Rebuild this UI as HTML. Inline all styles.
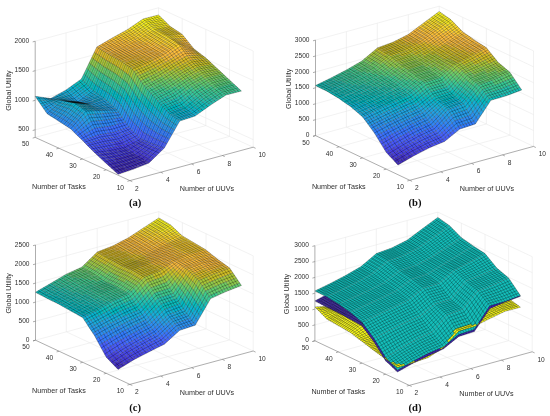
<!DOCTYPE html><html><head><meta charset="utf-8"><title>Figure</title><style>
html,body{margin:0;padding:0;background:#fff}
svg{display:block}
.m{stroke:#000;stroke-width:0.28;stroke-linejoin:round}
.g{stroke:#e8e8e8;stroke-width:.55;fill:none}
.a{stroke:#777;stroke-width:.6;fill:none}
.t{font:6.6px "Liberation Sans",sans-serif;fill:#2e2e2e}
.l{font:7.2px "Liberation Sans",sans-serif;fill:#2e2e2e}
.e{text-anchor:end}
.c{font:bold 10.6px "Liberation Serif",serif;fill:#111}
.k0{fill:#402ab4}.k1{fill:#422ec0}.k2{fill:#4332cb}.k3{fill:#463cde}.k4{fill:#4741e5}.k5{fill:#4747eb}.k6{fill:#4852f4}.k7{fill:#4758f8}.k8{fill:#465efb}.k9{fill:#4563fd}.k10{fill:#3e6fff}.k11{fill:#3875fe}.k12{fill:#327cfc}.k13{fill:#2e87f7}.k14{fill:#2d8cf3}.k15{fill:#2b91ef}.k16{fill:#259be8}.k17{fill:#23a0e5}.k18{fill:#20a5e3}.k19{fill:#18addb}.k20{fill:#12b1d6}.k21{fill:#08b5d0}.k22{fill:#02bac3}.k23{fill:#0bbdbd}.k24{fill:#19bfb6}.k25{fill:#24c1ae}.k26{fill:#31c69f}.k27{fill:#37c897}.k28{fill:#3fca8e}.k29{fill:#57cc7a}.k30{fill:#64cd6f}.k31{fill:#72cd64}.k32{fill:#8fcb4e}.k33{fill:#9dc943}.k34{fill:#abc739}.k35{fill:#c5c22a}.k36{fill:#d1bf27}.k37{fill:#dcbd29}.k38{fill:#f0ba36}.k39{fill:#f8ba3d}.k40{fill:#febe3c}.k41{fill:#fec338}.k42{fill:#fccf30}.k43{fill:#fad62d}.k44{fill:#f7dc2a}.k45{fill:#f5e924}.k46{fill:#f6ef20}.k47{fill:#f7f51b}
.s0{fill:#f6f716}.s1{fill:#3e26a8}.s2{fill:#14beba}
</style></head><body><svg width="550" height="416" viewBox="0 0 550 416">
<path class="g" d="M160.7 172.2L66 129.1M191.6 163.9L96.9 120.7M222.4 155.5L127.7 112.3M253.2 147.2L158.5 104M106.2 169.8L229.5 136.4M82.6 159L205.8 125.6M58.9 148.2L182.2 114.8M35.2 137.4L158.5 104M66 129.1L66 32.9M96.9 120.7L96.9 24.5M127.7 112.3L127.7 16.1M158.5 104L158.5 7.8M253.2 147.2L253.2 51M229.5 136.4L229.5 40.2M205.8 125.6L205.8 29.4M182.2 114.8L182.2 18.6M35.2 129.8L158.5 96.4M158.5 96.4L253.2 139.6M35.2 100.3L158.5 66.9M158.5 66.9L253.2 110.1M35.2 70.7L158.5 37.3M158.5 37.3L253.2 80.5M35.2 41.2L158.5 7.8M158.5 7.8L253.2 51"/>
<path class="k20" d="M35.2 96.3l5.1 .7 3.4 3.5-5.1 .7z"/>
<path class="k19" d="M40.3 97l7.7 1.2 3.4 1.3-7.7 1z"/>
<path class="k18" d="M48 98.2l2.6 .4 2.6-1.4 3.4 1-2.6 1-2.6 .3z"/>
<path class="k19" d="M53.2 97.2l10.3-5.8 3.3 2.9-10.2 3.9z"/>
<path class="k20" d="M63.5 91.4l2.5-1.4 2.6-1.8 3.4 3.3-2.6 1.9-2.6 .9z"/>
<path class="k21" d="M68.6 88.2l5.1-3.7 3.4 3.4-5.1 3.6z"/>
<path class="k22" d="M73.7 84.5l2.6-1.8 3.4 3.3-2.6 1.9z"/>
<path class="k23" d="M76.3 82.7l5.1-3.7 3.4 3.4-5.1 3.6z"/>
<path class="k25" d="M81.4 79l2.6-5.3 3.4 3.1-2.6 5.6z"/>
<path class="k27" d="M84 73.7l2.6-5.3 3.4 2.9-2.6 5.5z"/>
<path class="k30" d="M86.6 68.4l2.5-5.4 3.4 2.7-2.5 5.6z"/>
<path class="k32" d="M89.1 63l2.6-5.3 3.4 2.5-2.6 5.5z"/>
<path class="k35" d="M91.7 57.7l2.6-5.4 3.4 2.3-2.6 5.6z"/>
<path class="k38" d="M94.3 52.3l2.6-5.3 3.3 2-2.5 5.6z"/>
<path class="k39" d="M96.9 47l2.5-1.5 3.4 2.1-2.6 1.4z"/>
<path class="k40" d="M99.4 45.5l7.7-4.5 3.4 2.4-7.7 4.2z"/>
<path class="k41" d="M107.1 41l5.2-3 3.3 2.6-5.1 2.8z"/>
<path class="k42" d="M112.3 38l7.7-4.3 3.4 2.7-7.8 4.2z"/>
<path class="k43" d="M120 33.7l5.1-2.8 3.4 2.8-5.1 2.7z"/>
<path class="k44" d="M125.1 30.9l2.6-1.4 2.5-1.7 3.4 2.8-2.5 1.7-2.6 1.4z"/>
<path class="k45" d="M130.2 27.8l5.2-3.5 3.4 2.8-5.2 3.5z"/>
<path class="k46" d="M135.4 24.3l5.1-3.5 3.4 2.8-5.1 3.5z"/>
<path class="k47" d="M140.5 20.8l2.6-1.8 15.4-4 3.4 3.3-15.4 3.6-2.6 1.7z"/>
<path class="k19" d="M38.6 101.2l15.4-2 15.4-5.8 2.6-1.9 3.4 3.4-2.6 1.8-15.4 3.1-15.4 6.4z"/>
<path class="k20" d="M72 91.5l5.1-3.6 3.4 3.3-5.1 3.7z"/>
<path class="k21" d="M77.1 87.9l2.6-1.9 3.4 3.4-2.6 1.8z"/>
<path class="k22" d="M79.7 86l5.1-3.6 3.4 3.4-5.1 3.6z"/>
<path class="k24" d="M84.8 82.4l2.6-5.6 3.4 3.2-2.6 5.8z"/>
<path class="k27" d="M87.4 76.8l2.6-5.5 3.3 2.9-2.5 5.8z"/>
<path class="k29" d="M90 71.3l2.5-5.6 3.4 2.7-2.6 5.8z"/>
<path class="k32" d="M92.5 65.7l2.6-5.5 3.4 2.4-2.6 5.8z"/>
<path class="k35" d="M95.1 60.2l2.6-5.6 3.3 2.3-2.5 5.7z"/>
<path class="k37" d="M97.7 54.6l2.5-5.6 3.4 2.1-2.6 5.8z"/>
<path class="k39" d="M100.2 49l5.2-2.8 3.4 2.2-5.2 2.7z"/>
<path class="k40" d="M105.4 46.2l7.7-4.2 3.4 2.5-7.7 3.9z"/>
<path class="k41" d="M113.1 42l2.5-1.4 5.2-2.8 3.4 2.7-5.2 2.6-2.5 1.4z"/>
<path class="k42" d="M120.8 37.8l7.7-4.1 3.4 2.7-7.7 4.1z"/>
<path class="k43" d="M128.5 33.7l2.6-1.4 2.5-1.7 3.4 2.8-2.6 1.7-2.5 1.3z"/>
<path class="k44" d="M133.6 30.6l5.2-3.5 3.3 2.9-5.1 3.4z"/>
<path class="k45" d="M138.8 27.1l2.5-1.7 3.4 2.8-2.6 1.8z"/>
<path class="k46" d="M141.3 25.4l5.2-3.5 15.4-3.6 3.4 3.3-15.4 3.2-5.2 3.4z"/>
<path class="k17" d="M42 106.2l5.1-2.2 3.4 3.5-5.2 3.6z"/>
<path class="k18" d="M47.1 104l5.1-2.1 3.4 2-5.1 3.6z"/>
<path class="k19" d="M52.2 101.9l5.2-2.1 7.7-1.6 3.4 2-7.7 .1-5.2 3.6z"/>
<path class="k18" d="M65.1 98.2l7.7-1.5 2.6-1.8 3.3 3.4-2.5 1.8-7.7 .1z"/>
<path class="k19" d="M75.4 94.9l5.1-3.7 3.4 3.4-5.2 3.7z"/>
<path class="k20" d="M80.5 91.2l2.6-1.8 3.3 3.4-2.5 1.8z"/>
<path class="k21" d="M83.1 89.4l5.1-3.6 3.4 3.3-5.2 3.7z"/>
<path class="k23" d="M88.2 85.8l2.6-5.8 3.4 3.1-2.6 6z"/>
<path class="k26" d="M90.8 80l2.5-5.8 3.4 2.9-2.5 6z"/>
<path class="k29" d="M93.3 74.2l2.6-5.8 3.4 2.7-2.6 6z"/>
<path class="k31" d="M95.9 68.4l2.6-5.8 3.4 2.5-2.6 6z"/>
<path class="k34" d="M98.5 62.6l2.5-5.7 3.4 2.2-2.5 6z"/>
<path class="k37" d="M101 56.9l2.6-5.8 3.4 2-2.6 6z"/>
<path class="k39" d="M103.6 51.1l7.7-4 3.4 2.3-7.7 3.7z"/>
<path class="k40" d="M111.3 47.1l7.7-4 2.6-1.3 3.4 2.6-2.6 1.3-7.7 3.7z"/>
<path class="k41" d="M121.6 41.8l5.1-2.7 3.4 2.7-5.1 2.6z"/>
<path class="k42" d="M126.7 39.1l7.7-4 3.4 2.8-7.7 3.9z"/>
<path class="k43" d="M134.4 35.1l5.2-3.4 3.4 2.8-5.2 3.4z"/>
<path class="k44" d="M139.6 31.7l5.1-3.5 3.4 2.9-5.1 3.4z"/>
<path class="k45" d="M144.7 28.2l5.2-3.4 3.3 2.9-5.1 3.4z"/>
<path class="k46" d="M149.9 24.8l2.5-.5 3.4 3-2.6 .4z"/>
<path class="k45" d="M152.4 24.3l12.9-2.7 3.3 3.3-12.8 2.4z"/>
<path class="k15" d="M45.3 111.1l2.6-1.8 1.7 2.1 1.7 1-2.6 2.3-1.7-1.1z"/>
<path class="k16" d="M47.9 109.3l2.6-1.8 1.7 1.8 1.7 .8-2.6 2.3-1.7-1z"/>
<path class="k17" d="M50.5 107.5l2.6-1.8 1.6 1.4 1.7 .7-2.5 2.3-1.7-.8z"/>
<path class="k18" d="M53.1 105.7l2.5-1.8 1.7 1.1 1.7 .5-2.6 2.3-1.7-.7z"/>
<path class="k19" d="M55.6 103.9l5.2-3.6 7.7-.1 1.7 1 1.6 .3-7.7-.6-5.1 4.6-1.7-.5z"/>
<path class="k18" d="M68.5 100.2l5.1-.1 1.7 1.5 1.7 .3-5.2-.4-1.6-.3z"/>
<path class="k17" d="M73.6 100.1l2.6 0 2.5-1.8 1.7 1.6 1.7 .5-2.5 1.7-2.6-.2-1.7-.3z"/>
<path class="k18" d="M78.7 98.3l5.2-3.7 1.7 1.7 1.7 .8-5.2 3.3-1.7-.5z"/>
<path class="k19" d="M83.9 94.6l2.5-1.8 1.7 1.7 1.7 .9-2.5 1.7-1.7-.8z"/>
<path class="k20" d="M86.4 92.8l5.2-3.7 1.7 1.7 1.7 1.2-5.2 3.4-1.7-.9z"/>
<path class="k22" d="M91.6 89.1l2.6-6 1.6 1.6 1.7 1.1-2.5 6.2-1.7-1.2z"/>
<path class="k25" d="M94.2 83.1l2.5-6 1.7 1.5 1.7 1.1-2.6 6.1-1.7-1.1z"/>
<path class="k28" d="M96.7 77.1l2.6-6 1.7 1.4 1.7 1-2.6 6.2-1.7-1.1z"/>
<path class="k31" d="M99.3 71.1l2.6-6 1.6 1.3 1.7 1-2.5 6.1-1.7-1z"/>
<path class="k34" d="M101.9 65.1l2.5-6 1.7 1.1 1.7 1-2.6 6.2-1.7-1z"/>
<path class="k37" d="M104.4 59.1l2.6-6 1.7 1 1.7 1-2.6 6.1-1.7-1z"/>
<path class="k38" d="M107 53.1l2.6-1.2 1.7 1 1.6 1-2.5 1.2-1.7-1z"/>
<path class="k39" d="M109.6 51.9l10.2-5 1.7 1.3 1.7 1.1-10.3 4.6-1.6-1z"/>
<path class="k40" d="M119.8 46.9l2.6-1.2 5.1-2.6 1.7 1.3 1.7 1.2-5.1 2.5-2.6 1.2-1.7-1.1z"/>
<path class="k41" d="M127.5 43.1l7.8-3.9 1.6 1.4 1.7 1.1-7.7 3.9-1.7-1.2z"/>
<path class="k42" d="M135.3 39.2l2.5-1.3 2.6-1.7 1.7 1.4 1.7 1.1-2.6 1.8-2.6 1.2-1.7-1.1z"/>
<path class="k43" d="M140.4 36.2l5.1-3.4 1.7 1.4 1.7 1.1-5.1 3.4-1.7-1.1z"/>
<path class="k44" d="M145.5 32.8l5.2-3.4 1.7 1.5 1.6 1-5.1 3.4-1.7-1.1z"/>
<path class="k45" d="M150.7 29.4l2.5-1.7 10.3-1.9 1.7 1.6 1.7 1.1-10.3 1.6-2.6 1.8-1.6-1z"/>
<path class="k44" d="M163.5 25.8l5.1-.9 1.7 1.6 1.7 1.1-5.1 .9-1.7-1.1z"/>
<path class="k15" d="M48.7 114.7l2.6-2.3 3.4 1.9-2.6 2.6z"/>
<path class="k16" d="M51.3 112.4l2.6-2.3 3.3 1.7-2.5 2.5z"/>
<path class="k17" d="M53.9 110.1l2.5-2.3 3.4 1.4-2.6 2.6z"/>
<path class="k18" d="M56.4 107.8l2.6-2.3 3.4 1.2-2.6 2.5z"/>
<path class="k19" d="M59 105.5l2.6-2.3 3.4 .9-2.6 2.6z"/>
<path class="k20" d="M61.6 103.2l2.5-2.3 2.6 .2 3.4 .7-2.6-.2-2.5 2.5z"/>
<path class="k19" d="M66.7 101.1l5.1 .4 3.4 .7-5.1-.4z"/>
<path class="k18" d="M71.8 101.5l5.2 .4 3.4 .7-5.2-.4z"/>
<path class="k17" d="M77 101.9l2.6 .2 2.5-1.7 3.4 1-2.6 1.4-2.5-.2z"/>
<path class="k18" d="M82.1 100.4l5.2-3.3 3.3 1.5-5.1 2.8z"/>
<path class="k19" d="M87.3 97.1l5.1-3.4 3.4 2.1-5.2 2.8z"/>
<path class="k20" d="M92.4 93.7l2.6-1.7 3.3 2.4-2.5 1.4z"/>
<path class="k21" d="M95 92l2.5-6.2 3.4 2.3-2.6 6.3z"/>
<path class="k24" d="M97.5 85.8l2.6-6.1 3.4 2.2-2.6 6.2z"/>
<path class="k27" d="M100.1 79.7l2.6-6.2 3.4 2.2-2.6 6.2z"/>
<path class="k30" d="M102.7 73.5l2.5-6.1 3.4 2-2.5 6.3z"/>
<path class="k33" d="M105.2 67.4l2.6-6.2 3.4 2-2.6 6.2z"/>
<path class="k36" d="M107.8 61.2l2.6-6.1 3.4 1.8-2.6 6.3z"/>
<path class="k38" d="M110.4 55.1l5.1-2.4 3.4 2-5.1 2.2z"/>
<path class="k39" d="M115.5 52.7l10.3-4.6 3.4 2.2-10.3 4.4z"/>
<path class="k40" d="M125.8 48.1l10.3-5.1 3.3 2.3-10.2 5z"/>
<path class="k41" d="M136.1 43l5.1-2.5 3.4 2.4-5.2 2.4z"/>
<path class="k42" d="M141.2 40.5l5.1-3.5 3.4 2.2-5.1 3.7z"/>
<path class="k43" d="M146.3 37l5.2-3.4 3.4 2-5.2 3.6z"/>
<path class="k44" d="M151.5 33.6l5.1-3.5 3.4 1.9-5.1 3.6z"/>
<path class="k45" d="M156.6 30.1l2.6-.4 3.4 2-2.6 .3z"/>
<path class="k44" d="M159.2 29.7l12.8-2.1 3.4 2.3-12.8 1.8z"/>
<path class="k15" d="M52.1 116.9l2.6-2.6 3.4 1.9-2.6 2.8z"/>
<path class="k16" d="M54.7 114.3l2.5-2.5 3.4 1.6-2.5 2.8z"/>
<path class="k17" d="M57.2 111.8l2.6-2.6 3.4 1.4-2.6 2.8z"/>
<path class="k18" d="M59.8 109.2l2.6-2.5 3.4 1.1-2.6 2.8z"/>
<path class="k19" d="M62.4 106.7l2.6-2.6 3.3 .9-2.5 2.8z"/>
<path class="k20" d="M65 104.1l2.5-2.5 5.2 .4 3.3 .6-5.1-.4-2.6 2.8z"/>
<path class="k19" d="M72.7 102l5.1 .4 3.4 .7-5.2-.5z"/>
<path class="k18" d="M77.8 102.4l5.1 .4 7.7-4.2 3.4 1.5-7.7 3.4-5.1-.4z"/>
<path class="k19" d="M90.6 98.6l7.7-4.2 3.4 2.4-7.7 3.3z"/>
<path class="k21" d="M98.3 94.4l2.6-6.3 3.4 2.3-2.6 6.4z"/>
<path class="k24" d="M100.9 88.1l2.6-6.2 3.4 2.2-2.6 6.3z"/>
<path class="k27" d="M103.5 81.9l2.6-6.2 3.3 2.1-2.5 6.3z"/>
<path class="k30" d="M106.1 75.7l2.5-6.3 3.4 2.1-2.6 6.3z"/>
<path class="k33" d="M108.6 69.4l2.6-6.2 3.4 2-2.6 6.3z"/>
<path class="k36" d="M111.2 63.2l2.6-6.3 3.3 1.9-2.5 6.4z"/>
<path class="k38" d="M113.8 56.9l7.7-3.3 3.3 2.1-7.7 3.1z"/>
<path class="k39" d="M121.5 53.6l7.7-3.3 5.1-2.5 3.4 2.3-5.1 2.4-7.8 3.2z"/>
<path class="k40" d="M134.3 47.8l7.7-3.7 3.4 2.4-7.7 3.6z"/>
<path class="k41" d="M142 44.1l2.6-1.2 2.6-1.8 3.3 2.3-2.5 1.8-2.6 1.3z"/>
<path class="k42" d="M147.2 41.1l5.1-3.7 3.4 2.2-5.2 3.8z"/>
<path class="k43" d="M152.3 37.4l2.6-1.8 3.3 2.1-2.5 1.9z"/>
<path class="k44" d="M154.9 35.6l5.1-3.6 12.8-1.8 3.4 2.2-12.8 1.5-5.2 3.8z"/>
<path class="k43" d="M172.8 30.2l2.6-.3 3.4 2.2-2.6 .3z"/>
<path class="k14" d="M55.5 119l2.6-2.8 3.3 1.9-2.5 3.1z"/>
<path class="k16" d="M58.1 116.2l2.5-2.8 3.4 1.7-2.6 3z"/>
<path class="k17" d="M60.6 113.4l2.6-2.8 3.4 1.4-2.6 3.1z"/>
<path class="k18" d="M63.2 110.6l2.6-2.8 3.4 1.1-2.6 3.1z"/>
<path class="k19" d="M65.8 107.8l2.5-2.8 3.4 .8-2.5 3.1z"/>
<path class="k21" d="M68.3 105l2.6-2.8 2.6 .2 3.4 .6-2.6-.2-2.6 3z"/>
<path class="k20" d="M73.5 102.4l5.1 .4 3.4 .7-5.1-.5z"/>
<path class="k19" d="M78.6 102.8l5.1 .5 3.4 .7-5.1-.5z"/>
<path class="k18" d="M83.7 103.3l2.6 .2 5.2-2.2 3.3 1.2-5.1 1.7-2.6-.2z"/>
<path class="k19" d="M91.5 101.3l10.2-4.5 3.4 2.4-10.3 3.3z"/>
<path class="k21" d="M101.7 96.8l2.6-6.4 3.4 2.3-2.6 6.5z"/>
<path class="k24" d="M104.3 90.4l2.6-6.3 3.3 2.2-2.5 6.4z"/>
<path class="k27" d="M106.9 84.1l2.5-6.3 3.4 2.1-2.6 6.4z"/>
<path class="k30" d="M109.4 77.8l2.6-6.3 3.4 2-2.6 6.4z"/>
<path class="k33" d="M112 71.5l2.6-6.3 3.4 1.9-2.6 6.4z"/>
<path class="k36" d="M114.6 65.2l2.5-6.4 3.4 1.9-2.5 6.4z"/>
<path class="k38" d="M117.1 58.8l12.9-5.2 3.4 2.2-12.9 4.9z"/>
<path class="k39" d="M130 53.6l2.6-1.1 7.7-3.6 3.3 2.3-7.7 3.6-2.5 1z"/>
<path class="k40" d="M140.3 48.9l7.7-3.7 3.3 2.4-7.7 3.6z"/>
<path class="k41" d="M148 45.2l5.1-3.7 3.4 2.2-5.2 3.9z"/>
<path class="k42" d="M153.1 41.5l2.6-1.9 3.4 2.1-2.6 2z"/>
<path class="k43" d="M155.7 39.6l5.1-3.8 3.4 2-5.1 3.9z"/>
<path class="k44" d="M160.8 35.8l2.6-1.9 10.3-1.2 3.3 2.1-10.2 1-2.6 2z"/>
<path class="k43" d="M173.7 32.7l5.1-.6 3.4 2.3-5.2 .4z"/>
<path class="k14" d="M58.9 121.2l2.5-3.1 3.4 2.3-2.5 3z"/>
<path class="k15" d="M61.4 118.1l2.6-3 3.4 2.2-2.6 3.1z"/>
<path class="k17" d="M64 115.1l2.6-3.1 3.4 2.3-2.6 3z"/>
<path class="k18" d="M66.6 112l2.6-3.1 3.3 2.3-2.5 3.1z"/>
<path class="k19" d="M69.2 108.9l2.5-3.1 3.4 2.4-2.6 3z"/>
<path class="k21" d="M71.7 105.8l2.6-3 2.6 .2 3.3 2.3-2.5-.1-2.6 3z"/>
<path class="k20" d="M76.9 103l7.7 .7 3.3 2-7.7-.4z"/>
<path class="k19" d="M84.6 103.7l5.1 .5 3.4 1.8-5.2-.3z"/>
<path class="k18" d="M89.7 104.2l15.4-5 3.4 3-15.4 3.8z"/>
<path class="k20" d="M105.1 99.2l2.6-6.5 3.4 3-2.6 6.5z"/>
<path class="k23" d="M107.7 92.7l2.5-6.4 3.4 2.9-2.5 6.5z"/>
<path class="k26" d="M110.2 86.3l2.6-6.4 3.4 2.8-2.6 6.5z"/>
<path class="k29" d="M112.8 79.9l2.6-6.4 3.4 2.6-2.6 6.6z"/>
<path class="k33" d="M115.4 73.5l2.6-6.4 3.3 2.5-2.5 6.5z"/>
<path class="k36" d="M118 67.1l2.5-6.4 3.4 2.4-2.6 6.5z"/>
<path class="k37" d="M120.5 60.7l2.6-1 3.4 2.4-2.6 1z"/>
<path class="k38" d="M123.1 59.7l12.8-4.9 2.6-1.2 3.4 2.2-2.6 1.2-12.8 5.1z"/>
<path class="k39" d="M138.5 53.6l7.7-3.6 3.4 2.1-7.7 3.7z"/>
<path class="k40" d="M146.2 50l5.2-2.4 2.5-1.9 3.4 2.1-2.6 1.9-5.1 2.4z"/>
<path class="k41" d="M153.9 45.7l2.6-2 3.4 2.1-2.6 2z"/>
<path class="k42" d="M156.5 43.7l5.1-4 3.4 2.3-5.1 3.8z"/>
<path class="k43" d="M161.6 39.7l2.6-1.9 3.4 2.3-2.6 1.9z"/>
<path class="k44" d="M164.2 37.8l2.6-2 5.1-.5 3.4 3-5.2-.1-2.5 1.9z"/>
<path class="k43" d="M171.9 35.3l7.7-.7 3.4 3.9-7.7-.2z"/>
<path class="k42" d="M179.6 34.6l2.6-.2 3.4 4.2-2.6-.1z"/>
<path class="k14" d="M62.3 123.4l2.5-3 3.4 2.2-2.6 3z"/>
<path class="k15" d="M64.8 120.4l2.6-3.1 3.4 2.3-2.6 3z"/>
<path class="k16" d="M67.4 117.3l2.6-3 3.3 2.3-2.5 3z"/>
<path class="k18" d="M70 114.3l2.5-3.1 3.4 2.4-2.6 3z"/>
<path class="k19" d="M72.5 111.2l2.6-3 3.4 2.4-2.6 3z"/>
<path class="k20" d="M75.1 108.2l2.6-3 3.4 2.4-2.6 3z"/>
<path class="k21" d="M77.7 105.2l2.5 .1 3.4 2.3-2.5 0z"/>
<path class="k20" d="M80.2 105.3l5.2 .3 3.4 2.1-5.2-.1z"/>
<path class="k19" d="M85.4 105.6l5.1 .3 3.4 1.9-5.1-.1z"/>
<path class="k18" d="M90.5 105.9l2.6 .1 15.4-3.8 3.4 3.1-15.4 2.5-2.6 0z"/>
<path class="k19" d="M108.5 102.2l2.6-6.5 3.3 2.9-2.5 6.7z"/>
<path class="k22" d="M111.1 95.7l2.5-6.5 3.4 2.8-2.6 6.6z"/>
<path class="k26" d="M113.6 89.2l2.6-6.5 3.4 2.7-2.6 6.6z"/>
<path class="k29" d="M116.2 82.7l2.6-6.6 3.4 2.6-2.6 6.7z"/>
<path class="k32" d="M118.8 76.1l2.5-6.5 3.4 2.5-2.5 6.6z"/>
<path class="k35" d="M121.3 69.6l2.6-6.5 3.4 2.4-2.6 6.6z"/>
<path class="k37" d="M123.9 63.1l10.3-4.1 3.4 2.3-10.3 4.2z"/>
<path class="k38" d="M134.2 59l5.1-2 5.2-2.5 3.3 2.2-5.1 2.5-5.1 2.1z"/>
<path class="k39" d="M144.5 54.5l7.7-3.6 3.3 2.1-7.7 3.7z"/>
<path class="k40" d="M152.2 50.9l2.5-1.2 2.6-1.9 3.4 2.1-2.6 1.8-2.6 1.3z"/>
<path class="k41" d="M157.3 47.8l5.1-3.9 3.4 2.2-5.1 3.8z"/>
<path class="k42" d="M162.4 43.9l2.6-1.9 3.4 2.3-2.6 1.8z"/>
<path class="k43" d="M165 42l5.1-3.8 5.2 .1 3.4 3-5.2-.8-5.1 3.8z"/>
<path class="k42" d="M175.3 38.3l5.1 .1 3.4 3.6-5.1-.7z"/>
<path class="k41" d="M180.4 38.4l5.2 .2 3.3 4.1-5.1-.7z"/>
<path class="k13" d="M65.6 125.6l2.6-3 3.4 2.2-2.6 3z"/>
<path class="k15" d="M68.2 122.6l2.6-3 3.4 2.2-2.6 3z"/>
<path class="k16" d="M70.8 119.6l2.5-3 3.4 2.3-2.5 2.9z"/>
<path class="k17" d="M73.3 116.6l2.6-3 3.4 2.3-2.6 3z"/>
<path class="k18" d="M75.9 113.6l2.6-3 3.4 2.3-2.6 3z"/>
<path class="k20" d="M78.5 110.6l2.6-3 5.1 0 3.4 2.2-5.2 .1-2.5 3z"/>
<path class="k19" d="M86.2 107.6l7.7 .2 3.4 1.9-7.7 .1z"/>
<path class="k18" d="M93.9 107.8l2.6 0 7.7-1.3 3.4 2.5-7.8 .6-2.5 .1z"/>
<path class="k17" d="M104.2 106.5l7.7-1.2 3.4 3-7.7 .7z"/>
<path class="k18" d="M111.9 105.3l2.5-6.7 3.4 3-2.5 6.7z"/>
<path class="k22" d="M114.4 98.6l2.6-6.6 3.4 2.9-2.6 6.7z"/>
<path class="k25" d="M117 92l2.6-6.6 3.4 2.7-2.6 6.8z"/>
<path class="k28" d="M119.6 85.4l2.6-6.7 3.3 2.7-2.5 6.7z"/>
<path class="k31" d="M122.2 78.7l2.5-6.6 3.4 2.5-2.6 6.8z"/>
<path class="k35" d="M124.7 72.1l2.6-6.6 3.4 2.4-2.6 6.7z"/>
<path class="k36" d="M127.3 65.5l2.6-1.1 3.3 2.4-2.5 1.1z"/>
<path class="k37" d="M129.9 64.4l12.8-5.2 3.4 2.2-12.9 5.4z"/>
<path class="k38" d="M142.7 59.2l7.7-3.7 3.4 2.1-7.7 3.8z"/>
<path class="k39" d="M150.4 55.5l7.7-3.8 3.4 2.1-7.7 3.8z"/>
<path class="k40" d="M158.1 51.7l5.2-3.7 3.3 2.2-5.1 3.6z"/>
<path class="k41" d="M163.3 48l2.5-1.9 3.4 2.3-2.6 1.8z"/>
<path class="k42" d="M165.8 46.1l5.2-3.7 3.3 2.3-5.1 3.7z"/>
<path class="k43" d="M171 42.4l2.5-1.9 2.6 .4 3.4 2.7-2.6-.7-2.6 1.8z"/>
<path class="k42" d="M176.1 40.9l2.6 .4 3.3 3-2.5-.7z"/>
<path class="k41" d="M178.7 41.3l5.1 .7 3.4 3.6-5.2-1.3z"/>
<path class="k40" d="M183.8 42l2.6 .4 3.4 3.8-2.6-.6z"/>
<path class="k39" d="M186.4 42.4l2.5 .3 3.4 4.2-2.5-.7z"/>
<path class="k13" d="M69 127.8l2.6-3 1.7 1.1 1.7 2-2.6 2.7-1.7-1.7z"/>
<path class="k14" d="M71.6 124.8l2.6-3 1.6 1.2 1.7 2.2-2.5 2.7-1.7-2z"/>
<path class="k15" d="M74.2 121.8l2.5-2.9 1.7 1.1 1.7 2.5-2.6 2.7-1.7-2.2z"/>
<path class="k16" d="M76.7 118.9l2.6-3 1.7 1.2 1.7 2.8-2.6 2.6-1.7-2.5z"/>
<path class="k18" d="M79.3 115.9l2.6-3 1.7 1.2 1.6 3.1-2.5 2.7-1.7-2.8z"/>
<path class="k19" d="M81.9 112.9l2.5-3 7.7-.1 1.7 1 1.7 3.3-7.7 .4-2.6 2.7-1.6-3.1z"/>
<path class="k18" d="M92.1 109.8l7.7-.2 1.7 .9 1.7 3.1-7.7 .5-1.7-3.3z"/>
<path class="k17" d="M99.8 109.6l7.8-.6 1.6 1.2 1.7 2.8-7.7 .6-1.7-3.1z"/>
<path class="k16" d="M107.6 109l7.7-.7 1.6 1.6 1.7 2.4-7.7 .7-1.7-2.8z"/>
<path class="k17" d="M115.3 108.3l2.5-6.7 1.7 1.5 1.7 2.4-2.6 6.8-1.7-2.4z"/>
<path class="k21" d="M117.8 101.6l2.6-6.7 1.7 1.4 1.7 2.4-2.6 6.8-1.7-2.4z"/>
<path class="k24" d="M120.4 94.9l2.6-6.8 1.7 1.4 1.6 2.4-2.5 6.8-1.7-2.4z"/>
<path class="k27" d="M123 88.1l2.5-6.7 1.7 1.3 1.7 2.4-2.6 6.8-1.6-2.4z"/>
<path class="k31" d="M125.5 81.4l2.6-6.8 1.7 1.3 1.7 2.4-2.6 6.8-1.7-2.4z"/>
<path class="k34" d="M128.1 74.6l2.6-6.7 1.7 1.2 1.7 2.3-2.6 6.9-1.7-2.4z"/>
<path class="k36" d="M130.7 67.9l10.2-4.3 1.7 1.1 1.7 2.3-10.2 4.4-1.7-2.3z"/>
<path class="k37" d="M140.9 63.6l5.2-2.2 5.1-2.5 1.7 1.1 1.7 2.1-5.1 2.6-5.2 2.3-1.7-2.3z"/>
<path class="k38" d="M151.2 58.9l7.7-3.8 1.7 1 1.7 2-7.7 4-1.7-2.1z"/>
<path class="k39" d="M158.9 55.1l2.6-1.3 2.6-1.8 1.7 1 1.6 2-2.5 1.8-2.6 1.3-1.7-2z"/>
<path class="k40" d="M164.1 52l5.1-3.6 1.7 1.1 1.7 2.1-5.2 3.4-1.6-2z"/>
<path class="k41" d="M169.2 48.4l2.6-1.8 1.7 1.1 1.7 2.2-2.6 1.7-1.7-2.1z"/>
<path class="k42" d="M171.8 46.6l5.1-3.7 2.6 .7 1.7 1.3 1.7 2.2-2.6-.7-5.1 3.5-1.7-2.2z"/>
<path class="k41" d="M179.5 43.6l5.1 1.3 1.7 1.7 1.7 1.8-5.1-1.3-1.7-2.2z"/>
<path class="k40" d="M184.6 44.9l2.6 .7 1.7 1.8 1.7 1.6-2.6-.6-1.7-1.8z"/>
<path class="k39" d="M187.2 45.6l2.6 .6 1.6 2 1.7 1.4-2.5-.6-1.7-1.6z"/>
<path class="k38" d="M189.8 46.2l2.5 .7 1.7 2.1 1.7 1.3-2.6-.7-1.7-1.4z"/>
<path class="k12" d="M72.4 130.6l2.6-2.7 3.4 3.9-2.6 2.1z"/>
<path class="k13" d="M75 127.9l2.5-2.7 3.4 4.5-2.5 2.1z"/>
<path class="k14" d="M77.5 125.2l2.6-2.7 3.4 5.1-2.6 2.1z"/>
<path class="k15" d="M80.1 122.5l2.6-2.6 3.4 5.6-2.6 2.1z"/>
<path class="k16" d="M82.7 119.9l2.5-2.7 3.4 6.2-2.5 2.1z"/>
<path class="k17" d="M85.2 117.2l2.6-2.7 5.2-.3 3.3 6.6-5.1 .5-2.6 2.1z"/>
<path class="k16" d="M93 114.2l7.7-.4 3.3 6.3-7.7 .7z"/>
<path class="k15" d="M100.7 113.8l2.5-.2 10.3-.8 3.4 5.3-10.3 1.8-2.6 .2z"/>
<path class="k14" d="M113.5 112.8l5.1-.5 3.4 5-5.1 .8z"/>
<path class="k16" d="M118.6 112.3l2.6-6.8 3.4 4.9-2.6 6.9z"/>
<path class="k19" d="M121.2 105.5l2.6-6.8 3.4 4.9-2.6 6.8z"/>
<path class="k22" d="M123.8 98.7l2.5-6.8 3.4 4.8-2.5 6.9z"/>
<path class="k26" d="M126.3 91.9l2.6-6.8 3.4 4.8-2.6 6.8z"/>
<path class="k29" d="M128.9 85.1l2.6-6.8 3.4 4.7-2.6 6.9z"/>
<path class="k32" d="M131.5 78.3l2.6-6.9 3.3 4.8-2.5 6.8z"/>
<path class="k34" d="M134.1 71.4l2.5-1.1 3.4 4.7-2.6 1.2z"/>
<path class="k35" d="M136.6 70.3l12.9-5.6 3.3 4.4-12.8 5.9z"/>
<path class="k36" d="M149.5 64.7l5.1-2.6 3.4 4.2-5.2 2.8z"/>
<path class="k37" d="M154.6 62.1l7.7-4 3.4 4-7.7 4.2z"/>
<path class="k38" d="M162.3 58.1l2.6-1.3 2.5-1.8 3.4 4.1-2.5 1.6-2.6 1.4z"/>
<path class="k39" d="M167.4 55l5.2-3.4 3.4 4.2-5.2 3.3z"/>
<path class="k40" d="M172.6 51.6l5.1-3.5 3.4 4.5-5.1 3.2z"/>
<path class="k41" d="M177.7 48.1l2.6-1.7 2.6 .7 3.3 4.2-2.5-.3-2.6 1.6z"/>
<path class="k40" d="M182.9 47.1l2.5 .6 3.4 3.9-2.6-.3z"/>
<path class="k39" d="M185.4 47.7l5.2 1.3 3.3 3.2-5.1-.6z"/>
<path class="k38" d="M190.6 49l2.5 .6 3.4 2.9-2.6-.3z"/>
<path class="k37" d="M193.1 49.6l2.6 .7 3.4 2.6-2.6-.4z"/>
<path class="k11" d="M75.8 133.9l5.1-4.2 3.4 4.5-5.1 3.1z"/>
<path class="k12" d="M80.9 129.7l2.6-2.1 3.4 5.1-2.6 1.5z"/>
<path class="k13" d="M83.5 127.6l5.1-4.2 3.4 6.2-5.1 3.1z"/>
<path class="k14" d="M88.6 123.4l2.6-2.1 7.7-.7 3.4 6.5-7.7 1-2.6 1.5z"/>
<path class="k13" d="M98.9 120.6l7.7-.7 7.7-1.3 3.4 5.6-7.7 2-7.7 .9z"/>
<path class="k12" d="M114.3 118.6l7.7-1.3 3.4 4.9-7.7 2z"/>
<path class="k14" d="M122 117.3l2.6-6.9 3.4 4.9-2.6 6.9z"/>
<path class="k17" d="M124.6 110.4l2.6-6.8 3.3 4.8-2.5 6.9z"/>
<path class="k21" d="M127.2 103.6l2.5-6.9 3.4 4.9-2.6 6.8z"/>
<path class="k24" d="M129.7 96.7l2.6-6.8 3.4 4.8-2.6 6.9z"/>
<path class="k27" d="M132.3 89.9l2.6-6.9 3.3 4.8-2.5 6.9z"/>
<path class="k31" d="M134.9 83l2.5-6.8 3.4 4.7-2.6 6.9z"/>
<path class="k33" d="M137.4 76.2l10.3-4.7 3.4 4.5-10.3 4.9z"/>
<path class="k34" d="M147.7 71.5l5.1-2.4 2.6-1.4 3.4 4.4-2.6 1.5-5.1 2.4z"/>
<path class="k35" d="M155.4 67.7l5.2-2.8 3.3 4.2-5.1 3z"/>
<path class="k36" d="M160.6 64.9l7.7-4.2 3.3 3.9-7.7 4.5z"/>
<path class="k37" d="M168.3 60.7l5.1-3.3 3.4 4.2-5.2 3z"/>
<path class="k38" d="M173.4 57.4l5.1-3.2 3.4 4.4-5.1 3z"/>
<path class="k39" d="M178.5 54.2l5.2-3.2 5.1 .6 3.4 3.9-5.1 .1-5.2 3z"/>
<path class="k38" d="M188.8 51.6l5.1 .6 3.4 3.3-5.1 0z"/>
<path class="k37" d="M193.9 52.2l5.2 .7 3.4 2.5-5.2 .1z"/>
<path class="k10" d="M79.2 137.3l7.7-4.6 3.4 5-7.7 2.9z"/>
<path class="k11" d="M86.9 132.7l7.7-4.6 10.3-1.3 3.3 6.5-10.2 1.6-7.7 2.8z"/>
<path class="k10" d="M104.9 126.8l5.1-.6 15.4-4 3.4 4.9-15.4 5.3-5.2 .9z"/>
<path class="k12" d="M125.4 122.2l2.6-6.9 3.4 4.9-2.6 6.9z"/>
<path class="k16" d="M128 115.3l2.5-6.9 3.4 4.9-2.5 6.9z"/>
<path class="k19" d="M130.5 108.4l2.6-6.8 3.4 4.8-2.6 6.9z"/>
<path class="k22" d="M133.1 101.6l2.6-6.9 3.4 4.8-2.6 6.9z"/>
<path class="k26" d="M135.7 94.7l2.5-6.9 3.4 4.8-2.5 6.9z"/>
<path class="k29" d="M138.2 87.8l2.6-6.9 3.4 4.8-2.6 6.9z"/>
<path class="k31" d="M140.8 80.9l7.7-3.7 3.4 4.6-7.7 3.9z"/>
<path class="k32" d="M148.5 77.2l7.7-3.6 3.4 4.4-7.7 3.8z"/>
<path class="k33" d="M156.2 73.6l5.2-3 3.3 4.2-5.1 3.2z"/>
<path class="k34" d="M161.4 70.6l5.1-3 3.4 4-5.2 3.2z"/>
<path class="k35" d="M166.5 67.6l5.1-3 2.6-1.5 3.4 4-2.6 1.4-5.1 3.1z"/>
<path class="k36" d="M174.2 63.1l5.1-3 3.4 4.2-5.1 2.8z"/>
<path class="k37" d="M179.3 60.1l7.8-4.5 3.3 4.6-7.7 4.1z"/>
<path class="k38" d="M187.1 55.6l2.5 0 3.4 4.2-2.6 .4z"/>
<path class="k37" d="M189.6 55.6l7.7-.1 3.4 3.2-7.7 1.1z"/>
<path class="k36" d="M197.3 55.5l5.2-.1 3.3 2.6-5.1 .7z"/>
<path class="k9" d="M82.6 140.6l15.4-5.7 10.2-1.6 3.4 4.3-10.3 1.7-15.4 4.7z"/>
<path class="k8" d="M108.2 133.3l5.2-.9 5.1-1.7 3.4 3.9-5.1 2.1-5.2 .9z"/>
<path class="k9" d="M118.5 130.7l10.3-3.6 3.4 3.4-10.3 4.1z"/>
<path class="k11" d="M128.8 127.1l2.6-6.9 3.3 3.4-2.5 6.9z"/>
<path class="k14" d="M131.4 120.2l2.5-6.9 3.4 3.5-2.6 6.8z"/>
<path class="k17" d="M133.9 113.3l2.6-6.9 3.4 3.6-2.6 6.8z"/>
<path class="k21" d="M136.5 106.4l2.6-6.9 3.3 3.6-2.5 6.9z"/>
<path class="k24" d="M139.1 99.5l2.5-6.9 3.4 3.7-2.6 6.8z"/>
<path class="k28" d="M141.6 92.6l2.6-6.9 3.4 3.7-2.6 6.9z"/>
<path class="k29" d="M144.2 85.7l2.6-1.3 3.4 3.7-2.6 1.3z"/>
<path class="k30" d="M146.8 84.4l7.7-3.9 3.4 3.8-7.7 3.8z"/>
<path class="k31" d="M154.5 80.5l5.1-2.5 2.6-1.6 3.4 3.7-2.6 1.6-5.1 2.6z"/>
<path class="k32" d="M162.2 76.4l5.1-3.2 3.4 3.7-5.1 3.2z"/>
<path class="k33" d="M167.3 73.2l5.2-3.1 3.3 3.6-5.1 3.2z"/>
<path class="k34" d="M172.5 70.1l2.5-1.6 2.6-1.4 3.4 3.6-2.6 1.3-2.6 1.7z"/>
<path class="k35" d="M177.6 67.1l7.7-4.2 3.4 3.6-7.7 4.2z"/>
<path class="k36" d="M185.3 62.9l5.1-2.7 12.9-1.8 3.4 3.2-12.9 2.1-5.1 2.8z"/>
<path class="k35" d="M203.3 58.4l2.5-.4 3.4 3.1-2.5 .5z"/>
<path class="k7" d="M85.9 144l15.4-4.7 15.5-2.6 10.2-4.1 3.4 3.6-10.3 4.7-15.4 2.9-15.4 3.6z"/>
<path class="k8" d="M127 132.6l5.2-2.1 3.4 3.4-5.2 2.3z"/>
<path class="k10" d="M132.2 130.5l2.5-6.9 3.4 3.5-2.5 6.8z"/>
<path class="k13" d="M134.7 123.6l2.6-6.8 3.4 3.5-2.6 6.8z"/>
<path class="k16" d="M137.3 116.8l2.6-6.8 3.4 3.5-2.6 6.8z"/>
<path class="k20" d="M139.9 110l2.5-6.9 3.4 3.6-2.5 6.8z"/>
<path class="k23" d="M142.4 103.1l2.6-6.8 3.4 3.7-2.6 6.7z"/>
<path class="k26" d="M145 96.3l2.6-6.9 3.4 3.8-2.6 6.8z"/>
<path class="k28" d="M147.6 89.4l5.1-2.5 3.4 3.7-5.1 2.6z"/>
<path class="k29" d="M152.7 86.9l7.7-3.9 3.4 3.7-7.7 3.9z"/>
<path class="k30" d="M160.4 83l2.6-1.3 2.6-1.6 3.3 3.7-2.5 1.6-2.6 1.3z"/>
<path class="k31" d="M165.6 80.1l5.1-3.2 3.4 3.6-5.2 3.3z"/>
<path class="k32" d="M170.7 76.9l5.1-3.2 3.4 3.6-5.1 3.2z"/>
<path class="k33" d="M175.8 73.7l2.6-1.7 2.6-1.3 3.4 3.5-2.6 1.4-2.6 1.7z"/>
<path class="k34" d="M181 70.7l7.7-4.2 3.4 3.6-7.7 4.1z"/>
<path class="k35" d="M188.7 66.5l5.1-2.8 15.4-2.6 3.4 3.2-15.4 3-5.1 2.8z"/>
<path class="k6" d="M89.3 147.4l15.4-3.6 7.7-1.4 3.4 4.4-7.7 1.5-15.4 2.5z"/>
<path class="k5" d="M112.4 142.4l7.7-1.5 2.6-1.1 3.4 4.1-2.6 1.3-7.7 1.6z"/>
<path class="k6" d="M122.7 139.8l7.7-3.6 3.4 3.7-7.7 4z"/>
<path class="k7" d="M130.4 136.2l5.2-2.3 3.3 3.4-5.1 2.6z"/>
<path class="k9" d="M135.6 133.9l2.5-6.8 3.4 3.5-2.6 6.7z"/>
<path class="k12" d="M138.1 127.1l2.6-6.8 3.4 3.5-2.6 6.8z"/>
<path class="k15" d="M140.7 120.3l2.6-6.8 3.3 3.6-2.5 6.7z"/>
<path class="k19" d="M143.3 113.5l2.5-6.8 3.4 3.7-2.6 6.7z"/>
<path class="k22" d="M145.8 106.7l2.6-6.7 3.4 3.6-2.6 6.8z"/>
<path class="k25" d="M148.4 100l2.6-6.8 3.3 3.7-2.5 6.7z"/>
<path class="k27" d="M151 93.2l5.1-2.6 3.4 3.7-5.2 2.6z"/>
<path class="k28" d="M156.1 90.6l7.7-3.9 3.4 3.8-7.7 3.8z"/>
<path class="k29" d="M163.8 86.7l2.6-1.3 2.5-1.6 3.4 3.7-2.5 1.7-2.6 1.3z"/>
<path class="k30" d="M168.9 83.8l5.2-3.3 3.4 3.7-5.2 3.3z"/>
<path class="k31" d="M174.1 80.5l5.1-3.2 3.4 3.6-5.1 3.3z"/>
<path class="k32" d="M179.2 77.3l2.6-1.7 5.1-2.8 3.4 3.6-5.1 2.8-2.6 1.7z"/>
<path class="k33" d="M186.9 72.8l5.2-2.7 3.3 3.5-5.1 2.8z"/>
<path class="k34" d="M192.1 70.1l5.1-2.8 15.4-3 3.4 3.1-15.4 3.5-5.2 2.7z"/>
<path class="k5" d="M92.7 150.8l12.8-2 1.7 2.1 1.7 1.4-12.8 1.8-1.7-1.6z"/>
<path class="k4" d="M105.5 148.8l2.6-.5 15.4-3.1 5.2-2.6 1.7 1.9 1.6 1.1-5.1 2.9-15.4 3.5-2.6 .3-1.7-1.4z"/>
<path class="k5" d="M128.7 142.6l5.1-2.7 1.7 1.9 1.7 .8-5.2 3-1.6-1.1z"/>
<path class="k6" d="M133.8 139.9l5.1-2.6 1.7 1.7 1.7 .7-5.1 2.9-1.7-.8z"/>
<path class="k8" d="M138.9 137.3l2.6-6.7 1.7 1.7 1.7 .9-2.6 6.5-1.7-.7z"/>
<path class="k11" d="M141.5 130.6l2.6-6.8 1.7 1.8 1.7 1.1-2.6 6.5-1.7-.9z"/>
<path class="k14" d="M144.1 123.8l2.5-6.7 1.7 1.8 1.7 1.3-2.5 6.5-1.7-1.1z"/>
<path class="k18" d="M146.6 117.1l2.6-6.7 1.7 1.8 1.7 1.5-2.6 6.5-1.7-1.3z"/>
<path class="k21" d="M149.2 110.4l2.6-6.8 1.7 1.9 1.7 1.7-2.6 6.5-1.7-1.5z"/>
<path class="k24" d="M151.8 103.6l2.5-6.7 1.7 1.9 1.7 1.9-2.5 6.5-1.7-1.7z"/>
<path class="k26" d="M154.3 96.9l7.8-3.9 1.6 1.9 1.7 2.1-7.7 3.7-1.7-1.9z"/>
<path class="k27" d="M162.1 93l7.7-3.8 1.6 1.9 1.7 2.2-7.7 3.7-1.7-2.1z"/>
<path class="k28" d="M169.8 89.2l5.1-3.3 1.7 1.8 1.7 2.1-5.2 3.5-1.7-2.2z"/>
<path class="k29" d="M174.9 85.9l5.1-3.4 1.7 1.8 1.7 2-5.1 3.5-1.7-2.1z"/>
<path class="k30" d="M180 82.5l5.2-3.3 1.7 1.8 1.7 1.8-5.2 3.5-1.7-2z"/>
<path class="k31" d="M185.2 79.2l5.1-2.8 1.7 1.8 1.7 1.8-5.1 2.8-1.7-1.8z"/>
<path class="k32" d="M190.3 76.4l7.7-4.1 1.7 1.7 1.7 1.8-7.7 4.2-1.7-1.8z"/>
<path class="k33" d="M198 72.3l2.6-1.4 15.4-3.5 1.7 1.6 1.7 1.6-15.4 3.8-2.6 1.4-1.7-1.8z"/>
<path class="k5" d="M96.1 154.1l2.5-.4 3.4 3.1-2.5 .4z"/>
<path class="k4" d="M98.6 153.7l12.9-1.7 5.1-1.2 3.4 2.6-5.1 1.3-12.9 2.1z"/>
<path class="k3" d="M116.6 150.8l10.3-2.3 3.4 2.4-10.3 2.5z"/>
<path class="k4" d="M126.9 148.5l7.7-4.4 3.4 1.9-7.7 4.9z"/>
<path class="k5" d="M134.6 144.1l5.1-3 3.4 1.6-5.1 3.3z"/>
<path class="k6" d="M139.7 141.1l2.6-1.4 3.4 1.4-2.6 1.6z"/>
<path class="k8" d="M142.3 139.7l2.6-6.5 3.4 1.8-2.6 6.1z"/>
<path class="k11" d="M144.9 133.2l2.6-6.5 3.3 2.2-2.5 6.1z"/>
<path class="k14" d="M147.5 126.7l2.5-6.5 3.4 2.6-2.6 6.1z"/>
<path class="k17" d="M150 120.2l2.6-6.5 3.4 3.1-2.6 6z"/>
<path class="k20" d="M152.6 113.7l2.6-6.5 3.3 3.5-2.5 6.1z"/>
<path class="k23" d="M155.2 107.2l2.5-6.5 3.4 3.9-2.6 6.1z"/>
<path class="k24" d="M157.7 100.7l2.6-1.2 3.4 4-2.6 1.1z"/>
<path class="k25" d="M160.3 99.5l7.7-3.7 3.4 4.3-7.7 3.4z"/>
<path class="k26" d="M168 95.8l5.1-2.5 2.6-1.7 3.4 4.3-2.6 1.9-5.1 2.3z"/>
<path class="k27" d="M175.7 91.6l5.1-3.5 3.4 4.1-5.1 3.7z"/>
<path class="k28" d="M180.8 88.1l2.6-1.8 3.4 4-2.6 1.9z"/>
<path class="k29" d="M183.4 86.3l5.2-3.5 3.3 3.8-5.1 3.7z"/>
<path class="k30" d="M188.6 82.8l5.1-2.8 3.4 3.6-5.2 3z"/>
<path class="k31" d="M193.7 80l7.7-4.2 3.4 3.4-7.7 4.4z"/>
<path class="k32" d="M201.4 75.8l2.6-1.4 15.4-3.8 3.4 3.1-15.5 4.1-2.5 1.4z"/>
<path class="k4" d="M99.5 157.2l5.1-.8 3.4 2.9-5.2 1z"/>
<path class="k3" d="M104.6 156.4l10.3-1.7 15.4-3.8 2.6-1.7 3.3 2.3-2.5 1.8-15.4 4.1-10.3 1.9z"/>
<path class="k4" d="M132.9 149.2l5.1-3.2 3.4 1.9-5.2 3.6z"/>
<path class="k5" d="M138 146l5.1-3.3 3.4 1.5-5.1 3.7z"/>
<path class="k6" d="M143.1 142.7l2.6-1.6 3.4 1.3-2.6 1.8z"/>
<path class="k8" d="M145.7 141.1l2.6-6.1 3.3 1.8-2.5 5.6z"/>
<path class="k10" d="M148.3 135l2.5-6.1 3.4 2.2-2.6 5.7z"/>
<path class="k13" d="M150.8 128.9l2.6-6.1 3.4 2.7-2.6 5.6z"/>
<path class="k16" d="M153.4 122.8l2.6-6 3.4 3-2.6 5.7z"/>
<path class="k19" d="M156 116.8l2.5-6.1 3.4 3.5-2.5 5.6z"/>
<path class="k22" d="M158.5 110.7l2.6-6.1 3.4 3.9-2.6 5.7z"/>
<path class="k23" d="M161.1 104.6l5.1-2.2 3.4 4.1-5.1 2z"/>
<path class="k24" d="M166.2 102.4l10.3-4.6 3.4 4.5-10.3 4.2z"/>
<path class="k25" d="M176.5 97.8l5.2-3.7 3.3 4.2-5.1 4z"/>
<path class="k26" d="M181.7 94.1l2.5-1.9 3.4 4.1-2.6 2z"/>
<path class="k27" d="M184.2 92.2l5.2-3.8 3.3 3.9-5.1 4z"/>
<path class="k28" d="M189.4 88.4l2.5-1.8 3.4 3.7-2.6 2z"/>
<path class="k29" d="M191.9 86.6l7.7-4.4 3.4 3.5-7.7 4.6z"/>
<path class="k30" d="M199.6 82.2l5.2-3 3.4 3.5-5.2 3z"/>
<path class="k31" d="M204.8 79.2l2.5-1.4 15.5-4.1 3.3 3.2-15.4 4.3-2.5 1.5z"/>
<path class="k3" d="M102.8 160.3l10.3-1.9 3.4 2.8-10.3 2.2z"/>
<path class="k2" d="M113.1 158.4l5.2-1 15.4-4.1 3.3 2.4-15.4 4.4-5.1 1.1z"/>
<path class="k3" d="M133.7 153.3l5.1-3.6 3.4 2-5.2 4z"/>
<path class="k4" d="M138.8 149.7l2.6-1.8 3.4 1.8-2.6 2z"/>
<path class="k5" d="M141.4 147.9l5.1-3.7 3.4 1.6-5.1 3.9z"/>
<path class="k6" d="M146.5 144.2l2.6-1.8 3.4 1.4-2.6 2z"/>
<path class="k8" d="M149.1 142.4l2.5-5.6 3.4 1.8-2.5 5.2z"/>
<path class="k10" d="M151.6 136.8l2.6-5.7 3.4 2.2-2.6 5.3z"/>
<path class="k13" d="M154.2 131.1l2.6-5.6 3.4 2.6-2.6 5.2z"/>
<path class="k15" d="M156.8 125.5l2.6-5.7 3.3 3.1-2.5 5.2z"/>
<path class="k18" d="M159.4 119.8l2.5-5.6 3.4 3.5-2.6 5.2z"/>
<path class="k20" d="M161.9 114.2l2.6-5.7 3.4 3.9-2.6 5.3z"/>
<path class="k22" d="M164.5 108.5l12.8-5.2 3.4 4.4-12.8 4.7z"/>
<path class="k23" d="M177.3 103.3l2.6-1 2.6-2 3.4 4.4-2.6 2.1-2.6 .9z"/>
<path class="k24" d="M182.5 100.3l2.5-2 3.4 4.2-2.5 2.2z"/>
<path class="k25" d="M185 98.3l5.2-4 3.4 4-5.2 4.2z"/>
<path class="k26" d="M190.2 94.3l2.5-2 3.4 3.9-2.5 2.1z"/>
<path class="k27" d="M192.7 92.3l2.6-2 2.6-1.5 3.4 3.7-2.6 1.6-2.6 2.1z"/>
<path class="k28" d="M197.9 88.8l5.1-3.1 3.4 3.6-5.1 3.2z"/>
<path class="k29" d="M203 85.7l5.2-3 3.3 3.4-5.1 3.2z"/>
<path class="k30" d="M208.2 82.7l2.5-1.5 15.4-4.3 3.4 3.1-15.4 4.6-2.6 1.5z"/>
<path class="k2" d="M106.2 163.4l15.4-3.3 15.4-4.4 2.6-2 3.4 1.9-2.6 2.2-15.4 4.9-15.4 3.8z"/>
<path class="k3" d="M139.6 153.7l2.6-2 3.4 1.8-2.6 2.1z"/>
<path class="k4" d="M142.2 151.7l2.6-2 3.3 1.7-2.5 2.1z"/>
<path class="k5" d="M144.8 149.7l5.1-3.9 3.4 1.3-5.2 4.3z"/>
<path class="k6" d="M149.9 145.8l2.6-2 3.3 1.2-2.5 2.1z"/>
<path class="k8" d="M152.5 143.8l2.5-5.2 3.4 1.4-2.6 5z"/>
<path class="k10" d="M155 138.6l2.6-5.2 3.4 1.6-2.6 5z"/>
<path class="k12" d="M157.6 133.3l2.6-5.3 3.4 1.8-2.6 5.1z"/>
<path class="k15" d="M160.2 128.1l2.5-5.2 3.4 2-2.5 5z"/>
<path class="k17" d="M162.7 122.9l2.6-5.2 3.4 2.2-2.6 5z"/>
<path class="k20" d="M165.3 117.7l2.6-5.3 3.4 2.5-2.6 5z"/>
<path class="k21" d="M167.9 112.4l12.8-4.7 3.4 2.6-12.8 4.6z"/>
<path class="k22" d="M180.7 107.7l2.6-.9 2.6-2.1 3.3 2.7-2.5 2-2.6 .9z"/>
<path class="k23" d="M185.9 104.7l5.1-4.3 3.4 2.9-5.2 4.1z"/>
<path class="k24" d="M191 100.4l2.6-2.1 3.3 3-2.5 2z"/>
<path class="k25" d="M193.6 98.3l2.5-2.1 3.4 3-2.6 2.1z"/>
<path class="k26" d="M196.1 96.2l2.6-2.1 2.6-1.6 3.4 3.1-2.6 1.6-2.6 2z"/>
<path class="k27" d="M201.3 92.5l5.1-3.2 3.4 3.1-5.1 3.2z"/>
<path class="k28" d="M206.4 89.3l5.1-3.2 3.4 3-5.1 3.3z"/>
<path class="k29" d="M211.5 86.1l2.6-1.5 15.4-4.6 3.4 3.2-15.4 4.3-2.6 1.6z"/>
<path class="k1" d="M109.6 166.5l15.4-3.8 10.3-3.3 3.4 2.3-10.3 3.5-15.4 4.4z"/>
<path class="k2" d="M135.3 159.4l5.1-1.6 2.6-2.2 3.4 2-2.6 2.3-5.1 1.8z"/>
<path class="k3" d="M143 155.6l2.6-2.1 3.4 1.8-2.6 2.3z"/>
<path class="k4" d="M145.6 153.5l2.5-2.1 3.4 1.6-2.5 2.3z"/>
<path class="k5" d="M148.1 151.4l5.2-4.3 3.4 1.4-5.2 4.5z"/>
<path class="k6" d="M153.3 147.1l2.5-2.1 3.4 1.2-2.5 2.3z"/>
<path class="k8" d="M155.8 145l2.6-5 3.4 1.4-2.6 4.8z"/>
<path class="k10" d="M158.4 140l2.6-5 3.4 1.6-2.6 4.8z"/>
<path class="k12" d="M161 135l2.6-5.1 3.3 1.9-2.5 4.8z"/>
<path class="k15" d="M163.6 129.9l2.5-5 3.4 2.1-2.6 4.8z"/>
<path class="k17" d="M166.1 124.9l2.6-5 3.4 2.2-2.6 4.9z"/>
<path class="k19" d="M168.7 119.9l2.6-5 3.3 2.4-2.5 4.8z"/>
<path class="k20" d="M171.3 114.9l2.5-.9 3.4 2.4-2.6 .9z"/>
<path class="k21" d="M173.8 114l12.9-4.6 2.5-2 3.4 2.7-2.5 1.9-12.9 4.4z"/>
<path class="k22" d="M189.2 107.4l2.6-2.1 3.4 2.8-2.6 2z"/>
<path class="k23" d="M191.8 105.3l2.6-2 3.4 2.9-2.6 1.9z"/>
<path class="k24" d="M194.4 103.3l5.1-4.1 3.4 3.1-5.1 3.9z"/>
<path class="k25" d="M199.5 99.2l2.6-2 3.4 3.1-2.6 2z"/>
<path class="k26" d="M202.1 97.2l5.1-3.2 3.4 3-5.1 3.3z"/>
<path class="k27" d="M207.2 94l5.2-3.3 3.3 3.1-5.1 3.2z"/>
<path class="k28" d="M212.4 90.7l5.1-3.2 15.4-4.3 3.4 3.1-15.4 4.2-5.2 3.3z"/>
<path class="k0" d="M113 169.6l10.3-2.9 3.3 2.7-10.2 3.3z"/>
<path class="k1" d="M123.3 166.7l5.1-1.5 15.4-5.3 3.4 2.1-15.4 5.8-5.2 1.6z"/>
<path class="k2" d="M143.8 159.9l2.6-2.3 3.4 1.9-2.6 2.5z"/>
<path class="k3" d="M146.4 157.6l2.6-2.3 3.3 1.8-2.5 2.4z"/>
<path class="k4" d="M149 155.3l2.5-2.3 3.4 1.7-2.6 2.4z"/>
<path class="k5" d="M151.5 153l5.2-4.5 3.3 1.3-5.1 4.9z"/>
<path class="k6" d="M156.7 148.5l2.5-2.3 3.4 1.2-2.6 2.4z"/>
<path class="k8" d="M159.2 146.2l2.6-4.8 3.4 1.4-2.6 4.6z"/>
<path class="k10" d="M161.8 141.4l2.6-4.8 3.3 1.6-2.5 4.6z"/>
<path class="k12" d="M164.4 136.6l2.5-4.8 3.4 1.8-2.6 4.6z"/>
<path class="k14" d="M166.9 131.8l2.6-4.8 3.4 2-2.6 4.6z"/>
<path class="k17" d="M169.5 127l2.6-4.9 3.4 2.3-2.6 4.6z"/>
<path class="k19" d="M172.1 122.1l2.5-4.8 3.4 2.5-2.5 4.6z"/>
<path class="k20" d="M174.6 117.3l15.5-5.3 3.3 2.7-15.4 5.1z"/>
<path class="k21" d="M190.1 112l5.1-3.9 3.4 2.8-5.2 3.8z"/>
<path class="k22" d="M195.2 108.1l2.6-1.9 3.3 2.9-2.5 1.8z"/>
<path class="k23" d="M197.8 106.2l5.1-3.9 3.4 3-5.2 3.8z"/>
<path class="k24" d="M202.9 102.3l2.6-2 3.3 3.1-2.5 1.9z"/>
<path class="k25" d="M205.5 100.3l5.1-3.3 3.4 3.1-5.2 3.3z"/>
<path class="k26" d="M210.6 97l5.1-3.2 3.4 3-5.1 3.3z"/>
<path class="k27" d="M215.7 93.8l5.2-3.3 3.4 3-5.2 3.3z"/>
<path class="k28" d="M220.9 90.5l12.8-3.5 3.4 3.1-12.8 3.4z"/>
<path class="k27" d="M233.7 87l2.6-.7 3.4 3.1-2.6 .7z"/>
<path class="k0" d="M116.4 172.7l15.4-4.9 5.1-1.9 1.7 1.2-5.1 2-15.4 5.2z"/>
<path class="k1" d="M136.9 165.9l10.3-3.9 1.7 1-10.3 4.1z"/>
<path class="k2" d="M147.2 162l2.6-2.5 1.7 1-2.6 2.5z"/>
<path class="k3" d="M149.8 159.5l2.5-2.4 1.7 .9-2.5 2.5z"/>
<path class="k4" d="M152.3 157.1l2.6-2.4 1.7 .8-2.6 2.5z"/>
<path class="k5" d="M154.9 154.7l5.1-4.9 1.7 .7-5.1 5z"/>
<path class="k6" d="M160 149.8l2.6-2.4 1.7 .6-2.6 2.5z"/>
<path class="k8" d="M162.6 147.4l2.6-4.6 1.7 .7-2.6 4.5z"/>
<path class="k10" d="M165.2 142.8l2.5-4.6 1.7 .8-2.5 4.5z"/>
<path class="k12" d="M167.7 138.2l2.6-4.6 1.7 .9-2.6 4.5z"/>
<path class="k14" d="M170.3 133.6l2.6-4.6 1.7 1-2.6 4.5z"/>
<path class="k16" d="M172.9 129l2.6-4.6 1.6 1.1-2.5 4.5z"/>
<path class="k18" d="M175.5 124.4l2.5-4.6 1.7 1.2-2.6 4.5z"/>
<path class="k20" d="M178 119.8l15.4-5.1 2.6-1.9 1.7 1.3-2.6 1.9-15.4 5z"/>
<path class="k21" d="M196 112.8l2.6-1.9 1.7 1.4-2.6 1.8z"/>
<path class="k22" d="M198.6 110.9l5.1-3.7 1.7 1.5-5.1 3.6z"/>
<path class="k23" d="M203.7 107.2l5.1-3.8 1.7 1.6-5.1 3.7z"/>
<path class="k24" d="M208.8 103.4l2.6-1.6 1.7 1.5-2.6 1.7z"/>
<path class="k25" d="M211.4 101.8l5.2-3.3 1.6 1.5-5.1 3.3z"/>
<path class="k26" d="M216.6 98.5l5.1-3.4 1.7 1.6-5.2 3.3z"/>
<path class="k27" d="M221.7 95.1l2.6-1.6 15.4-4.1 1.7 1.6-15.5 4-2.5 1.7z"/>
<path class="m" fill="none" d="M35.2 96.3l15.4 2.3 15.4-8.6 15.4-11 15.5-32 15.4-9 15.4-8.5 15.4-10.5 15.4-4M36.9 98.7l15.4 .2 15.4-7.2 15.4-11 15.4-32.7 15.5-8.7 15.4-8.4 15.4-10.4 15.4-3.9M38.6 101.2l15.4-2 15.4-5.8 15.4-11 15.4-33.4 15.4-8.4 15.5-8.3 15.4-10.4 15.4-3.6M40.3 103.7l15.4-4.2 15.4-4.5 15.4-10.9 15.4-34 15.4-8.2 15.4-8.2 15.5-10.3 15.4-3.5M42 106.2l15.4-6.4 15.4-3.1 15.4-10.9 15.4-34.7 15.4-8 15.4-8 15.5-10.3 15.4-3.2M43.7 108.7l15.4-8.7 15.4-1.6 15.4-11 15.4-35.3 15.4-7.7 15.4-7.9 15.4-10.2 15.5-3.1M45.3 111.1l15.5-10.8 15.4-.2 15.4-11 15.4-36 15.4-7.4 15.4-7.8 15.4-10.2 15.4-2.8M47 113.6l15.5-13 15.4 1.2 15.4-11 15.4-36.7 15.4-7.1 15.4-7.7 15.4-10.1 15.4-2.7M48.7 114.7l15.4-13.8 15.5 1.2 15.4-10.1 15.4-36.9 15.4-7 15.4-7.6 15.4-10.4 15.4-2.5M50.4 115.8l15.4-14.6 15.4 1.3 15.5-9.3 15.4-37.2 15.4-6.8 15.4-7.5 15.4-10.6 15.4-2.4M52.1 116.9l15.4-15.3 15.4 1.2 15.4-8.4 15.5-37.5 15.4-6.6 15.4-7.4 15.4-10.9 15.4-2.1M53.8 117.9l15.4-16 15.4 1.3 15.4-7.6 15.5-37.7 15.4-6.5 15.4-7.3 15.4-11.1 15.4-2M55.5 119l15.4-16.8 15.4 1.3 15.4-6.7 15.4-38 15.5-6.3 15.4-7.3 15.4-11.3 15.4-1.8M57.2 120.1l15.4-17.6 15.4 1.4 15.4-5.9 15.4-38.2 15.4-6.1 15.5-7.3 15.4-11.6 15.4-1.5M58.9 121.2l15.4-18.4 15.4 1.4 15.4-5 15.4-38.5 15.4-5.9 15.4-7.2 15.5-11.8 15.4-1.4M60.6 122.3l15.4-18.3 15.4 1.1 15.4-4.4 15.4-38.8 15.4-6 15.4-7.2 15.5-11.7 15.4-.5M62.3 123.4l15.4-18.2 15.4 .8 15.4-3.8 15.4-39.1 15.4-6.1 15.4-7.3 15.4-11.5 15.5 .4M63.9 124.5l15.5-18.1 15.4 .5 15.4-3.1 15.4-39.5 15.4-6.2 15.4-7.4 15.4-11.3 15.4 1.2M65.6 125.6l15.5-18 15.4 .2 15.4-2.5 15.4-39.8 15.4-6.3 15.4-7.5 15.4-11.2 15.4 2.2M67.3 126.7l15.4-18 15.5 0 15.4-1.9 15.4-40.1 15.4-6.4 15.4-7.5 15.4-11.1 15.4 3.1M69 127.8l15.4-17.9 15.4-.3 15.5-1.3 15.4-40.4 15.4-6.5 15.4-7.6 15.4-10.9 15.4 4M70.7 128.9l15.4-17.8 15.4-.6 15.4-.6 15.5-40.8 15.4-6.6 15.4-7.7 15.4-10.7 15.4 4.9M72.4 130.6l15.4-16.1 15.4-.9 15.4-1.3 15.5-40.9 15.4-6.7 15.4-7.9 15.4-10.4 15.4 3.9M74.1 132.2l15.4-14.3 15.4-1.1 15.4-2 15.4-41 15.5-6.9 15.4-8.2 15.4-10 15.4 2.9M75.8 133.9l15.4-12.6 15.4-1.4 15.4-2.6 15.4-41.1 15.4-7.1 15.5-8.4 15.4-9.7 15.4 1.9M77.5 135.6l15.4-10.9 15.4-1.7 15.4-3.3 15.4-41.1 15.4-7.2 15.5-8.8 15.4-9.3 15.4 .8M79.2 137.3l15.4-9.2 15.4-1.9 15.4-4 15.4-41.3 15.4-7.3 15.4-9 15.5-9 15.4-.2M80.9 138.9l15.4-7.4 15.4-2.2 15.4-4.7 15.4-41.3 15.4-7.5 15.4-9.3 15.4-8.6 15.5-1.2M82.6 140.6l15.4-5.7 15.4-2.5 15.4-5.3 15.4-41.4 15.4-7.7 15.4-9.5 15.4-8.3 15.4-2.2M84.2 142.3l15.5-5.2 15.4-2.5 15.4-5.8 15.4-41.2 15.4-7.8 15.4-9.5 15.4-8.3 15.4-2.4M85.9 144l15.4-4.7 15.5-2.6 15.4-6.2 15.4-41.1 15.4-7.7 15.4-9.7 15.4-8.3 15.4-2.6M87.6 145.7l15.4-4.1 15.4-2.8 15.5-6.6 15.4-40.9 15.4-7.7 15.4-9.8 15.4-8.3 15.4-2.8M89.3 147.4l15.4-3.6 15.4-2.9 15.5-7 15.4-40.7 15.4-7.8 15.4-9.8 15.4-8.3 15.4-3M91 149.1l15.4-3 15.4-3 15.4-7.5 15.5-40.6 15.4-7.7 15.4-9.9 15.4-8.3 15.4-3.2M92.7 150.8l15.4-2.5 15.4-3.1 15.4-7.9 15.4-40.4 15.5-7.7 15.4-10 15.4-8.3 15.4-3.5M94.4 152.5l15.4-1.9 15.4-3.3 15.4-8.3 15.4-40.2 15.4-7.7 15.5-10.1 15.4-8.3 15.4-3.7M96.1 154.1l15.4-2.1 15.4-3.5 15.4-8.8 15.4-39 15.4-7.4 15.5-10.5 15.4-8.4 15.4-3.8M97.8 155.6l15.4-2.3 15.4-3.6 15.4-9.3 15.4-37.7 15.4-7.2 15.4-10.8 15.5-8.6 15.4-3.9M99.5 157.2l15.4-2.5 15.4-3.8 15.4-9.8 15.4-36.5 15.4-6.8 15.4-11.2 15.4-8.8 15.5-4.1M101.2 158.7l15.4-2.7 15.4-3.9 15.4-10.4 15.4-35.1 15.4-6.6 15.4-11.6 15.4-8.9 15.5-4.2M102.8 160.3l15.5-2.9 15.4-4.1 15.4-10.9 15.4-33.9 15.4-6.2 15.4-12 15.4-9.1 15.4-4.3M104.5 161.9l15.4-3.1 15.5-4.3 15.4-11.4 15.4-32.6 15.4-6 15.4-12.3 15.4-9.3 15.4-4.4M106.2 163.4l15.4-3.3 15.4-4.4 15.5-11.9 15.4-31.4 15.4-5.6 15.4-12.7 15.4-9.5 15.4-4.6M107.9 165l15.4-3.6 15.4-4.7 15.5-12.3 15.4-30.7 15.4-5.6 15.4-12.5 15.4-9.6 15.4-4.4M109.6 166.5l15.4-3.8 15.4-4.9 15.4-12.8 15.5-30.1 15.4-5.5 15.4-12.2 15.4-9.7 15.4-4.3M111.3 168.1l15.4-4.1 15.4-5.2 15.4-13.2 15.4-29.5 15.5-5.4 15.4-12 15.4-9.7 15.4-4.3M113 169.6l15.4-4.4 15.4-5.3 15.4-13.7 15.4-28.9 15.5-5.3 15.4-11.7 15.4-9.8 15.4-4.2M114.7 171.2l15.4-4.7 15.4-5.6 15.4-14.1 15.4-28.3 15.4-5.1 15.5-11.5 15.4-9.9 15.4-4.1M116.4 172.7l15.4-4.9 15.4-5.8 15.4-14.6 15.4-27.6 15.4-5.1 15.4-11.3 15.5-9.9 15.4-4.1M118.1 174.3l15.4-5.2 15.4-6.1 15.4-15 15.4-27 15.4-5 15.4-11 15.4-10 15.5-4M35.2 96.3l11.8 17.3 11.9 7.6 11.8 7.7 11.9 11.7 11.8 11.9 11.8 10.9 11.9 10.9M37.8 96.7l11.8 14.7 11.8 6.7 11.9 7.8 11.8 13.8 11.9 12.5 11.8 10.7 11.8 10.5M40.3 97l11.9 12.3 11.8 5.8 11.8 7.9 11.9 15.7 11.8 13.2 11.9 10.4 11.8 10.2M42.9 97.4l11.8 9.7 11.9 4.9 11.8 8 11.9 17.7 11.8 13.9 11.8 10.2 11.9 9.9M45.5 97.8l11.8 7.2 11.9 3.9 11.8 8.2 11.8 19.7 11.9 14.4 11.8 10 11.8 9.6M48 98.2l11.9 4.6 11.8 3 11.9 8.3 11.8 21.7 11.8 15.1 11.9 9.8 11.8 9.2M50.6 98.6l11.9 2 11.8 2.2 11.8 8.3 11.9 23.8 11.8 15.7 11.8 9.5 11.9 9M53.2 97.2l11.8 3.6 11.9 2.2 11.8 8 11.8 23.5 11.9 15.5 11.8 9.4 11.8 8.7M55.7 95.7l11.9 5.3 11.8 2.3 11.9 7.6 11.8 23.2 11.8 15.4 11.9 9.1 11.8 8.5M58.3 94.3l11.9 6.9 11.8 2.3 11.8 7.3 11.9 22.9 11.8 15.2 11.8 9 11.9 8.1M60.9 92.9l11.8 8.5 11.9 2.3 11.8 7 11.8 22.6 11.9 15.1 11.8 8.7 11.8 7.9M63.5 91.4l11.8 10.2 11.8 2.4 11.9 6.6 11.8 22.3 11.8 15 11.9 8.5 11.8 7.6M66 90l11.9 11.8 11.8 2.4 11.8 6.3 11.9 21.9 11.8 14.9 11.8 8.4 11.9 7.3M68.6 88.2l11.8 11.7 11.9 3.5 11.8 7 11.8 21.2 11.9 14.3 11.8 7.8 11.9 6.8M71.2 86.3l11.8 11.8 11.8 4.4 11.9 7.8 11.8 20.4 11.9 13.8 11.8 7.2 11.8 6.3M73.7 84.5l11.9 11.8 11.8 5.4 11.8 8.5 11.9 19.6 11.8 13.3 11.9 6.6 11.8 5.8M76.3 82.7l11.8 11.8 11.9 6.3 11.8 9.3 11.9 18.8 11.8 12.9 11.8 6 11.9 5.2M78.9 80.8l11.8 11.8 11.8 7.4 11.9 10 11.8 18 11.9 12.4 11.8 5.4 11.8 4.7M81.4 79l11.9 11.8 11.8 8.4 11.8 10.7 11.9 17.2 11.8 11.9 11.9 4.8 11.8 4.2M84 73.7l11.8 11 11.9 8 11.8 10.4 11.9 17.1 11.8 12.1 11.8 6.3 11.9 4.9M86.6 68.4l11.8 10.2 11.8 7.7 11.9 10 11.8 17 11.9 12.3 11.8 7.8 11.8 5.6M89.1 63l11.9 9.5 11.8 7.4 11.9 9.6 11.8 16.9 11.8 12.5 11.9 9.2 11.8 6.4M91.7 57.7l11.8 8.7 11.9 7.1 11.8 9.2 11.9 16.8 11.8 12.7 11.8 10.7 11.9 7.1M94.3 52.3l11.8 7.9 11.9 6.9 11.8 8.8 11.8 16.7 11.9 12.9 11.8 12.2 11.8 7.8M96.9 47l11.8 7.1 11.8 6.6 11.9 8.4 11.8 16.6 11.8 13.1 11.9 13.6 11.8 8.6M99.4 45.5l11.9 7.4 11.8 6.8 11.8 8.3 11.9 16.4 11.8 13.1 11.8 14 11.9 8.6M102 44l11.8 7.8 11.9 6.9 11.8 8.2 11.8 16.2 11.9 13.1 11.8 14.4 11.8 8.7M104.6 42.5l11.8 8.1 11.8 7.1 11.9 8.1 11.8 16 11.8 13.1 11.9 14.7 11.8 8.9M107.1 41l11.9 8.4 11.8 7.3 11.8 8 11.9 15.8 11.8 13.1 11.8 15.1 11.9 8.9M109.7 39.5l11.8 8.7 11.9 7.6 11.8 7.8 11.8 15.7 11.9 13 11.8 15.4 11.9 9.1M112.3 38l11.8 9 11.8 7.8 11.9 7.7 11.8 15.5 11.8 13.1 11.9 15.7 11.8 9.2M114.8 36.6l11.9 9.1 11.8 7.9 11.8 7.6 11.9 15.2 11.8 13 11.9 15.3 11.8 9.4M117.4 35.2l11.8 9.2 11.9 8 11.8 7.6 11.8 14.8 11.9 12.9 11.8 14.8 11.9 9.8M120 33.7l11.8 9.4 11.8 8.1 11.9 7.5 11.8 14.5 11.9 12.8 11.8 14.4 11.8 10.1M122.5 32.3l11.9 9.6 11.8 8.1 11.8 7.4 11.9 14.2 11.8 12.7 11.9 14 11.8 10.4M125.1 30.9l11.8 9.7 11.9 8.2 11.8 7.3 11.9 14 11.8 12.5 11.8 13.6 11.9 10.6M127.7 29.5l11.8 9.8 11.8 8.3 11.9 7.2 11.8 13.7 11.9 12.5 11.8 13.1 11.8 10.9M130.2 27.8l11.9 9.8 11.8 8.1 11.9 7.3 11.8 14.1 11.8 12.5 11.9 12.9 11.8 10.8M132.8 26l11.8 9.9 11.9 7.8 11.8 7.5 11.9 14.5 11.8 12.5 11.8 12.7 11.9 10.8M135.4 24.3l11.8 9.9 11.9 7.5 11.8 7.8 11.8 14.8 11.9 12.5 11.8 12.5 11.8 10.7M137.9 22.5l11.8 10.1 11.8 7.1 11.9 8 11.8 15.2 11.8 12.5 11.9 12.3 11.8 10.6M140.5 20.8l11.9 10.1 11.8 6.9 11.8 8.1 11.9 15.7 11.8 12.4 11.8 12.1 11.9 10.6M143.1 19l11.8 10.2 11.9 6.6 11.8 8.3 11.8 16.1 11.9 12.5 11.8 11.9 11.8 10.4M145.7 18.3l11.8 10.4 11.8 6.8 11.9 9.4 11.8 14.9 11.8 12.2 11.9 11.8 11.8 10.5M148.2 17.7l11.9 10.6 11.8 7 11.8 10.5 11.9 13.6 11.8 12 11.8 11.6 11.9 10.6M150.8 17l11.8 10.8 11.9 7.3 11.8 11.5 11.8 12.5 11.9 11.7 11.8 11.5 11.9 10.7M153.4 16.3l11.8 11.1 11.8 7.4 11.9 12.6 11.8 11.3 11.9 11.5 11.8 11.3 11.8 10.8M155.9 15.7l11.9 11.2 11.8 7.7 11.8 13.6 11.9 10.2 11.8 11.2 11.9 11.2 11.8 10.8M158.5 15l11.8 11.5 11.9 7.9 11.8 14.6 11.8 9 11.9 11 11.8 11 11.9 11"/>
<path class="a" d="M129.9 180.6L253.2 147.2"/>
<path class="a" d="M129.9 180.6L35.2 137.4"/>
<path class="a" d="M35.2 137.4L35.2 41.2"/>
<path class="a" d="M129.9 180.6L132.3 181.7"/>
<text class="t" x="135.1" y="190.6">2</text>
<path class="a" d="M160.7 172.2L163.1 173.3"/>
<text class="t" x="165.9" y="182.2">4</text>
<path class="a" d="M191.6 163.9L193.9 165"/>
<text class="t" x="196.8" y="173.9">6</text>
<path class="a" d="M222.4 155.5L224.7 156.6"/>
<text class="t" x="227.6" y="165.5">8</text>
<path class="a" d="M253.2 147.2L255.6 148.3"/>
<text class="t" x="258.4" y="157.2">10</text>
<path class="a" d="M129.9 180.6L127.4 181.3"/>
<text class="t e" x="124" y="189.5">10</text>
<path class="a" d="M106.2 169.8L103.7 170.5"/>
<text class="t e" x="100.3" y="178.7">20</text>
<path class="a" d="M82.6 159L80 159.7"/>
<text class="t e" x="76.7" y="167.9">30</text>
<path class="a" d="M58.9 148.2L56.4 148.9"/>
<text class="t e" x="53" y="157.1">40</text>
<path class="a" d="M35.2 137.4L32.7 138.1"/>
<text class="t e" x="29.3" y="146.3">50</text>
<path class="a" d="M35.2 129.8L32.7 130.5"/>
<text class="t e" x="29.2" y="131.4">500</text>
<path class="a" d="M35.2 100.3L32.7 101"/>
<text class="t e" x="29.2" y="101.9">1000</text>
<path class="a" d="M35.2 70.7L32.7 71.4"/>
<text class="t e" x="29.2" y="72.3">1500</text>
<path class="a" d="M35.2 41.2L32.7 41.9"/>
<text class="t e" x="29.2" y="42.8">2000</text>
<text class="l" text-anchor="middle" x="58.9" y="188.9">Number of Tasks</text>
<text class="l" text-anchor="middle" x="207" y="191.4">Number of UUVs</text>
<text class="l" text-anchor="middle" transform="translate(10.5 90.6) rotate(-90)">Global Utility</text>
<text class="c" text-anchor="middle" x="135.2" y="205.5">(a)</text>
<path class="g" d="M440.7 171.8L346.4 127.1M471.6 163.4L377.3 118.7M502.6 154.9L408.3 110.2M533.5 146.4L439.2 101.7M386.2 169.1L509.9 135.2M362.6 157.9L486.4 124M339.1 146.8L462.8 112.9M315.5 135.6L439.2 101.7M346.4 127.1L346.4 31.6M377.3 118.7L377.3 23.2M408.3 110.2L408.3 14.7M439.2 101.7L439.2 6.2M533.5 146.4L533.5 50.9M509.9 135.2L509.9 39.7M486.4 124L486.4 28.5M462.8 112.9L462.8 17.4M315.5 119.7L439.2 85.8M439.2 85.8L533.5 130.5M315.5 103.8L439.2 69.9M439.2 69.9L533.5 114.6M315.5 87.8L439.2 53.9M439.2 53.9L533.5 98.7M315.5 71.9L439.2 38M439.2 38L533.5 82.7M315.5 56L439.2 22.1M439.2 22.1L533.5 66.8M315.5 40.1L439.2 6.2M439.2 6.2L533.5 50.9"/>
<path class="k24" d="M315.5 85.6l7.7-3.8 3.4 1.7-7.7 3.8z"/>
<path class="k25" d="M323.2 81.8l7.8-3.8 3.3 1.7-7.7 3.8z"/>
<path class="k26" d="M331 78l7.7-4 3.4 1.8-7.8 3.9z"/>
<path class="k27" d="M338.7 74l5.1-2.7 3.4 1.8-5.1 2.7z"/>
<path class="k28" d="M343.8 71.3l2.6-1.3 5.2-3 3.3 1.9-5.1 2.9-2.6 1.3z"/>
<path class="k29" d="M351.6 67l5.1-3 3.4 1.9-5.2 3z"/>
<path class="k30" d="M356.7 64l5.2-3 3.4 1.9-5.2 3z"/>
<path class="k31" d="M361.9 61l2.6-2.2 3.3 2-2.5 2.1z"/>
<path class="k32" d="M364.5 58.8l2.5-2.1 3.4 1.9-2.6 2.2z"/>
<path class="k33" d="M367 56.7l2.6-2.2 3.4 2-2.6 2.1z"/>
<path class="k34" d="M369.6 54.5l5.2-4.3 3.3 2-5.1 4.3z"/>
<path class="k35" d="M374.8 50.2l2.5-2.2 3.4 2-2.6 2.2z"/>
<path class="k36" d="M377.3 48l15.5-5.7 3.4 2.1-15.5 5.6z"/>
<path class="k37" d="M392.8 42.3l7.7-3.9 3.4 2.1-7.7 3.9z"/>
<path class="k38" d="M400.5 38.4l5.2-2.6 3.4 2.1-5.2 2.6z"/>
<path class="k39" d="M405.7 35.8l2.6-1.3 2.6-1.9 3.3 2.1-2.6 1.9-2.5 1.3z"/>
<path class="k40" d="M410.9 32.6l5.1-3.8 3.4 2.1-5.2 3.8z"/>
<path class="k41" d="M416 28.8l2.6-2 3.4 2.2-2.6 1.9z"/>
<path class="k42" d="M418.6 26.8l2.6-1.9 3.3 2.2-2.5 1.9z"/>
<path class="k43" d="M421.2 24.9l2.5-1.9 2.6-1.9 3.4 2.2-2.6 1.9-2.6 1.9z"/>
<path class="k44" d="M426.3 21.1l2.6-1.9 3.4 2.2-2.6 1.9z"/>
<path class="k45" d="M428.9 19.2l5.1-3.9 3.4 2.4-5.1 3.7z"/>
<path class="k46" d="M434 15.3l2.6-1.9 3.4 2.4-2.6 1.9z"/>
<path class="k47" d="M436.6 13.4l2.6-1.9 3.4 2.4-2.6 1.9z"/>
<path class="k24" d="M318.9 87.3l7.7-3.8 3.4 1.7-7.8 3.7z"/>
<path class="k25" d="M326.6 83.5l7.7-3.8 3.4 1.8-7.7 3.7z"/>
<path class="k26" d="M334.3 79.7l7.8-3.9 3.3 1.8-7.7 3.9z"/>
<path class="k27" d="M342.1 75.8l7.7-4 3.4 1.9-7.8 3.9z"/>
<path class="k28" d="M349.8 71.8l5.1-2.9 3.4 1.8-5.1 3z"/>
<path class="k29" d="M354.9 68.9l5.2-3 3.4 1.9-5.2 2.9z"/>
<path class="k30" d="M360.1 65.9l5.2-3 3.3 2-5.1 2.9z"/>
<path class="k31" d="M365.3 62.9l2.5-2.1 3.4 1.9-2.6 2.2z"/>
<path class="k32" d="M367.8 60.8l5.2-4.3 3.4 2-5.2 4.2z"/>
<path class="k33" d="M373 56.5l2.6-2.2 3.3 2-2.5 2.2z"/>
<path class="k34" d="M375.6 54.3l2.5-2.1 3.4 2-2.6 2.1z"/>
<path class="k35" d="M378.1 52.2l2.6-2.2 3.4 2.1-2.6 2.1z"/>
<path class="k36" d="M380.7 50l15.5-5.6 2.6-1.3 3.3 2.1-2.6 1.4-15.4 5.5z"/>
<path class="k37" d="M398.8 43.1l5.1-2.6 3.4 2.1-5.2 2.6z"/>
<path class="k38" d="M403.9 40.5l7.7-3.9 3.4 2.1-7.7 3.9z"/>
<path class="k39" d="M411.6 36.6l5.2-3.8 3.4 2.1-5.2 3.8z"/>
<path class="k40" d="M416.8 32.8l2.6-1.9 3.3 2.2-2.5 1.8z"/>
<path class="k41" d="M419.4 30.9l2.6-1.9 3.3 2.2-2.6 1.9z"/>
<path class="k42" d="M422 29l5.1-3.8 3.4 2.3-5.2 3.7z"/>
<path class="k43" d="M427.1 25.2l2.6-1.9 3.4 2.3-2.6 1.9z"/>
<path class="k44" d="M429.7 23.3l5.1-3.7 3.4 2.3-5.1 3.7z"/>
<path class="k45" d="M434.8 19.6l2.6-1.9 3.4 2.3-2.6 1.9z"/>
<path class="k46" d="M437.4 17.7l5.2-3.8 3.3 2.3-5.1 3.8z"/>
<path class="k24" d="M322.2 88.9l7.8-3.7 3.3 1.7-7.7 3.7z"/>
<path class="k25" d="M330 85.2l7.7-3.7 2.6-1.3 3.3 1.7-2.5 1.3-7.8 3.7z"/>
<path class="k26" d="M340.3 80.2l5.1-2.6 3.4 1.7-5.2 2.6z"/>
<path class="k27" d="M345.4 77.6l7.8-3.9 3.3 1.8-7.7 3.8z"/>
<path class="k28" d="M353.2 73.7l5.1-3 3.4 1.9-5.2 2.9z"/>
<path class="k29" d="M358.3 70.7l7.7-4.4 3.4 2-7.7 4.3z"/>
<path class="k30" d="M366 66.3l2.6-1.4 3.4 1.9-2.6 1.5z"/>
<path class="k31" d="M368.6 64.9l5.2-4.3 3.3 2-5.1 4.2z"/>
<path class="k32" d="M373.8 60.6l2.6-2.1 3.3 2-2.6 2.1z"/>
<path class="k33" d="M376.4 58.5l2.5-2.2 3.4 2-2.6 2.2z"/>
<path class="k34" d="M378.9 56.3l2.6-2.1 3.4 2-2.6 2.1z"/>
<path class="k35" d="M381.5 54.2l2.6-2.1 7.7-2.8 3.4 2.1-7.7 2.7-2.6 2.1z"/>
<path class="k36" d="M391.8 49.3l7.7-2.7 5.2-2.7 3.4 2.1-5.2 2.7-7.7 2.7z"/>
<path class="k37" d="M404.7 43.9l5.2-2.6 3.3 2.1-5.1 2.6z"/>
<path class="k38" d="M409.9 41.3l5.1-2.6 2.6-1.9 3.4 2.1-2.6 1.8-5.2 2.7z"/>
<path class="k39" d="M417.6 36.8l2.6-1.9 3.3 2.2-2.5 1.8z"/>
<path class="k40" d="M420.2 34.9l2.5-1.8 3.4 2.1-2.6 1.9z"/>
<path class="k41" d="M422.7 33.1l5.2-3.8 3.4 2.2-5.2 3.7z"/>
<path class="k42" d="M427.9 29.3l2.6-1.8 3.3 2.2-2.5 1.8z"/>
<path class="k43" d="M430.5 27.5l5.1-3.8 3.4 2.3-5.2 3.7z"/>
<path class="k44" d="M435.6 23.7l2.6-1.8 3.4 2.3-2.6 1.8z"/>
<path class="k45" d="M438.2 21.9l5.2-3.8 3.3 2.4-5.1 3.7z"/>
<path class="k46" d="M443.4 18.1l2.5-1.9 3.4 2.4-2.6 1.9z"/>
<path class="k24" d="M325.6 90.6l10.3-4.9 1.7 .8 1.7 1.1-10.3 4.8-1.7-1z"/>
<path class="k25" d="M335.9 85.7l5.2-2.5 2.5-1.3 1.7 .9 1.7 1.1-2.6 1.3-5.1 2.4-1.7-1.1z"/>
<path class="k26" d="M343.6 81.9l7.8-3.8 1.7 .9 1.6 1.1-7.7 3.8-1.7-1.1z"/>
<path class="k27" d="M351.4 78.1l5.1-2.6 2.6-1.5 1.7 1 1.7 1.2-2.6 1.4-5.2 2.5-1.6-1.1z"/>
<path class="k28" d="M359.1 74l5.2-2.9 1.6 1 1.7 1.2-5.1 2.9-1.7-1.2z"/>
<path class="k29" d="M364.3 71.1l5.1-2.8 1.7 .9 1.7 1.3-5.2 2.8-1.7-1.2z"/>
<path class="k30" d="M369.4 68.3l2.6-1.5 2.6-2.1 1.7 1 1.6 1.3-2.5 2.1-2.6 1.4-1.7-1.3z"/>
<path class="k31" d="M374.6 64.7l2.5-2.1 1.7 1 1.7 1.3-2.6 2.1-1.6-1.3z"/>
<path class="k32" d="M377.1 62.6l2.6-2.1 1.7 .9 1.7 1.4-2.6 2.1-1.7-1.3z"/>
<path class="k33" d="M379.7 60.5l2.6-2.2 1.7 1 1.7 1.4-2.6 2.1-1.7-1.4z"/>
<path class="k34" d="M382.3 58.3l5.2-4.2 1.6 1 1.7 1.4-5.1 4.2-1.7-1.4z"/>
<path class="k35" d="M387.5 54.1l15.4-5.4 1.7 1 1.7 1.5-15.5 5.3-1.7-1.4z"/>
<path class="k36" d="M402.9 48.7l7.7-4 1.7 1.1 1.7 1.4-7.7 4-1.7-1.5z"/>
<path class="k37" d="M410.6 44.7l5.2-2.6 1.7 1 1.7 1.5-5.2 2.6-1.7-1.4z"/>
<path class="k38" d="M415.8 42.1l2.6-1.4 2.6-1.8 1.6 1.1 1.7 1.4-2.6 1.8-2.5 1.4-1.7-1.5z"/>
<path class="k39" d="M421 38.9l5.1-3.7 1.7 1.1 1.7 1.5-5.2 3.6-1.7-1.4z"/>
<path class="k40" d="M426.1 35.2l2.6-1.8 1.7 1.1 1.7 1.5-2.6 1.8-1.7-1.5z"/>
<path class="k41" d="M428.7 33.4l5.1-3.7 1.7 1.1 1.7 1.6-5.1 3.6-1.7-1.5z"/>
<path class="k42" d="M433.8 29.7l2.6-1.9 1.7 1.2 1.7 1.6-2.6 1.8-1.7-1.6z"/>
<path class="k43" d="M436.4 27.8l5.2-3.6 1.7 1.1 1.6 1.7-5.1 3.6-1.7-1.6z"/>
<path class="k44" d="M441.6 24.2l2.5-1.9 1.7 1.2 1.7 1.7-2.6 1.8-1.6-1.7z"/>
<path class="k45" d="M444.1 22.3l5.2-3.7 1.7 1.2 1.7 1.7-5.2 3.7-1.7-1.7z"/>
<path class="k23" d="M329 92.4l2.5-1.2 3.4 2.1-2.6 1.1z"/>
<path class="k24" d="M331.5 91.2l10.4-4.8 3.3 2.1-10.3 4.8z"/>
<path class="k25" d="M341.9 86.4l2.5-1.2 5.2-2.6 3.4 2.3-5.2 2.5-2.6 1.1z"/>
<path class="k26" d="M349.6 82.6l7.7-3.8 3.4 2.4-7.7 3.7z"/>
<path class="k27" d="M357.3 78.8l2.6-1.2 5.2-2.9 3.3 2.5-5.1 2.7-2.6 1.3z"/>
<path class="k28" d="M365.1 74.7l5.1-2.8 3.4 2.5-5.2 2.8z"/>
<path class="k29" d="M370.2 71.9l5.2-2.8 3.3 2.6-5.1 2.7z"/>
<path class="k30" d="M375.4 69.1l2.5-2.1 3.4 2.6-2.6 2.1z"/>
<path class="k31" d="M377.9 67l5.2-4.2 3.4 2.7-5.2 4.1z"/>
<path class="k32" d="M383.1 62.8l2.6-2.1 3.3 2.7-2.5 2.1z"/>
<path class="k33" d="M385.7 60.7l2.5-2.1 3.4 2.7-2.6 2.1z"/>
<path class="k34" d="M388.2 58.6l2.6-2.1 7.8-2.6 3.3 2.8-7.7 2.6-2.6 2z"/>
<path class="k35" d="M398.6 53.9l7.7-2.7 5.1-2.6 3.4 2.9-5.1 2.7-7.8 2.5z"/>
<path class="k36" d="M411.4 48.6l7.8-4 3.3 2.9-7.7 4z"/>
<path class="k37" d="M419.2 44.6l2.5-1.4 2.6-1.8 3.4 3-2.6 1.8-2.6 1.3z"/>
<path class="k38" d="M424.3 41.4l2.6-1.8 3.4 3-2.6 1.8z"/>
<path class="k39" d="M426.9 39.6l5.2-3.6 3.3 3.1-5.1 3.5z"/>
<path class="k40" d="M432.1 36l2.5-1.8 3.4 3.2-2.6 1.7z"/>
<path class="k41" d="M434.6 34.2l2.6-1.8 2.6-1.8 3.4 3.2-2.6 1.8-2.6 1.8z"/>
<path class="k42" d="M439.8 30.6l2.6-1.8 3.3 3.3-2.5 1.7z"/>
<path class="k43" d="M442.4 28.8l5.1-3.6 3.4 3.3-5.2 3.6z"/>
<path class="k44" d="M447.5 25.2l5.2-3.7 3.3 3.5-5.1 3.5z"/>
<path class="k23" d="M332.3 94.4l5.2-2.3 3.4 2.1-5.2 2.3z"/>
<path class="k24" d="M337.5 92.1l10.3-4.7 3.4 2.1-10.3 4.7z"/>
<path class="k25" d="M347.8 87.4l7.7-3.7 3.4 2.2-7.7 3.6z"/>
<path class="k26" d="M355.5 83.7l7.8-3.8 3.3 2.4-7.7 3.6z"/>
<path class="k27" d="M363.3 79.9l7.7-4.1 3.4 2.5-7.8 4z"/>
<path class="k28" d="M371 75.8l5.1-2.8 3.4 2.6-5.1 2.7z"/>
<path class="k29" d="M376.1 73l2.6-1.3 2.6-2.1 3.4 2.6-2.6 2-2.6 1.4z"/>
<path class="k30" d="M381.3 69.6l2.6-2.1 3.3 2.7-2.5 2z"/>
<path class="k31" d="M383.9 67.5l2.6-2 3.3 2.6-2.6 2.1z"/>
<path class="k32" d="M386.5 65.5l5.1-4.2 3.4 2.8-5.2 4z"/>
<path class="k33" d="M391.6 61.3l2.6-2 3.4 2.7-2.6 2.1z"/>
<path class="k34" d="M394.2 59.3l15.5-5.1 2.5-1.3 3.4 2.9-2.6 1.4-15.4 4.8z"/>
<path class="k35" d="M412.2 52.9l7.8-4.1 3.3 3-7.7 4z"/>
<path class="k36" d="M420 48.8l5.1-2.6 3.4 2.9-5.2 2.7z"/>
<path class="k37" d="M425.1 46.2l5.2-3.6 3.3 3.1-5.1 3.4z"/>
<path class="k38" d="M430.3 42.6l5.1-3.5 3.4 3.1-5.2 3.5z"/>
<path class="k39" d="M435.4 39.1l2.6-1.7 3.4 3.1-2.6 1.7z"/>
<path class="k40" d="M438 37.4l2.6-1.8 2.6-1.8 3.3 3.3-2.6 1.7-2.5 1.7z"/>
<path class="k41" d="M443.2 33.8l5.1-3.5 3.4 3.3-5.2 3.5z"/>
<path class="k42" d="M448.3 30.3l2.6-1.8 3.4 3.4-2.6 1.7z"/>
<path class="k43" d="M450.9 28.5l5.1-3.5 3.4 3.4-5.1 3.5z"/>
<path class="k23" d="M335.7 96.5l7.7-3.5 3.4 2.1-7.7 3.4z"/>
<path class="k24" d="M343.4 93l7.8-3.5 2.5-1.2 3.4 2.3-2.6 1.1-7.7 3.4z"/>
<path class="k25" d="M353.7 88.3l10.4-4.8 3.3 2.4-10.3 4.7z"/>
<path class="k26" d="M364.1 83.5l2.5-1.2 5.2-2.7 3.4 2.5-5.2 2.6-2.6 1.2z"/>
<path class="k27" d="M371.8 79.6l5.1-2.7 3.4 2.5-5.1 2.7z"/>
<path class="k28" d="M376.9 76.9l5.2-2.7 3.4 2.6-5.2 2.6z"/>
<path class="k29" d="M382.1 74.2l5.1-4 3.4 2.6-5.1 4z"/>
<path class="k30" d="M387.2 70.2l2.6-2.1 3.4 2.7-2.6 2z"/>
<path class="k31" d="M389.8 68.1l2.6-2 3.4 2.7-2.6 2z"/>
<path class="k32" d="M392.4 66.1l5.2-4.1 3.3 2.8-5.1 4z"/>
<path class="k33" d="M397.6 62l15.4-4.8 2.6-1.4 3.4 3-2.6 1.3-15.5 4.7z"/>
<path class="k34" d="M415.6 55.8l5.2-2.7 3.3 3-5.1 2.7z"/>
<path class="k35" d="M420.8 53.1l7.7-4 3.3 2.9-7.7 4.1z"/>
<path class="k36" d="M428.5 49.1l5.1-3.4 3.4 3-5.2 3.3z"/>
<path class="k37" d="M433.6 45.7l2.6-1.8 3.4 3.1-2.6 1.7z"/>
<path class="k38" d="M436.2 43.9l5.2-3.4 3.3 3.2-5.1 3.3z"/>
<path class="k39" d="M441.4 40.5l2.5-1.7 2.6-1.7 3.4 3.2-2.6 1.7-2.6 1.7z"/>
<path class="k40" d="M446.5 37.1l5.2-3.5 3.3 3.3-5.1 3.4z"/>
<path class="k41" d="M451.7 33.6l2.6-1.7 3.3 3.4-2.6 1.6z"/>
<path class="k42" d="M454.3 31.9l5.1-3.5 3.4 3.5-5.2 3.4z"/>
<path class="k22" d="M339.1 98.5l2.6-1.1 3.3 2.3-2.6 1.2z"/>
<path class="k23" d="M341.7 97.4l10.3-4.5 3.3 2.3-10.3 4.5z"/>
<path class="k24" d="M352 92.9l2.5-1.2 7.8-3.5 3.3 2.3-7.7 3.6-2.6 1.1z"/>
<path class="k25" d="M362.3 88.2l7.7-3.5 3.4 2.3-7.8 3.5z"/>
<path class="k26" d="M370 84.7l7.7-3.9 3.4 2.3-7.7 3.9z"/>
<path class="k27" d="M377.7 80.8l7.8-4 3.3 2.4-7.7 3.9z"/>
<path class="k28" d="M385.5 76.8l2.5-2 3.4 2.4-2.6 2z"/>
<path class="k29" d="M388 74.8l2.6-2 3.4 2.4-2.6 2z"/>
<path class="k30" d="M390.6 72.8l5.2-4 3.3 2.4-5.1 4z"/>
<path class="k31" d="M395.8 68.8l2.5-2 3.4 2.4-2.6 2z"/>
<path class="k32" d="M398.3 66.8l2.6-2 15.5-4.7 3.4 2.5-15.5 4.6-2.6 2z"/>
<path class="k33" d="M416.4 60.1l5.1-2.7 3.4 2.3-5.1 2.9z"/>
<path class="k34" d="M421.5 57.4l7.8-4.1 3.3 2.1-7.7 4.3z"/>
<path class="k35" d="M429.3 53.3l2.5-1.3 2.6-1.7 3.4 2.1-2.6 1.6-2.6 1.4z"/>
<path class="k36" d="M434.4 50.3l5.2-3.3 3.3 2.1-5.1 3.3z"/>
<path class="k37" d="M439.6 47l5.1-3.3 3.4 2.1-5.2 3.3z"/>
<path class="k38" d="M444.7 43.7l2.6-1.7 3.4 2.2-2.6 1.6z"/>
<path class="k39" d="M447.3 42l5.2-3.4 3.3 2.3-5.1 3.3z"/>
<path class="k40" d="M452.5 38.6l5.1-3.3 3.4 2.3-5.2 3.3z"/>
<path class="k41" d="M457.6 35.3l5.2-3.4 3.3 2.4-5.1 3.3z"/>
<path class="k22" d="M342.4 100.9l7.8-3.4 3.3 2.3-7.7 3.4z"/>
<path class="k23" d="M350.2 97.5l7.7-3.4 2.6-1.2 3.4 2.3-2.6 1.2-7.8 3.4z"/>
<path class="k24" d="M360.5 92.9l7.7-3.5 3.4 2.3-7.7 3.5z"/>
<path class="k25" d="M368.2 89.4l5.2-2.4 2.5-1.3 3.4 2.4-2.6 1.3-5.1 2.3z"/>
<path class="k26" d="M375.9 85.7l7.8-3.9 3.3 2.4-7.7 3.9z"/>
<path class="k27" d="M383.7 81.8l5.1-2.6 2.6-2 3.4 2.5-2.6 2-5.2 2.5z"/>
<path class="k28" d="M391.4 77.2l2.6-2 3.4 2.5-2.6 2z"/>
<path class="k29" d="M394 75.2l2.6-2 3.3 2.5-2.5 2z"/>
<path class="k30" d="M396.6 73.2l2.5-2 3.4 2.5-2.6 2z"/>
<path class="k31" d="M399.1 71.2l5.2-4 3.4 2.5-5.2 4z"/>
<path class="k32" d="M404.3 67.2l15.5-4.6 2.5-1.5 3.4 2.4-2.6 1.5-15.4 4.7z"/>
<path class="k33" d="M422.3 61.1l5.2-2.8 3.4 2.2-5.2 3z"/>
<path class="k34" d="M427.5 58.3l7.7-4.3 3.4 2-7.7 4.5z"/>
<path class="k35" d="M435.2 54l2.6-1.6 3.4 2-2.6 1.6z"/>
<path class="k36" d="M437.8 52.4l5.1-3.3 3.4 2.1-5.1 3.2z"/>
<path class="k37" d="M442.9 49.1l5.2-3.3 3.4 2.2-5.2 3.2z"/>
<path class="k38" d="M448.1 45.8l2.6-1.6 2.6-1.7 3.3 2.3-2.6 1.6-2.5 1.6z"/>
<path class="k39" d="M453.3 42.5l5.1-3.3 3.4 2.3-5.2 3.3z"/>
<path class="k40" d="M458.4 39.2l5.2-3.3 3.3 2.4-5.1 3.2z"/>
<path class="k41" d="M463.6 35.9l2.5-1.6 3.4 2.3-2.6 1.7z"/>
<path class="k21" d="M345.8 103.2l2.6-1.1 3.4 2.4-2.6 1.1z"/>
<path class="k22" d="M348.4 102.1l7.7-3.4 3.4 2.3-7.7 3.5z"/>
<path class="k23" d="M356.1 98.7l5.2-2.3 5.1-2.3 3.4 2.3-5.2 2.3-5.1 2.3z"/>
<path class="k24" d="M366.4 94.1l10.3-4.7 3.4 2.3-10.3 4.7z"/>
<path class="k25" d="M376.7 89.4l7.8-3.9 3.3 2.4-7.7 3.8z"/>
<path class="k26" d="M384.5 85.5l7.7-3.8 3.4 2.4-7.8 3.8z"/>
<path class="k27" d="M392.2 81.7l2.6-2 3.3 2.4-2.5 2z"/>
<path class="k28" d="M394.8 79.7l2.6-2 3.3 2.4-2.6 2z"/>
<path class="k29" d="M397.4 77.7l5.1-4 3.4 2.4-5.2 4z"/>
<path class="k30" d="M402.5 73.7l2.6-2 3.4 2.4-2.6 2z"/>
<path class="k31" d="M405.1 71.7l2.6-2 15.4-4.7 3.4 2.5-15.5 4.6-2.5 2z"/>
<path class="k32" d="M423.1 65l5.2-3 3.3 2.3-5.1 3.2z"/>
<path class="k33" d="M428.3 62l5.1-3 3.4 2.2-5.2 3.1z"/>
<path class="k34" d="M433.4 59l5.2-3 3.4 2-5.2 3.2z"/>
<path class="k35" d="M438.6 56l5.1-3.2 3.4 2.1-5.1 3.1z"/>
<path class="k36" d="M443.7 52.8l5.2-3.2 3.4 2.1-5.2 3.2z"/>
<path class="k37" d="M448.9 49.6l5.1-3.2 3.4 2.2-5.1 3.1z"/>
<path class="k38" d="M454 46.4l5.2-3.2 3.4 2.2-5.2 3.2z"/>
<path class="k39" d="M459.2 43.2l5.2-3.3 3.3 2.3-5.1 3.2z"/>
<path class="k40" d="M464.4 39.9l2.5-1.6 3.4 2.3-2.6 1.6z"/>
<path class="k41" d="M466.9 38.3l2.6-1.7 3.4 2.4-2.6 1.6z"/>
<path class="k21" d="M349.2 105.6l7.7-3.4 1.7 1.2 1.7 1.4-7.8 3.4-1.6-1.4z"/>
<path class="k22" d="M356.9 102.2l7.7-3.5 1.7 1.2 1.7 1.4-7.7 3.5-1.7-1.4z"/>
<path class="k23" d="M364.6 98.7l10.3-4.7 1.7 1.2 1.7 1.3-10.3 4.8-1.7-1.4z"/>
<path class="k24" d="M374.9 94l5.2-2.3 2.6-1.3 1.7 1.2 1.6 1.3-2.5 1.3-5.2 2.3-1.7-1.3z"/>
<path class="k25" d="M382.7 90.4l7.7-3.8 1.7 1.2 1.7 1.3-7.8 3.8-1.6-1.3z"/>
<path class="k26" d="M390.4 86.6l5.2-2.5 2.5-2 1.7 1.2 1.7 1.3-2.6 2-5.1 2.5-1.7-1.3z"/>
<path class="k27" d="M398.1 82.1l2.6-2 1.7 1.2 1.7 1.3-2.6 2-1.7-1.3z"/>
<path class="k28" d="M400.7 80.1l2.6-2 1.7 1.2 1.7 1.3-2.6 2-1.7-1.3z"/>
<path class="k29" d="M403.3 78.1l2.6-2 1.7 1.2 1.6 1.3-2.5 2-1.7-1.3z"/>
<path class="k30" d="M405.9 76.1l5.1-4 1.7 1.2 1.7 1.3-5.2 4-1.6-1.3z"/>
<path class="k31" d="M411 72.1l15.5-4.6 2.6-1.6 1.7 1.2 1.6 1.2-2.5 1.7-15.5 4.6-1.7-1.3z"/>
<path class="k32" d="M429.1 65.9l5.1-3.2 1.7 1.2 1.7 1-5.2 3.4-1.6-1.2z"/>
<path class="k33" d="M434.2 62.7l5.2-3.1 1.7 1 1.6 .9-5.1 3.4-1.7-1z"/>
<path class="k34" d="M439.4 59.6l2.6-1.6 1.6 1 1.7 .8-2.6 1.7-1.6-.9z"/>
<path class="k35" d="M442 58l5.1-3.1 1.7 1 1.7 .9-5.2 3-1.7-.8z"/>
<path class="k36" d="M447.1 54.9l5.2-3.2 1.6 1.1 1.7 .9-5.1 3.1-1.7-.9z"/>
<path class="k37" d="M452.3 51.7l5.1-3.1 1.7 1.1 1.7 1-5.2 3-1.7-.9z"/>
<path class="k38" d="M457.4 48.6l5.2-3.2 1.7 1.1 1.6 1-5.1 3.2-1.7-1z"/>
<path class="k39" d="M462.6 45.4l5.1-3.2 1.7 1.2 1.7 1-5.2 3.1-1.6-1z"/>
<path class="k40" d="M467.7 42.2l5.2-3.2 1.7 1.2 1.6 1.1-5.1 3.1-1.7-1z"/>
<path class="k20" d="M352.5 108.2l2.6-1.1 3.4 2.8-2.6 1.2z"/>
<path class="k21" d="M355.1 107.1l10.3-4.7 3.4 2.8-10.3 4.7z"/>
<path class="k22" d="M365.4 102.4l2.6-1.1 5.2-2.4 3.3 2.7-5.1 2.4-2.6 1.2z"/>
<path class="k23" d="M373.2 98.9l10.3-4.7 3.3 2.6-10.3 4.8z"/>
<path class="k24" d="M383.5 94.2l7.7-3.8 3.4 2.7-7.8 3.7z"/>
<path class="k25" d="M391.2 90.4l7.7-3.8 3.4 2.7-7.7 3.8z"/>
<path class="k26" d="M398.9 86.6l2.6-2 3.4 2.7-2.6 2z"/>
<path class="k27" d="M401.5 84.6l5.2-4 3.3 2.7-5.1 4z"/>
<path class="k28" d="M406.7 80.6l2.5-2 3.4 2.7-2.6 2z"/>
<path class="k29" d="M409.2 78.6l2.6-2 3.4 2.7-2.6 2z"/>
<path class="k30" d="M411.8 76.6l2.6-2 15.5-4.6 3.3 2.6-15.4 4.7-2.6 2z"/>
<path class="k31" d="M429.9 70l5.1-3.4 3.4 2.3-5.2 3.7z"/>
<path class="k32" d="M435 66.6l2.6-1.7 3.4 2.1-2.6 1.9z"/>
<path class="k33" d="M437.6 64.9l5.1-3.4 3.4 1.8-5.1 3.7z"/>
<path class="k34" d="M442.7 61.5l2.6-1.7 2.6-1.5 3.4 1.6-2.6 1.5-2.6 1.9z"/>
<path class="k35" d="M447.9 58.3l5.2-3.1 3.3 1.8-5.1 2.9z"/>
<path class="k36" d="M453.1 55.2l5.1-3 3.4 1.9-5.2 2.9z"/>
<path class="k37" d="M458.2 52.2l2.6-1.5 2.6-1.6 3.3 2-2.5 1.5-2.6 1.5z"/>
<path class="k38" d="M463.4 49.1l5.1-3.1 3.4 2-5.2 3.1z"/>
<path class="k39" d="M468.5 46l5.2-3.1 3.3 2.1-5.1 3z"/>
<path class="k40" d="M473.7 42.9l2.5-1.6 3.4 2.2-2.6 1.5z"/>
<path class="k19" d="M355.9 111.1l2.6-1.2 3.4 2.9-2.6 1.2z"/>
<path class="k20" d="M358.5 109.9l7.7-3.5 3.4 2.7-7.7 3.7z"/>
<path class="k21" d="M366.2 106.4l5.2-2.4 2.6-1.2 3.3 2.7-2.6 1.2-5.1 2.4z"/>
<path class="k22" d="M374 102.8l10.3-4.8 3.3 2.7-10.3 4.8z"/>
<path class="k23" d="M384.3 98l2.5-1.2 5.2-2.5 3.4 2.7-5.2 2.5-2.6 1.2z"/>
<path class="k24" d="M392 94.3l7.7-3.7 3.4 2.7-7.7 3.7z"/>
<path class="k25" d="M399.7 90.6l2.6-1.3 2.6-2 3.3 2.7-2.5 2-2.6 1.3z"/>
<path class="k26" d="M404.9 87.3l2.6-2 3.3 2.7-2.6 2z"/>
<path class="k27" d="M407.5 85.3l2.5-2 3.4 2.7-2.6 2z"/>
<path class="k28" d="M410 83.3l5.2-4 3.4 2.6-5.2 4.1z"/>
<path class="k29" d="M415.2 79.3l2.6-2 3.3 2.6-2.5 2z"/>
<path class="k30" d="M417.8 77.3l15.4-4.7 2.6-1.9 3.4 2.5-2.6 2-15.5 4.7z"/>
<path class="k31" d="M435.8 70.7l2.6-1.8 3.3 2.2-2.5 2.1z"/>
<path class="k32" d="M438.4 68.9l5.1-3.8 3.4 2-5.2 4z"/>
<path class="k33" d="M443.5 65.1l2.6-1.8 3.4 1.8-2.6 2z"/>
<path class="k34" d="M446.1 63.3l2.6-1.9 2.6-1.5 3.3 1.7-2.5 1.4-2.6 2.1z"/>
<path class="k35" d="M451.3 59.9l5.1-2.9 3.4 1.8-5.2 2.8z"/>
<path class="k36" d="M456.4 57l5.2-2.9 3.3 1.9-5.1 2.8z"/>
<path class="k37" d="M461.6 54.1l2.6-1.5 2.5-1.5 3.4 2-2.6 1.4-2.6 1.5z"/>
<path class="k38" d="M466.7 51.1l5.2-3.1 3.4 2.1-5.2 3z"/>
<path class="k39" d="M471.9 48l7.7-4.5 3.4 2.1-7.7 4.5z"/>
<path class="k19" d="M359.3 114l7.7-3.6 3.4 2.8-7.8 3.7z"/>
<path class="k20" d="M367 110.4l7.7-3.7 3.4 2.7-7.7 3.8z"/>
<path class="k21" d="M374.7 106.7l7.8-3.6 3.3 2.7-7.7 3.6z"/>
<path class="k22" d="M382.5 103.1l7.7-3.6 2.6-1.3 3.4 2.7-2.6 1.2-7.8 3.7z"/>
<path class="k23" d="M392.8 98.2l7.7-3.7 3.4 2.7-7.7 3.7z"/>
<path class="k24" d="M400.5 94.5l5.2-2.5 3.3 2.7-5.1 2.5z"/>
<path class="k25" d="M405.7 92l5.1-4 3.4 2.7-5.2 4z"/>
<path class="k26" d="M410.8 88l2.6-2 3.4 2.7-2.6 2z"/>
<path class="k27" d="M413.4 86l2.6-2 3.3 2.6-2.5 2.1z"/>
<path class="k28" d="M416 84l5.1-4.1 3.4 2.7-5.2 4z"/>
<path class="k29" d="M421.1 79.9l15.5-4.7 3.4 2.6-15.5 4.8z"/>
<path class="k30" d="M436.6 75.2l5.1-4.1 3.4 2.3-5.1 4.4z"/>
<path class="k31" d="M441.7 71.1l2.6-2 3.4 2.1-2.6 2.2z"/>
<path class="k32" d="M444.3 69.1l2.6-2 3.4 1.9-2.6 2.2z"/>
<path class="k33" d="M446.9 67.1l2.6-2 3.3 1.7-2.5 2.2z"/>
<path class="k34" d="M449.5 65.1l2.6-2.1 2.5-1.4 3.4 1.7-2.6 1.3-2.6 2.2z"/>
<path class="k35" d="M454.6 61.6l5.2-2.8 3.4 1.8-5.2 2.7z"/>
<path class="k36" d="M459.8 58.8l7.7-4.3 3.4 2-7.7 4.1z"/>
<path class="k37" d="M467.5 54.5l5.2-2.9 3.3 2-5.1 2.9z"/>
<path class="k38" d="M472.7 51.6l5.1-3 3.4 2.1-5.2 2.9z"/>
<path class="k39" d="M477.8 48.6l5.2-3 3.4 2.2-5.2 2.9z"/>
<path class="k17" d="M362.6 116.9l2.6-1.2 3.4 4.5-2.6 1.3z"/>
<path class="k18" d="M365.2 115.7l7.8-3.8 3.3 4.5-7.7 3.8z"/>
<path class="k19" d="M373 111.9l5.1-2.5 2.6-1.2 3.4 4.4-2.6 1.3-5.2 2.5z"/>
<path class="k20" d="M380.7 108.2l7.7-3.7 3.4 4.4-7.7 3.7z"/>
<path class="k21" d="M388.4 104.5l5.2-2.4 2.6-1.2 3.3 4.4-2.6 1.2-5.1 2.4z"/>
<path class="k22" d="M396.2 100.9l10.3-4.9 3.3 4.5-10.3 4.8z"/>
<path class="k23" d="M406.5 96l2.5-1.3 2.6-2 3.4 4.6-2.6 2-2.6 1.2z"/>
<path class="k24" d="M411.6 92.7l2.6-2 3.4 4.5-2.6 2.1z"/>
<path class="k25" d="M414.2 90.7l2.6-2 3.3 4.5-2.5 2z"/>
<path class="k26" d="M416.8 88.7l5.1-4.1 3.4 4.6-5.2 4z"/>
<path class="k27" d="M421.9 84.6l2.6-2 3.4 4.6-2.6 2z"/>
<path class="k28" d="M424.5 82.6l15.5-4.8 2.5-2.2 3.4 4.4-2.6 2.4-15.4 4.8z"/>
<path class="k29" d="M442.5 75.6l2.6-2.2 3.4 4.1-2.6 2.5z"/>
<path class="k30" d="M445.1 73.4l2.6-2.2 3.4 3.9-2.6 2.4z"/>
<path class="k31" d="M447.7 71.2l2.6-2.2 3.3 3.6-2.5 2.5z"/>
<path class="k32" d="M450.3 69l2.5-2.2 3.4 3.4-2.6 2.4z"/>
<path class="k33" d="M452.8 66.8l2.6-2.2 3.4 3.1-2.6 2.5z"/>
<path class="k34" d="M455.4 64.6l5.2-2.7 3.3 3.3-5.1 2.5z"/>
<path class="k35" d="M460.6 61.9l7.7-4.1 3.4 3.6-7.8 3.8z"/>
<path class="k36" d="M468.3 57.8l2.6-1.3 2.6-1.5 3.3 3.8-2.5 1.4-2.6 1.2z"/>
<path class="k37" d="M473.5 55l7.7-4.3 3.4 4-7.8 4.1z"/>
<path class="k38" d="M481.2 50.7l5.2-2.9 3.3 4.2-5.1 2.7z"/>
<path class="k16" d="M366 121.5l7.7-3.8 3.4 4.5-7.7 3.9z"/>
<path class="k17" d="M373.7 117.7l7.8-3.8 3.3 4.4-7.7 3.9z"/>
<path class="k18" d="M381.5 113.9l7.7-3.7 3.4 4.4-7.8 3.7z"/>
<path class="k19" d="M389.2 110.2l7.7-3.7 3.4 4.4-7.7 3.7z"/>
<path class="k20" d="M396.9 106.5l10.4-4.8 3.3 4.5-10.3 4.7z"/>
<path class="k21" d="M407.3 101.7l5.1-2.4 3.4 4.6-5.2 2.3z"/>
<path class="k22" d="M412.4 99.3l5.2-4.1 3.3 4.6-5.1 4.1z"/>
<path class="k23" d="M417.6 95.2l2.5-2 3.4 4.6-2.6 2z"/>
<path class="k24" d="M420.1 93.2l2.6-2 3.4 4.6-2.6 2z"/>
<path class="k25" d="M422.7 91.2l5.2-4 3.3 4.5-5.1 4.1z"/>
<path class="k26" d="M427.9 87.2l15.4-4.8 3.4 4.6-15.5 4.7z"/>
<path class="k27" d="M443.3 82.4l2.6-2.4 3.4 4.3-2.6 2.7z"/>
<path class="k28" d="M445.9 80l2.6-2.5 3.4 4.1-2.6 2.7z"/>
<path class="k29" d="M448.5 77.5l2.6-2.4 3.3 3.8-2.5 2.7z"/>
<path class="k30" d="M451.1 75.1l2.5-2.5 3.4 3.6-2.6 2.7z"/>
<path class="k31" d="M453.6 72.6l2.6-2.4 3.4 3.3-2.6 2.7z"/>
<path class="k32" d="M456.2 70.2l2.6-2.5 3.4 3.1-2.6 2.7z"/>
<path class="k33" d="M458.8 67.7l5.1-2.5 3.4 3.3-5.1 2.3z"/>
<path class="k34" d="M463.9 65.2l7.8-3.8 3.3 3.6-7.7 3.5z"/>
<path class="k35" d="M471.7 61.4l2.6-1.2 5.1-2.8 3.4 3.9-5.2 2.6-2.6 1.1z"/>
<path class="k36" d="M479.4 57.4l7.7-4.1 3.4 4.1-7.7 3.9z"/>
<path class="k37" d="M487.1 53.3l2.6-1.3 3.4 4.1-2.6 1.3z"/>
<path class="k14" d="M369.4 126.1l5.1-2.6 3.4 4.5-5.1 2.7z"/>
<path class="k15" d="M374.5 123.5l7.8-3.9 3.3 4.5-7.7 3.9z"/>
<path class="k16" d="M382.3 119.6l2.5-1.3 5.2-2.5 3.4 4.4-5.2 2.5-2.6 1.4z"/>
<path class="k17" d="M390 115.8l7.7-3.7 3.4 4.4-7.7 3.7z"/>
<path class="k18" d="M397.7 112.1l2.6-1.2 7.7-3.5 3.4 4.4-7.7 3.5-2.6 1.2z"/>
<path class="k19" d="M408 107.4l7.8-3.5 3.3 4.5-7.7 3.4z"/>
<path class="k20" d="M415.8 103.9l2.6-2.1 3.3 4.6-2.6 2z"/>
<path class="k21" d="M418.4 101.8l5.1-4 3.4 4.6-5.2 4z"/>
<path class="k22" d="M423.5 97.8l2.6-2 3.3 4.5-2.5 2.1z"/>
<path class="k23" d="M426.1 95.8l2.6-2.1 3.3 4.6-2.6 2z"/>
<path class="k24" d="M428.7 93.7l2.5-2 15.5-4.7 3.4 4.6-15.5 4.7-2.6 2z"/>
<path class="k25" d="M446.7 87l2.6-2.7 3.3 4.4-2.5 2.9z"/>
<path class="k26" d="M449.3 84.3l2.6-2.7 3.3 4.1-2.6 3z"/>
<path class="k28" d="M451.9 81.6l2.5-2.7 3.4 3.9-2.6 2.9z"/>
<path class="k29" d="M454.4 78.9l2.6-2.7 3.4 3.6-2.6 3z"/>
<path class="k30" d="M457 76.2l2.6-2.7 3.4 3.4-2.6 2.9z"/>
<path class="k31" d="M459.6 73.5l2.6-2.7 3.3 3.1-2.5 3z"/>
<path class="k32" d="M462.2 70.8l5.1-2.3 3.4 3.3-5.2 2.1z"/>
<path class="k33" d="M467.3 68.5l10.3-4.6 3.4 3.6-10.3 4.3z"/>
<path class="k34" d="M477.6 63.9l7.8-3.9 3.3 3.9-7.7 3.6z"/>
<path class="k35" d="M485.4 60l7.7-3.9 3.4 4.2-7.8 3.6z"/>
<path class="k12" d="M372.8 130.7l5.1-2.7 1.7 2.3 1.7 2.7-5.2 2.8-1.7-2.8z"/>
<path class="k13" d="M377.9 128l5.2-2.6 1.6 2.2 1.7 2.6-5.1 2.8-1.7-2.7z"/>
<path class="k14" d="M383.1 125.4l5.1-2.7 2.6-1.2 1.7 2.2 1.7 2.5-2.6 1.3-5.2 2.7-1.7-2.6z"/>
<path class="k15" d="M390.8 121.5l7.7-3.8 1.7 2.2 1.7 2.5-7.7 3.8-1.7-2.5z"/>
<path class="k16" d="M398.5 117.7l5.2-2.4 5.1-2.3 1.7 2.2 1.7 2.4-5.2 2.2-5.1 2.6-1.7-2.5z"/>
<path class="k17" d="M408.8 113l10.3-4.6 1.7 2.3 1.7 2.3-10.3 4.6-1.7-2.4z"/>
<path class="k18" d="M419.1 108.4l2.6-2 1.7 2.3 1.7 2.2-2.6 2.1-1.7-2.3z"/>
<path class="k19" d="M421.7 106.4l2.6-2 1.7 2.3 1.7 2-2.6 2.2-1.7-2.2z"/>
<path class="k20" d="M424.3 104.4l5.1-4.1 1.7 2.3 1.7 1.8-5.1 4.3-1.7-2z"/>
<path class="k21" d="M429.4 100.3l2.6-2 1.7 2.3 1.7 1.7-2.6 2.1-1.7-1.8z"/>
<path class="k22" d="M432 98.3l2.6-2 1.7 2.3 1.7 1.5-2.6 2.2-1.7-1.7z"/>
<path class="k23" d="M434.6 96.3l15.5-4.7 2.5-2.9 1.7 2.1 1.7 1.4-2.6 3.1-15.4 4.8-1.7-1.5z"/>
<path class="k25" d="M452.6 88.7l2.6-3 1.7 2.1 1.7 1.4-2.6 3-1.7-1.4z"/>
<path class="k26" d="M455.2 85.7l2.6-2.9 1.7 1.9 1.7 1.4-2.6 3.1-1.7-1.4z"/>
<path class="k28" d="M457.8 82.8l2.6-3 1.7 1.8 1.6 1.4-2.5 3.1-1.7-1.4z"/>
<path class="k29" d="M460.4 79.8l2.6-2.9 1.6 1.6 1.7 1.4-2.6 3.1-1.6-1.4z"/>
<path class="k30" d="M463 76.9l2.5-3 1.7 1.6 1.7 1.4-2.6 3-1.7-1.4z"/>
<path class="k31" d="M465.5 73.9l5.2-2.1 1.7 1.6 1.7 1.4-5.2 2.1-1.7-1.4z"/>
<path class="k32" d="M470.7 71.8l10.3-4.3 2.6-1.2 1.7 1.9 1.6 1.4-2.5 1.2-10.3 4-1.7-1.4z"/>
<path class="k33" d="M483.6 66.3l7.7-3.6 1.7 2 1.7 1.4-7.8 3.5-1.6-1.4z"/>
<path class="k34" d="M491.3 62.7l5.2-2.4 1.6 2.1 1.7 1.4-5.1 2.3-1.7-1.4z"/>
<path class="k10" d="M376.1 135.8l5.2-2.8 3.3 5.4-5.1 2.9z"/>
<path class="k11" d="M381.3 133l7.7-4.1 3.4 5.1-7.8 4.4z"/>
<path class="k12" d="M389 128.9l2.6-1.4 2.6-1.3 3.3 5.1-2.5 1.3-2.6 1.4z"/>
<path class="k13" d="M394.2 126.2l7.7-3.8 3.4 4.9-7.8 4z"/>
<path class="k14" d="M401.9 122.4l5.1-2.6 2.6-1.1 3.4 4.7-2.6 1.2-5.1 2.7z"/>
<path class="k15" d="M409.6 118.7l10.3-4.5 3.4 4.6-10.3 4.6z"/>
<path class="k16" d="M419.9 114.2l2.6-1.2 2.6-2.1 3.4 4.3-2.6 2.4-2.6 1.2z"/>
<path class="k17" d="M425.1 110.9l2.6-2.2 3.3 4.1-2.5 2.4z"/>
<path class="k18" d="M427.7 108.7l2.5-2.1 3.4 3.8-2.6 2.4z"/>
<path class="k19" d="M430.2 106.6l2.6-2.2 3.4 3.6-2.6 2.4z"/>
<path class="k20" d="M432.8 104.4l2.6-2.1 3.4 3.3-2.6 2.4z"/>
<path class="k21" d="M435.4 102.3l2.6-2.2 2.5-.8 3.4 3.1-2.6 .8-2.5 2.4z"/>
<path class="k22" d="M440.5 99.3l12.9-4 3.4 2.8-12.9 4.3z"/>
<path class="k23" d="M453.4 95.3l2.6-3.1 3.4 2.8-2.6 3.1z"/>
<path class="k24" d="M456 92.2l2.6-3 3.4 2.8-2.6 3z"/>
<path class="k25" d="M458.6 89.2l2.6-3.1 3.3 2.8-2.5 3.1z"/>
<path class="k27" d="M461.2 86.1l2.5-3.1 3.4 2.8-2.6 3.1z"/>
<path class="k28" d="M463.7 83l2.6-3.1 3.4 2.8-2.6 3.1z"/>
<path class="k30" d="M466.3 79.9l2.6-3 2.6-1 3.3 2.7-2.5 1-2.6 3.1z"/>
<path class="k31" d="M471.5 75.9l12.9-5.1 3.3 2.8-12.9 5z"/>
<path class="k32" d="M484.4 70.8l10.3-4.7 3.3 2.9-10.3 4.6z"/>
<path class="k33" d="M494.7 66.1l5.1-2.3 3.4 2.8-5.2 2.4z"/>
<path class="k7" d="M379.5 141.3l2.6-1.5 3.3 5.5-2.5 1.5z"/>
<path class="k8" d="M382.1 139.8l5.1-2.9 3.4 5.3-5.2 3.1z"/>
<path class="k9" d="M387.2 136.9l5.2-2.9 3.3 5.2-5.1 3z"/>
<path class="k10" d="M392.4 134l2.6-1.4 2.5-1.3 3.4 5-2.6 1.4-2.6 1.5z"/>
<path class="k11" d="M397.5 131.3l7.8-4 3.3 4.9-7.7 4.1z"/>
<path class="k12" d="M405.3 127.3l5.1-2.7 2.6-1.2 3.4 4.8-2.6 1.2-5.2 2.8z"/>
<path class="k13" d="M413 123.4l7.7-3.5 3.4 4.7-7.7 3.6z"/>
<path class="k14" d="M420.7 119.9l5.2-2.3 3.3 4.6-5.1 2.4z"/>
<path class="k15" d="M425.9 117.6l2.6-2.4 3.3 4.4-2.6 2.6z"/>
<path class="k16" d="M428.5 115.2l2.5-2.4 3.4 4.1-2.6 2.7z"/>
<path class="k17" d="M431 112.8l2.6-2.4 3.4 3.9-2.6 2.6z"/>
<path class="k18" d="M433.6 110.4l2.6-2.4 3.4 3.6-2.6 2.7z"/>
<path class="k19" d="M436.2 108l2.6-2.4 3.3 3.4-2.5 2.6z"/>
<path class="k20" d="M438.8 105.6l2.5-2.4 3.4 3.2-2.6 2.6z"/>
<path class="k21" d="M441.3 103.2l15.5-5.1 3.4 2.8-15.5 5.5z"/>
<path class="k22" d="M456.8 98.1l2.6-3.1 3.3 2.8-2.5 3.1z"/>
<path class="k23" d="M459.4 95l2.6-3 3.3 2.7-2.6 3.1z"/>
<path class="k25" d="M462 92l2.5-3.1 3.4 2.8-2.6 3z"/>
<path class="k26" d="M464.5 88.9l2.6-3.1 3.4 2.8-2.6 3.1z"/>
<path class="k28" d="M467.1 85.8l2.6-3.1 3.4 2.8-2.6 3.1z"/>
<path class="k29" d="M469.7 82.7l2.6-3.1 3.3 2.8-2.5 3.1z"/>
<path class="k30" d="M472.3 79.6l12.8-5 3.4 2.9-12.9 4.9z"/>
<path class="k31" d="M485.1 74.6l2.6-1 7.8-3.5 3.3 2.9-7.7 3.5-2.6 1z"/>
<path class="k32" d="M495.5 70.1l7.7-3.5 3.4 2.9-7.8 3.5z"/>
<path class="k5" d="M382.9 146.8l2.5-1.5 3.4 5.4-2.6 1.6z"/>
<path class="k6" d="M385.4 145.3l5.2-3.1 3.4 5.4-5.2 3.1z"/>
<path class="k7" d="M390.6 142.2l5.1-3 3.4 5.2-5.1 3.2z"/>
<path class="k8" d="M395.7 139.2l2.6-1.5 2.6-1.4 3.4 5.1-2.6 1.4-2.6 1.6z"/>
<path class="k9" d="M400.9 136.3l7.7-4.1 3.4 4.8-7.7 4.4z"/>
<path class="k10" d="M408.6 132.2l5.2-2.8 3.4 4.8-5.2 2.8z"/>
<path class="k11" d="M413.8 129.4l7.7-3.6 3.4 4.7-7.7 3.7z"/>
<path class="k12" d="M421.5 125.8l7.7-3.6 3.4 4.6-7.7 3.7z"/>
<path class="k13" d="M429.2 122.2l2.6-2.6 3.4 4.3-2.6 2.9z"/>
<path class="k14" d="M431.8 119.6l2.6-2.7 3.4 4.1-2.6 2.9z"/>
<path class="k15" d="M434.4 116.9l2.6-2.6 3.3 3.8-2.5 2.9z"/>
<path class="k17" d="M437 114.3l2.6-2.7 3.3 3.6-2.6 2.9z"/>
<path class="k18" d="M439.6 111.6l2.5-2.6 3.4 3.3-2.6 2.9z"/>
<path class="k19" d="M442.1 109l2.6-2.6 3.4 3.1-2.6 2.8z"/>
<path class="k20" d="M444.7 106.4l15.5-5.5 3.3 2.9-15.4 5.7z"/>
<path class="k21" d="M460.2 100.9l2.5-3.1 3.4 2.8-2.6 3.2z"/>
<path class="k23" d="M462.7 97.8l2.6-3.1 3.4 2.8-2.6 3.1z"/>
<path class="k24" d="M465.3 94.7l2.6-3 3.4 2.7-2.6 3.1z"/>
<path class="k25" d="M467.9 91.7l2.6-3.1 3.3 2.7-2.5 3.1z"/>
<path class="k27" d="M470.5 88.6l2.6-3.1 3.3 2.7-2.6 3.1z"/>
<path class="k28" d="M473.1 85.5l2.5-3.1 3.4 2.7-2.6 3.1z"/>
<path class="k29" d="M475.6 82.4l7.8-3 3.3 2.8-7.7 2.9z"/>
<path class="k30" d="M483.4 79.4l7.7-2.9 5.1-2.4 3.4 2.9-5.1 2.3-7.8 2.9z"/>
<path class="k31" d="M496.2 74.1l10.4-4.6 3.3 2.8-10.3 4.7z"/>
<path class="k3" d="M386.2 152.3l2.6-1.6 3.4 3.7-2.6 1.5z"/>
<path class="k4" d="M388.8 150.7l5.2-3.1 3.3 3.7-5.1 3.1z"/>
<path class="k5" d="M394 147.6l5.1-3.2 3.4 3.7-5.2 3.2z"/>
<path class="k6" d="M399.1 144.4l2.6-1.6 2.6-1.4 3.3 3.8-2.5 1.4-2.6 1.5z"/>
<path class="k7" d="M404.3 141.4l5.1-2.9 3.4 3.8-5.2 2.9z"/>
<path class="k8" d="M409.4 138.5l5.2-2.9 3.3 3.9-5.1 2.8z"/>
<path class="k9" d="M414.6 135.6l2.6-1.4 5.1-2.5 3.4 4-5.2 2.4-2.6 1.4z"/>
<path class="k10" d="M422.3 131.7l10.3-4.9 3.4 4.2-10.3 4.7z"/>
<path class="k11" d="M432.6 126.8l2.6-2.9 3.4 4.4-2.6 2.7z"/>
<path class="k12" d="M435.2 123.9l2.6-2.9 3.3 4.7-2.5 2.6z"/>
<path class="k14" d="M437.8 121l2.5-2.9 3.4 4.9-2.6 2.7z"/>
<path class="k15" d="M440.3 118.1l2.6-2.9 3.4 5.2-2.6 2.6z"/>
<path class="k16" d="M442.9 115.2l2.6-2.9 3.4 5.4-2.6 2.7z"/>
<path class="k17" d="M445.5 112.3l2.6-2.8 3.3 5.5-2.5 2.7z"/>
<path class="k18" d="M448.1 109.5l10.3-3.8 3.4 5.7-10.4 3.6z"/>
<path class="k19" d="M458.4 105.7l5.1-1.9 3.4 5.7-5.1 1.9z"/>
<path class="k20" d="M463.5 103.8l2.6-3.2 3.4 5.6-2.6 3.3z"/>
<path class="k21" d="M466.1 100.6l2.6-3.1 3.4 5.3-2.6 3.4z"/>
<path class="k23" d="M468.7 97.5l2.6-3.1 3.3 5.1-2.5 3.3z"/>
<path class="k24" d="M471.3 94.4l2.5-3.1 3.4 4.9-2.6 3.3z"/>
<path class="k26" d="M473.8 91.3l2.6-3.1 3.4 4.6-2.6 3.4z"/>
<path class="k27" d="M476.4 88.2l2.6-3.1 3.4 4.4-2.6 3.3z"/>
<path class="k28" d="M479 85.1l12.9-4.8 3.4 4.6-12.9 4.6z"/>
<path class="k29" d="M491.9 80.3l2.6-1 7.7-3.5 3.4 4.9-7.8 3.3-2.5 .9z"/>
<path class="k30" d="M502.2 75.8l7.7-3.5 3.4 5.1-7.7 3.3z"/>
<path class="k2" d="M389.6 155.9l2.6-1.5 3.3 3.6-2.5 1.6z"/>
<path class="k3" d="M392.2 154.4l5.1-3.1 3.4 3.7-5.2 3z"/>
<path class="k4" d="M397.3 151.3l5.2-3.2 3.3 3.8-5.1 3.1z"/>
<path class="k5" d="M402.5 148.1l2.6-1.5 2.5-1.4 3.4 3.8-2.6 1.3-2.6 1.6z"/>
<path class="k6" d="M407.6 145.2l7.8-4.3 3.3 3.9-7.7 4.2z"/>
<path class="k7" d="M415.4 140.9l5.1-2.8 3.4 4-5.2 2.7z"/>
<path class="k8" d="M420.5 138.1l10.3-4.7 3.4 4.1-10.3 4.6z"/>
<path class="k9" d="M430.8 133.4l5.2-2.4 3.3 4.2-5.1 2.3z"/>
<path class="k10" d="M436 131l2.6-2.7 3.3 4.5-2.6 2.4z"/>
<path class="k11" d="M438.6 128.3l2.5-2.6 3.4 4.6-2.6 2.5z"/>
<path class="k12" d="M441.1 125.7l2.6-2.7 3.4 4.9-2.6 2.4z"/>
<path class="k13" d="M443.7 123l2.6-2.6 3.4 5.1-2.6 2.4z"/>
<path class="k14" d="M446.3 120.4l2.6-2.7 3.3 5.4-2.5 2.4z"/>
<path class="k15" d="M448.9 117.7l2.5-2.7 3.4 5.6-2.6 2.5z"/>
<path class="k16" d="M451.4 115l15.5-5.5 3.4 5.8-15.5 5.3z"/>
<path class="k17" d="M466.9 109.5l2.6-3.3 3.4 5.5-2.6 3.6z"/>
<path class="k19" d="M469.5 106.2l2.6-3.4 3.3 5.3-2.5 3.6z"/>
<path class="k20" d="M472.1 102.8l2.5-3.3 3.4 5.1-2.6 3.5z"/>
<path class="k22" d="M474.6 99.5l2.6-3.3 3.4 4.8-2.6 3.6z"/>
<path class="k24" d="M477.2 96.2l2.6-3.4 3.4 4.6-2.6 3.6z"/>
<path class="k25" d="M479.8 92.8l2.6-3.3 3.3 4.3-2.5 3.6z"/>
<path class="k26" d="M482.4 89.5l7.7-2.8 3.4 4.6-7.8 2.5z"/>
<path class="k27" d="M490.1 86.7l7.7-2.7 7.8-3.3 3.3 4.9-7.7 3.1-7.7 2.6z"/>
<path class="k28" d="M505.6 80.7l7.7-3.3 3.4 5-7.8 3.2z"/>
<path class="k1" d="M393 159.6l5.1-3.1 3.4 3.7-5.2 3z"/>
<path class="k2" d="M398.1 156.5l5.2-3.1 3.3 3.7-5.1 3.1z"/>
<path class="k3" d="M403.3 153.4l5.1-3.1 3.4 3.8-5.2 3z"/>
<path class="k4" d="M408.4 150.3l5.2-2.7 3.3 3.8-5.1 2.7z"/>
<path class="k5" d="M413.6 147.6l7.7-4.1 3.4 3.9-7.8 4z"/>
<path class="k6" d="M421.3 143.5l2.6-1.4 5.1-2.3 3.4 4-5.1 2.2-2.6 1.4z"/>
<path class="k7" d="M429 139.8l10.3-4.6 3.4 4.2-10.3 4.4z"/>
<path class="k8" d="M439.3 135.2l2.6-2.4 3.4 4.4-2.6 2.2z"/>
<path class="k9" d="M441.9 132.8l2.6-2.5 3.4 4.7-2.6 2.2z"/>
<path class="k10" d="M444.5 130.3l2.6-2.4 3.3 4.9-2.5 2.2z"/>
<path class="k11" d="M447.1 127.9l2.6-2.4 3.3 5.1-2.6 2.2z"/>
<path class="k12" d="M449.7 125.5l2.5-2.4 3.4 5.3-2.6 2.2z"/>
<path class="k13" d="M452.2 123.1l2.6-2.5 7.7-2.6 3.4 5.7-7.7 2.5-2.6 2.2z"/>
<path class="k14" d="M462.5 118l7.8-2.7 3.3 5.8-7.7 2.6z"/>
<path class="k15" d="M470.3 115.3l2.6-3.6 3.3 5.6-2.6 3.8z"/>
<path class="k16" d="M472.9 111.7l2.5-3.6 3.4 5.3-2.6 3.9z"/>
<path class="k18" d="M475.4 108.1l2.6-3.5 3.4 5-2.6 3.8z"/>
<path class="k20" d="M478 104.6l2.6-3.6 3.3 4.8-2.5 3.8z"/>
<path class="k22" d="M480.6 101l2.6-3.6 3.3 4.6-2.6 3.8z"/>
<path class="k24" d="M483.2 97.4l2.5-3.6 3.4 4.3-2.6 3.9z"/>
<path class="k25" d="M485.7 93.8l15.5-5.1 7.7-3.1 3.4 4.9-7.7 2.9-15.5 4.7z"/>
<path class="k26" d="M508.9 85.6l7.8-3.2 3.3 5.1-7.7 3z"/>
<path class="k0" d="M396.3 163.2l2.6-1.5 1.7 1.8-2.6 1.5z"/>
<path class="k1" d="M398.9 161.7l7.7-4.6 1.7 1.9-7.7 4.5z"/>
<path class="k2" d="M406.6 157.1l5.2-3 1.7 1.9-5.2 3z"/>
<path class="k3" d="M411.8 154.1l5.1-2.7 1.7 1.9-5.1 2.7z"/>
<path class="k4" d="M416.9 151.4l7.8-4 1.7 1.9-7.8 4z"/>
<path class="k5" d="M424.7 147.4l2.6-1.4 5.1-2.2 1.7 2-5.2 2.2-2.5 1.3z"/>
<path class="k6" d="M432.4 143.8l10.3-4.4 1.7 2.1-10.3 4.3z"/>
<path class="k7" d="M442.7 139.4l2.6-2.2 1.7 2.2-2.6 2.1z"/>
<path class="k8" d="M445.3 137.2l5.1-4.4 1.7 2.4-5.1 4.2z"/>
<path class="k9" d="M450.4 132.8l2.6-2.2 1.7 2.6-2.6 2.1z"/>
<path class="k10" d="M453 130.6l2.6-2.2 1.7 2.7-2.6 2.1z"/>
<path class="k11" d="M455.6 128.4l2.6-2.2 2.6-.8 1.6 2.8-2.5 .8-2.6 2.1z"/>
<path class="k12" d="M460.8 125.4l12.8-4.3 1.7 2.9-12.9 4.2z"/>
<path class="k13" d="M473.6 121.1l2.6-3.8 1.7 2.8-2.6 3.9z"/>
<path class="k15" d="M476.2 117.3l2.6-3.9 1.7 2.7-2.6 4z"/>
<path class="k17" d="M478.8 113.4l2.6-3.8 1.7 2.6-2.6 3.9z"/>
<path class="k19" d="M481.4 109.6l2.5-3.8 1.7 2.4-2.5 4z"/>
<path class="k20" d="M483.9 105.8l2.6-3.8 1.7 2.2-2.6 4z"/>
<path class="k22" d="M486.5 102l2.6-3.9 1.7 2.2-2.6 4z"/>
<path class="k23" d="M489.1 98.1l12.9-3.9 1.7 2.3-12.9 3.8z"/>
<path class="k24" d="M502 94.2l2.6-.8 15.4-5.9 1.7 2.5-15.5 5.8-2.5 .7z"/>
<path class="m" fill="none" d="M315.5 85.6l15.5-7.6 15.4-8 15.5-9 15.4-13 15.5-5.7 15.5-7.8 15.4-11.5 15.5-11.5M317.2 86.4l15.4-7.5 15.5-8 15.5-8.9 15.4-13 15.5-5.6 15.5-7.9 15.4-11.4 15.5-11.4M318.9 87.3l15.4-7.6 15.5-7.9 15.5-8.9 15.4-12.9 15.5-5.6 15.4-7.8 15.5-11.4 15.5-11.3M320.6 88.1l15.4-7.5 15.5-7.9 15.4-8.8 15.5-12.9 15.5-5.5 15.4-7.9 15.5-11.3 15.5-11.2M322.2 88.9l15.5-7.4 15.5-7.8 15.4-8.8 15.5-12.8 15.4-5.5 15.5-7.9 15.5-11.2 15.4-11.3M323.9 89.7l15.5-7.4 15.4-7.7 15.5-8.8 15.5-12.7 15.4-5.5 15.5-7.9 15.5-11.1 15.4-11.2M325.6 90.6l15.5-7.4 15.4-7.7 15.5-8.7 15.5-12.7 15.4-5.4 15.5-8 15.4-11 15.5-11.1M327.3 91.4l15.4-7.3 15.5-7.7 15.5-8.6 15.4-12.7 15.5-5.4 15.5-7.9 15.4-11 15.5-11M329 92.4l15.4-7.2 15.5-7.6 15.5-8.5 15.4-12.6 15.5-5.3 15.4-8 15.5-10.8 15.5-10.9M330.7 93.4l15.4-7.1 15.5-7.5 15.4-8.4 15.5-12.5 15.5-5.2 15.4-8 15.5-10.7 15.5-10.7M332.3 94.4l15.5-7 15.5-7.5 15.4-8.2 15.5-12.4 15.5-5.1 15.4-8 15.5-10.6 15.4-10.6M334 95.5l15.5-7 15.4-7.4 15.5-8.1 15.5-12.3 15.4-5 15.5-8.1 15.5-10.4 15.4-10.5M335.7 96.5l15.5-7 15.4-7.2 15.5-8.1 15.5-12.2 15.4-4.8 15.5-8.1 15.4-10.3 15.5-10.4M337.4 97.5l15.5-6.9 15.4-7.1 15.5-8 15.4-12.1 15.5-4.8 15.5-8.1 15.4-10.1 15.5-10.2M339.1 98.5l15.4-6.8 15.5-7 15.5-7.9 15.4-12 15.5-4.7 15.4-8.1 15.5-10 15.5-10.1M340.8 99.7l15.4-6.8 15.5-7.1 15.4-7.8 15.5-12 15.5-4.7 15.4-8.3 15.5-9.9 15.5-10M342.4 100.9l15.5-6.8 15.5-7.1 15.4-7.8 15.5-12 15.5-4.6 15.4-8.6 15.5-9.8 15.4-9.9M344.1 102.1l15.5-6.9 15.5-7 15.4-7.8 15.5-11.9 15.4-4.7 15.5-8.8 15.5-9.7 15.4-9.8M345.8 103.2l15.5-6.8 15.4-7 15.5-7.7 15.5-12 15.4-4.7 15.5-9 15.4-9.6 15.5-9.8M347.5 104.4l15.5-6.8 15.4-7.1 15.5-7.6 15.4-12 15.5-4.7 15.5-9.2 15.4-9.5 15.5-9.7M349.2 105.6l15.4-6.9 15.5-7 15.5-7.6 15.4-12 15.5-4.6 15.5-9.5 15.4-9.4 15.5-9.6M350.9 106.8l15.4-6.9 15.5-7 15.4-7.6 15.5-12 15.5-4.6 15.4-9.7 15.5-9.3 15.5-9.5M352.5 108.2l15.5-6.9 15.5-7.1 15.4-7.6 15.5-12 15.5-4.6 15.4-10.2 15.5-9.1 15.4-9.4M354.2 109.7l15.5-7.1 15.5-7.1 15.4-7.5 15.5-12 15.4-4.7 15.5-10.7 15.5-9 15.4-9.2M355.9 111.1l15.5-7.1 15.4-7.2 15.5-7.5 15.5-12 15.4-4.7 15.5-11.2 15.5-8.8 15.4-9.1M357.6 112.6l15.5-7.2 15.4-7.3 15.5-7.4 15.4-12.1 15.5-4.7 15.5-11.7 15.4-8.6 15.5-9.1M359.3 114l15.4-7.3 15.5-7.2 15.5-7.5 15.4-12.1 15.5-4.7 15.5-12.2 15.4-8.5 15.5-8.9M361 115.5l15.4-7.4 15.5-7.3 15.5-7.4 15.4-12.1 15.5-4.8 15.4-12.7 15.5-8.3 15.5-8.8M362.6 116.9l15.5-7.5 15.5-7.3 15.4-7.4 15.5-12.1 15.5-4.8 15.4-13.2 15.5-8.1 15.5-8.7M364.3 119.2l15.5-7.5 15.5-7.4 15.4-7.3 15.5-12.1 15.4-4.8 15.5-13.9 15.5-7.9 15.4-8.4M366 121.5l15.5-7.6 15.4-7.4 15.5-7.2 15.5-12.1 15.4-4.8 15.5-14.7 15.5-7.5 15.4-8.2M367.7 123.8l15.5-7.7 15.4-7.4 15.5-7.1 15.5-12.2 15.4-4.7 15.5-15.4 15.4-7.3 15.5-7.9M369.4 126.1l15.4-7.8 15.5-7.4 15.5-7 15.4-12.2 15.5-4.7 15.5-16.2 15.4-6.9 15.5-7.8M371.1 128.4l15.4-7.9 15.5-7.4 15.5-7 15.4-12.1 15.5-4.7 15.4-16.9 15.5-6.7 15.5-7.5M372.8 130.7l15.4-8 15.5-7.4 15.4-6.9 15.5-12.1 15.5-4.7 15.4-17.7 15.5-6.4 15.5-7.2M374.4 133l15.5-8.1 15.5-7.4 15.4-6.8 15.5-12.1 15.4-4.7 15.5-18.4 15.5-6.1 15.4-7M376.1 135.8l15.5-8.3 15.4-7.7 15.5-6.8 15.5-12.9 15.4-4.8 15.5-18.4 15.5-6.1 15.4-7M377.8 138.5l15.5-8.5 15.4-7.8 15.5-6.9 15.5-13.6 15.4-5 15.5-18.5 15.4-6 15.5-7M379.5 141.3l15.5-8.7 15.4-8 15.5-7 15.4-14.4 15.5-5.1 15.5-18.5 15.4-6 15.5-7M381.2 144l15.4-8.9 15.5-8.1 15.5-7.1 15.4-15.1 15.5-5.3 15.4-18.5 15.5-5.9 15.5-7M382.9 146.8l15.4-9.1 15.5-8.3 15.4-7.2 15.5-15.8 15.5-5.5 15.4-18.5 15.5-5.9 15.5-7M384.5 149.5l15.5-9.2 15.5-8.5 15.4-7.3 15.5-16.6 15.5-5.6 15.4-18.5 15.5-5.9 15.4-7M386.2 152.3l15.5-9.5 15.5-8.6 15.4-7.4 15.5-17.3 15.4-5.7 15.5-18.7 15.5-5.8 15.4-7M387.9 154.1l15.5-9.4 15.4-8.6 15.5-7.2 15.5-16.7 15.4-5.6 15.5-19.3 15.4-5.6 15.5-6.9M389.6 155.9l15.5-9.3 15.4-8.5 15.5-7.1 15.4-16 15.5-5.5 15.5-20 15.4-5.5 15.5-6.6M391.3 157.7l15.4-9.2 15.5-8.4 15.5-7 15.4-15.3 15.5-5.4 15.5-20.8 15.4-5.2 15.5-6.5M393 159.6l15.4-9.3 15.5-8.2 15.4-6.9 15.5-14.6 15.5-5.3 15.4-21.5 15.5-5.1 15.5-6.3M394.6 161.4l15.5-9.2 15.5-8.2 15.4-6.7 15.5-13.9 15.5-5.2 15.4-22.2 15.5-4.9 15.4-6.2M396.3 163.2l15.5-9.1 15.5-8.1 15.4-6.6 15.5-13.2 15.4-5.1 15.5-23 15.5-4.7 15.4-5.9M398 165l15.5-9 15.4-8 15.5-6.5 15.5-12.5 15.4-5 15.5-23.7 15.4-4.5 15.5-5.8M315.5 85.6l11.8 5.8 11.8 7.1 11.8 8.3 11.8 10.1 11.7 16.1 11.8 19.3 11.8 12.7M318.1 84.3l11.8 5.9 11.8 7.2 11.7 8.3 11.8 10 11.8 16 11.8 19 11.8 12.8M320.7 83.1l11.7 5.9 11.8 7.2 11.8 8.3 11.8 9.9 11.8 15.9 11.8 18.8 11.8 12.9M323.2 81.8l11.8 5.9 11.8 7.4 11.8 8.3 11.8 9.8 11.8 15.8 11.8 18.6 11.7 12.9M325.8 80.5l11.8 6 11.8 7.5 11.8 8.2 11.8 9.7 11.7 15.7 11.8 18.4 11.8 13M328.4 79.3l11.8 6 11.8 7.6 11.7 8.2 11.8 9.6 11.8 15.6 11.8 18.1 11.8 13.1M331 78l11.8 6.1 11.7 7.6 11.8 8.2 11.8 9.5 11.8 15.5 11.8 17.9 11.8 13.2M333.5 76.7l11.8 6.1 11.8 7.8 11.8 8.1 11.8 9.5 11.8 15.5 11.8 17.7 11.8 13.3M336.1 75.3l11.8 6.2 11.8 7.9 11.8 8.2 11.8 9.4 11.8 15.4 11.7 17.5 11.8 13.4M338.7 74l11.8 6.2 11.8 8 11.8 8.2 11.7 9.4 11.8 15.4 11.8 17.3 11.8 13.5M341.3 72.7l11.8 6.3 11.7 8 11.8 8.2 11.8 9.3 11.8 15.4 11.8 17.1 11.8 13.7M343.8 71.3l11.8 6.4 11.8 8.2 11.8 8.1 11.8 9.3 11.8 15.4 11.8 16.9 11.8 13.7M346.4 70l11.8 6.4 11.8 8.3 11.8 8.2 11.8 9.2 11.8 15.4 11.8 16.7 11.7 13.8M349 68.5l11.8 6.5 11.8 8.4 11.8 8.2 11.8 9.3 11.7 15.4 11.8 16.6 11.8 14M351.6 67l11.8 6.5 11.8 8.6 11.7 8.2 11.8 9.3 11.8 15.6 11.8 16.5 11.8 14.1M354.2 65.5l11.7 6.6 11.8 8.7 11.8 8.3 11.8 9.3 11.8 15.7 11.8 16.4 11.8 14.2M356.7 64l11.8 6.7 11.8 8.7 11.8 8.4 11.8 9.4 11.8 15.8 11.8 16.2 11.7 14.5M359.3 62.5l11.8 6.7 11.8 8.9 11.8 8.4 11.8 9.5 11.7 15.8 11.8 16.2 11.8 14.6M361.9 61l11.8 6.8 11.8 9 11.8 8.5 11.7 9.4 11.8 16 11.8 16.1 11.8 14.7M364.5 58.8l11.8 6.9 11.7 9.1 11.8 8.5 11.8 9.4 11.8 16 11.8 15.2 11.8 15.5M367 56.7l11.8 6.9 11.8 9.2 11.8 8.5 11.8 9.4 11.8 16 11.8 14.3 11.8 16.3M369.6 54.5l11.8 6.9 11.8 9.4 11.8 8.5 11.8 9.4 11.8 16 11.7 13.4 11.8 17.2M372.2 52.3l11.8 7 11.8 9.5 11.8 8.5 11.7 9.3 11.8 16 11.8 12.6 11.8 18M374.8 50.2l11.8 7 11.7 9.6 11.8 8.5 11.8 9.3 11.8 16 11.8 11.7 11.8 18.8M377.3 48l11.8 7.1 11.8 9.7 11.8 8.5 11.8 9.3 11.8 16 11.8 10.9 11.8 19.5M379.9 47l11.8 7.2 11.8 9.8 11.8 8.5 11.8 9.3 11.8 16 11.8 10.7 11.7 19.7M382.5 46.1l11.8 7.2 11.8 9.9 11.8 8.6 11.8 9.2 11.7 16 11.8 10.6 11.8 19.7M385.1 45.2l11.8 7.2 11.8 10.1 11.7 8.5 11.8 9.2 11.8 16 11.8 10.4 11.8 19.9M387.7 44.2l11.7 7.3 11.8 10.2 11.8 8.5 11.8 9.2 11.8 16.1 11.8 10.2 11.8 20M390.2 43.3l11.8 7.3 11.8 10.3 11.8 8.6 11.8 9.1 11.8 16.1 11.8 10 11.7 20.1M392.8 42.3l11.8 7.4 11.8 10.4 11.8 8.6 11.8 9.1 11.8 16.1 11.7 9.9 11.8 20.2M395.4 41l11.8 7.4 11.8 10.4 11.8 8.3 11.7 8.5 11.8 15.2 11.8 9.8 11.8 19.5M398 39.7l11.8 7.4 11.7 10.3 11.8 8.1 11.8 7.9 11.8 14.4 11.8 9.7 11.8 18.6M400.5 38.4l11.8 7.4 11.8 10.3 11.8 7.8 11.8 7.3 11.8 13.5 11.8 9.7 11.8 17.8M403.1 37.1l11.8 7.3 11.8 10.3 11.8 7.5 11.8 6.8 11.8 12.6 11.7 9.7 11.8 16.9M405.7 35.8l11.8 7.3 11.8 10.2 11.8 7.3 11.7 6.2 11.8 11.7 11.8 9.7 11.8 16M408.3 34.5l11.8 7.3 11.7 10.2 11.8 7 11.8 5.6 11.8 10.9 11.8 9.6 11.8 15.2M410.9 32.6l11.7 7.4 11.8 10.3 11.8 7.2 11.8 5.8 11.8 11.2 11.8 9.7 11.8 15.4M413.4 30.7l11.8 7.4 11.8 10.6 11.8 7.2 11.8 6 11.8 11.5 11.8 9.8 11.7 15.6M416 28.8l11.8 7.5 11.8 10.7 11.8 7.4 11.8 6.2 11.7 11.8 11.8 9.8 11.8 15.9M418.6 26.8l11.8 7.7 11.8 10.8 11.7 7.5 11.8 6.4 11.8 12.2 11.8 9.9 11.8 16M421.2 24.9l11.7 7.7 11.8 11.1 11.8 7.6 11.8 6.5 11.8 12.6 11.8 9.9 11.8 16.2M423.7 23l11.8 7.8 11.8 11.2 11.8 7.7 11.8 6.8 11.8 12.9 11.8 9.9 11.8 16.5M426.3 21.1l11.8 7.9 11.8 11.3 11.8 7.8 11.8 6.9 11.8 13.2 11.7 9.9 11.8 16.7M428.9 19.2l11.8 7.9 11.8 11.5 11.8 7.9 11.7 7.1 11.8 13.5 11.8 9.9 11.8 16.9M431.5 17.2l11.8 8.1 11.7 11.6 11.8 8.1 11.8 7.1 11.8 13.8 11.8 9.9 11.8 17.1M434 15.3l11.8 8.2 11.8 11.8 11.8 8.1 11.8 7.3 11.8 14 11.8 9.9 11.8 17.3M436.6 13.4l11.8 8.2 11.8 12 11.8 8.2 11.8 7.4 11.8 14.4 11.7 9.9 11.8 17.5M439.2 11.5l11.8 8.3 11.8 12.1 11.8 8.3 11.8 7.6 11.7 14.6 11.8 9.9 11.8 17.7"/>
<path class="a" d="M409.8 180.3L533.5 146.4"/>
<path class="a" d="M409.8 180.3L315.5 135.6"/>
<path class="a" d="M315.5 135.6L315.5 40.1"/>
<path class="a" d="M409.8 180.3L412.1 181.4"/>
<text class="t" x="415" y="190.3">2</text>
<path class="a" d="M440.7 171.8L443.1 172.9"/>
<text class="t" x="445.9" y="181.8">4</text>
<path class="a" d="M471.6 163.4L474 164.5"/>
<text class="t" x="476.8" y="173.4">6</text>
<path class="a" d="M502.6 154.9L504.9 156"/>
<text class="t" x="507.8" y="164.9">8</text>
<path class="a" d="M533.5 146.4L535.8 147.5"/>
<text class="t" x="538.7" y="156.4">10</text>
<path class="a" d="M409.8 180.3L407.3 181"/>
<text class="t e" x="403.9" y="189.2">10</text>
<path class="a" d="M386.2 169.1L383.7 169.8"/>
<text class="t e" x="380.3" y="178">20</text>
<path class="a" d="M362.6 157.9L360.1 158.6"/>
<text class="t e" x="356.8" y="166.8">30</text>
<path class="a" d="M339.1 146.8L336.6 147.5"/>
<text class="t e" x="333.2" y="155.7">40</text>
<path class="a" d="M315.5 135.6L313 136.3"/>
<text class="t e" x="309.6" y="144.5">50</text>
<path class="a" d="M315.5 135.6L313 136.3"/>
<text class="t e" x="309.5" y="137.2">0</text>
<path class="a" d="M315.5 119.7L313 120.4"/>
<text class="t e" x="309.5" y="121.3">500</text>
<path class="a" d="M315.5 103.8L313 104.5"/>
<text class="t e" x="309.5" y="105.4">1000</text>
<path class="a" d="M315.5 87.8L313 88.5"/>
<text class="t e" x="309.5" y="89.4">1500</text>
<path class="a" d="M315.5 71.9L313 72.6"/>
<text class="t e" x="309.5" y="73.5">2000</text>
<path class="a" d="M315.5 56L313 56.7"/>
<text class="t e" x="309.5" y="57.6">2500</text>
<path class="a" d="M315.5 40.1L313 40.8"/>
<text class="t e" x="309.5" y="41.7">3000</text>
<text class="l" text-anchor="middle" x="338.8" y="188.6">Number of Tasks</text>
<text class="l" text-anchor="middle" x="486.9" y="191.1">Number of UUVs</text>
<text class="l" text-anchor="middle" transform="translate(291.4 88.8) rotate(-90)">Global Utility</text>
<text class="c" text-anchor="middle" x="415" y="205.5">(b)</text>
<path class="g" d="M160.7 376L66.3 331.8M191.6 367.7L97.2 323.5M222.4 359.4L128 315.2M253.2 351L158.8 306.8M106.3 373.3L229.6 339.9M82.7 362.3L206 328.9M59.1 351.2L182.4 317.9M35.5 340.2L158.8 306.8M66.3 331.8L66.3 236.6M97.2 323.5L97.2 228.3M128 315.2L128 220M158.8 306.8L158.8 211.6M253.2 351L253.2 255.8M229.6 339.9L229.6 244.8M206 328.9L206 233.7M182.4 317.9L182.4 222.7M35.5 321.2L158.8 287.8M158.8 287.8L253.2 332M35.5 302.1L158.8 268.7M158.8 268.7L253.2 312.9M35.5 283.1L158.8 249.7M158.8 249.7L253.2 293.9M35.5 264L158.8 230.6M158.8 230.6L253.2 274.8M35.5 245L158.8 211.6M158.8 211.6L253.2 255.8"/>
<path class="k23" d="M35.5 292.3l5.1-3 3.4 1.8-5.1 3z"/>
<path class="k24" d="M40.6 289.3l5.2-3 3.3 1.8-5.1 3z"/>
<path class="k25" d="M45.8 286.3l5.1-3 3.4 1.8-5.2 3z"/>
<path class="k26" d="M50.9 283.3l5.1-3.1 3.4 1.9-5.1 3z"/>
<path class="k27" d="M56 280.2l5.2-3 3.4 1.9-5.2 3z"/>
<path class="k28" d="M61.2 277.2l5.1-3 3.4 1.9-5.1 3z"/>
<path class="k29" d="M66.3 274.2l7.7-3.5 3.4 1.9-7.7 3.5z"/>
<path class="k30" d="M74 270.7l7.7-3.5 3.4 1.9-7.7 3.5z"/>
<path class="k31" d="M81.7 267.2l2.6-2.5 3.4 1.9-2.6 2.5z"/>
<path class="k32" d="M84.3 264.7l2.6-2.5 3.3 1.9-2.5 2.5z"/>
<path class="k33" d="M86.9 262.2l2.5-2.5 3.4 1.9-2.6 2.5z"/>
<path class="k34" d="M89.4 259.7l2.6-2.5 3.4 1.9-2.6 2.5z"/>
<path class="k35" d="M92 257.2l2.6-2.5 3.4 1.9-2.6 2.5z"/>
<path class="k36" d="M94.6 254.7l2.6-2.6 3.3 2-2.5 2.5z"/>
<path class="k37" d="M97.2 252.1l10.2-4.1 3.4 2-10.3 4z"/>
<path class="k38" d="M107.4 248.1l5.2-2 2.5-1.3 3.4 1.9-2.6 1.4-5.1 2z"/>
<path class="k39" d="M115.1 244.8l7.7-4 3.4 1.9-7.7 4z"/>
<path class="k40" d="M122.8 240.8l5.2-2.7 3.3 1.8-5.1 2.8z"/>
<path class="k41" d="M128 238.1l5.1-3.4 3.4 1.9-5.2 3.3z"/>
<path class="k42" d="M133.1 234.7l5.1-3.3 3.4 1.9-5.1 3.3z"/>
<path class="k43" d="M138.2 231.4l2.6-1.7 3.4 1.9-2.6 1.7z"/>
<path class="k44" d="M140.8 229.7l2.6-1.7 2.6-1.6 3.3 1.9-2.5 1.7-2.6 1.6z"/>
<path class="k45" d="M146 226.4l5.1-3.4 3.4 2-5.2 3.3z"/>
<path class="k46" d="M151.1 223l5.1-3.3 3.4 2-5.1 3.3z"/>
<path class="k47" d="M156.2 219.7l2.6-1.7 3.4 2-2.6 1.7z"/>
<path class="k23" d="M38.9 294.1l5.1-3 3.4 1.8-5.2 2.9z"/>
<path class="k24" d="M44 291.1l5.1-3 3.4 1.8-5.1 3z"/>
<path class="k25" d="M49.1 288.1l5.2-3 3.4 1.8-5.2 3z"/>
<path class="k26" d="M54.3 285.1l5.1-3 3.4 1.8-5.1 3z"/>
<path class="k27" d="M59.4 282.1l5.2-3 3.3 1.8-5.1 3z"/>
<path class="k28" d="M64.6 279.1l5.1-3 3.4 1.8-5.2 3z"/>
<path class="k29" d="M69.7 276.1l10.3-4.7 3.3 1.9-10.2 4.6z"/>
<path class="k30" d="M80 271.4l5.1-2.3 3.4 1.9-5.2 2.3z"/>
<path class="k31" d="M85.1 269.1l2.6-2.5 3.3 1.9-2.5 2.5z"/>
<path class="k32" d="M87.7 266.6l2.5-2.5 3.4 1.9-2.6 2.5z"/>
<path class="k33" d="M90.2 264.1l2.6-2.5 3.4 1.9-2.6 2.5z"/>
<path class="k34" d="M92.8 261.6l2.6-2.5 3.4 1.9-2.6 2.5z"/>
<path class="k35" d="M95.4 259.1l2.6-2.5 3.3 1.9-2.5 2.5z"/>
<path class="k36" d="M98 256.6l2.5-2.5 3.4 1.9-2.6 2.5z"/>
<path class="k37" d="M100.5 254.1l12.9-5 3.3 2-12.8 4.9z"/>
<path class="k38" d="M113.4 249.1l2.5-1 5.2-2.7 3.3 1.9-5.1 2.8-2.6 1z"/>
<path class="k39" d="M121.1 245.4l5.1-2.7 3.4 1.9-5.2 2.7z"/>
<path class="k40" d="M126.2 242.7l5.1-2.8 2.6-1.6 3.4 1.8-2.6 1.7-5.1 2.8z"/>
<path class="k41" d="M133.9 238.3l2.6-1.7 3.4 1.9-2.6 1.6z"/>
<path class="k42" d="M136.5 236.6l5.1-3.3 3.4 1.9-5.1 3.3z"/>
<path class="k43" d="M141.6 233.3l5.2-3.3 3.3 1.9-5.1 3.3z"/>
<path class="k44" d="M146.8 230l2.5-1.7 3.4 1.9-2.6 1.7z"/>
<path class="k45" d="M149.3 228.3l5.2-3.3 3.3 1.9-5.1 3.3z"/>
<path class="k46" d="M154.5 225l5.1-3.3 3.4 1.9-5.2 3.3z"/>
<path class="k47" d="M159.6 221.7l2.6-1.7 3.3 2-2.5 1.6z"/>
<path class="k23" d="M42.2 295.8l5.2-2.9 3.4 1.7-5.2 3z"/>
<path class="k24" d="M47.4 292.9l5.1-3 3.4 1.8-5.1 2.9z"/>
<path class="k25" d="M52.5 289.9l5.2-3 3.3 1.8-5.1 3z"/>
<path class="k26" d="M57.7 286.9l5.1-3 3.4 1.8-5.2 3z"/>
<path class="k27" d="M62.8 283.9l5.1-3 3.4 1.9-5.1 2.9z"/>
<path class="k28" d="M67.9 280.9l5.2-3 2.5-1.1 3.4 1.8-2.6 1.2-5.1 3z"/>
<path class="k29" d="M75.6 276.8l10.3-4.7 3.4 1.9-10.3 4.6z"/>
<path class="k30" d="M85.9 272.1l2.6-1.1 2.5-2.5 3.4 1.9-2.5 2.4-2.6 1.2z"/>
<path class="k32" d="M91 268.5l2.6-2.5 3.4 1.9-2.6 2.5z"/>
<path class="k33" d="M93.6 266l2.6-2.5 3.4 1.9-2.6 2.5z"/>
<path class="k34" d="M96.2 263.5l2.6-2.5 3.3 1.9-2.5 2.5z"/>
<path class="k35" d="M98.8 261l2.5-2.5 3.4 1.9-2.6 2.5z"/>
<path class="k36" d="M101.3 258.5l2.6-2.5 2.6-1 3.3 2-2.5 1-2.6 2.4z"/>
<path class="k37" d="M106.5 255l12.8-4.9 3.4 2-12.9 4.9z"/>
<path class="k38" d="M119.3 250.1l5.1-2.8 3.4 2-5.1 2.8z"/>
<path class="k39" d="M124.4 247.3l7.7-4.1 3.4 1.9-7.7 4.2z"/>
<path class="k40" d="M132.1 243.2l2.6-1.4 2.6-1.7 3.4 1.9-2.6 1.7-2.6 1.4z"/>
<path class="k41" d="M137.3 240.1l5.1-3.3 3.4 1.9-5.1 3.3z"/>
<path class="k42" d="M142.4 236.8l2.6-1.6 3.4 1.9-2.6 1.6z"/>
<path class="k43" d="M145 235.2l5.1-3.3 3.4 1.9-5.1 3.3z"/>
<path class="k44" d="M150.1 231.9l5.2-3.3 3.3 1.9-5.1 3.3z"/>
<path class="k45" d="M155.3 228.6l5.1-3.3 3.4 2-5.2 3.2z"/>
<path class="k46" d="M160.4 225.3l2.6-1.7 3.3 2-2.5 1.7z"/>
<path class="k47" d="M163 223.6l2.5-1.6 3.4 2-2.6 1.6z"/>
<path class="k23" d="M45.6 297.6l5.2-3 1.6 .9 1.7 .9-5.1 2.9-1.7-.8z"/>
<path class="k24" d="M50.8 294.6l7.7-4.4 1.6 .9 1.7 .9-7.7 4.4-1.7-.9z"/>
<path class="k25" d="M58.5 290.2l2.5-1.5 2.6-1.5 1.7 .9 1.7 1-2.6 1.4-2.6 1.5-1.7-.9z"/>
<path class="k26" d="M63.6 287.2l5.1-3 1.7 .9 1.7 1-5.1 3-1.7-1z"/>
<path class="k27" d="M68.7 284.2l5.2-2.9 1.7 .9 1.6 1-5.1 2.9-1.7-1z"/>
<path class="k28" d="M73.9 281.3l2.5-1.5 5.2-2.3 1.7 .9 1.6 1.1-5.1 2.2-2.6 1.5-1.6-1z"/>
<path class="k29" d="M81.6 277.5l7.7-3.5 1.7 .9 1.7 1.2-7.8 3.4-1.6-1.1z"/>
<path class="k30" d="M89.3 274l2.6-1.2 2.5-2.4 1.7 .9 1.7 1.1-2.6 2.5-2.5 1.2-1.7-1.2z"/>
<path class="k31" d="M94.4 270.4l2.6-2.5 1.7 .9 1.7 1.1-2.6 2.5-1.7-1.1z"/>
<path class="k32" d="M97 267.9l2.6-2.5 1.6 1 1.7 1-2.5 2.5-1.7-1.1z"/>
<path class="k33" d="M99.6 265.4l2.5-2.5 1.7 1 1.7 1-2.6 2.5-1.7-1z"/>
<path class="k35" d="M102.1 262.9l2.6-2.5 1.7 1 1.7 1-2.6 2.5-1.7-1z"/>
<path class="k36" d="M104.7 260.4l2.6-2.4 5.1-2 1.7 1 1.7 .9-5.2 1.9-2.5 2.6-1.7-1z"/>
<path class="k37" d="M112.4 256l10.3-3.9 2.5-1.4 1.7 .9 1.7 1.1-2.6 1.4-10.2 3.8-1.7-.9z"/>
<path class="k38" d="M125.2 250.7l5.2-2.8 1.7 .9 1.7 1-5.2 2.9-1.7-1.1z"/>
<path class="k39" d="M130.4 247.9l5.1-2.8 1.7 .9 1.7 1-5.1 2.8-1.7-1z"/>
<path class="k40" d="M135.5 245.1l2.6-1.4 2.6-1.7 1.6 1 1.7 1-2.5 1.6-2.6 1.4-1.7-1z"/>
<path class="k41" d="M140.7 242l5.1-3.3 1.7 1 1.7 1.1-5.2 3.2-1.7-1z"/>
<path class="k42" d="M145.8 238.7l5.1-3.2 1.7 .9 1.7 1.2-5.1 3.2-1.7-1.1z"/>
<path class="k43" d="M150.9 235.5l2.6-1.7 2.6-1.6 1.7 1 1.6 1.2-2.5 1.6-2.6 1.6-1.7-1.2z"/>
<path class="k44" d="M156.1 232.2l2.5-1.7 1.7 1 1.7 1.3-2.6 1.6-1.6-1.2z"/>
<path class="k45" d="M158.6 230.5l5.2-3.2 1.7 1 1.6 1.4-5.1 3.1-1.7-1.3z"/>
<path class="k46" d="M163.8 227.3l5.1-3.3 1.7 1 1.7 1.6-5.2 3.1-1.6-1.4z"/>
<path class="k23" d="M49 299.3l7.7-4.4 3.4 1.8-7.7 4.3z"/>
<path class="k24" d="M56.7 294.9l5.1-2.9 3.4 1.8-5.1 2.9z"/>
<path class="k25" d="M61.8 292l2.6-1.5 2.6-1.4 3.3 1.8-2.5 1.5-2.6 1.4z"/>
<path class="k26" d="M67 289.1l5.1-3 3.4 2-5.2 2.8z"/>
<path class="k27" d="M72.1 286.1l5.1-2.9 3.4 2-5.1 2.9z"/>
<path class="k28" d="M77.2 283.2l2.6-1.5 7.7-3.4 3.4 2.2-7.7 3.3-2.6 1.4z"/>
<path class="k29" d="M87.5 278.3l7.7-3.4 3.4 2.3-7.7 3.3z"/>
<path class="k30" d="M95.2 274.9l2.6-2.5 3.4 2.2-2.6 2.6z"/>
<path class="k31" d="M97.8 272.4l2.6-2.5 3.3 2.1-2.5 2.6z"/>
<path class="k32" d="M100.4 269.9l2.5-2.5 3.4 2-2.6 2.6z"/>
<path class="k33" d="M102.9 267.4l2.6-2.5 3.4 1.9-2.6 2.6z"/>
<path class="k34" d="M105.5 264.9l2.6-2.5 3.3 1.9-2.5 2.5z"/>
<path class="k35" d="M108.1 262.4l2.5-2.6 3.4 1.9-2.6 2.6z"/>
<path class="k36" d="M110.6 259.8l7.7-2.8 3.4 1.9-7.7 2.8z"/>
<path class="k37" d="M118.3 257l7.7-2.9 2.6-1.4 3.4 2-2.6 1.4-7.7 2.8z"/>
<path class="k38" d="M128.6 252.7l7.7-4.3 3.4 2-7.7 4.3z"/>
<path class="k39" d="M136.3 248.4l5.2-2.8 3.3 2-5.1 2.8z"/>
<path class="k40" d="M141.5 245.6l5.1-3.2 3.4 2.1-5.2 3.1z"/>
<path class="k41" d="M146.6 242.4l5.1-3.2 3.4 2.3-5.1 3z"/>
<path class="k42" d="M151.7 239.2l5.2-3.2 3.3 2.4-5.1 3.1z"/>
<path class="k43" d="M156.9 236l5.1-3.2 3.4 2.7-5.2 2.9z"/>
<path class="k44" d="M162 232.8l5.1-3.1 3.4 2.9-5.1 2.9z"/>
<path class="k45" d="M167.1 229.7l5.2-3.1 3.4 3.1-5.2 2.9z"/>
<path class="k22" d="M52.4 301l2.5-1.5 3.4 1.7-2.6 1.4z"/>
<path class="k23" d="M54.9 299.5l5.2-2.8 3.3 1.7-5.1 2.8z"/>
<path class="k24" d="M60.1 296.7l5.1-2.9 3.4 1.8-5.2 2.8z"/>
<path class="k25" d="M65.2 293.8l2.6-1.4 2.5-1.5 3.4 1.9-2.6 1.4-2.5 1.4z"/>
<path class="k26" d="M70.3 290.9l7.7-4.2 3.4 2-7.7 4.1z"/>
<path class="k27" d="M78 286.7l5.2-2.9 3.4 2.1-5.2 2.8z"/>
<path class="k28" d="M83.2 283.8l10.3-4.4 3.3 2.2-10.2 4.3z"/>
<path class="k29" d="M93.5 279.4l5.1-2.2 2.6-2.6 3.3 2.2-2.5 2.7-5.2 2.1z"/>
<path class="k31" d="M101.2 274.6l2.5-2.6 3.4 2.1-2.6 2.7z"/>
<path class="k32" d="M103.7 272l2.6-2.6 3.4 2.1-2.6 2.6z"/>
<path class="k33" d="M106.3 269.4l2.6-2.6 3.3 2-2.5 2.7z"/>
<path class="k34" d="M108.9 266.8l2.5-2.5 3.4 1.9-2.6 2.6z"/>
<path class="k35" d="M111.4 264.3l2.6-2.6 3.4 1.8-2.6 2.7z"/>
<path class="k36" d="M114 261.7l12.9-4.7 3.3 2.1-12.8 4.4z"/>
<path class="k37" d="M126.9 257l2.5-.9 5.2-2.8 3.3 2-5.1 2.9-2.6 .9z"/>
<path class="k38" d="M134.6 253.3l5.1-2.9 3.4 2-5.2 2.9z"/>
<path class="k39" d="M139.7 250.4l5.1-2.8 3.4 2-5.1 2.8z"/>
<path class="k40" d="M144.8 247.6l5.2-3.1 3.3 2.1-5.1 3z"/>
<path class="k41" d="M150 244.5l7.7-4.6 3.3 2.4-7.7 4.3z"/>
<path class="k42" d="M157.7 239.9l2.5-1.5 2.6-1.5 3.4 2.6-2.6 1.3-2.6 1.5z"/>
<path class="k43" d="M162.8 236.9l5.2-2.8 3.3 2.7-5.1 2.7z"/>
<path class="k44" d="M168 234.1l5.1-2.9 3.4 3-5.2 2.6z"/>
<path class="k45" d="M173.1 231.2l2.6-1.5 3.3 3.2-2.5 1.3z"/>
<path class="k22" d="M55.7 302.6l2.6-1.4 3.4 1.7-2.6 1.4z"/>
<path class="k23" d="M58.3 301.2l5.1-2.8 3.4 1.8-5.1 2.7z"/>
<path class="k24" d="M63.4 298.4l5.2-2.8 3.3 1.8-5.1 2.8z"/>
<path class="k25" d="M68.6 295.6l2.5-1.4 5.2-2.8 3.3 2-5.1 2.7-2.6 1.3z"/>
<path class="k26" d="M76.3 291.4l5.1-2.7 3.4 2-5.2 2.7z"/>
<path class="k27" d="M81.4 288.7l5.2-2.8 5.1-2.2 3.4 2.2-5.2 2.1-5.1 2.7z"/>
<path class="k28" d="M91.7 283.7l10.3-4.2 3.3 2.2-10.2 4.2z"/>
<path class="k29" d="M102 279.5l2.5-2.7 3.4 2.2-2.6 2.7z"/>
<path class="k30" d="M104.5 276.8l2.6-2.7 3.4 2.2-2.6 2.7z"/>
<path class="k31" d="M107.1 274.1l2.6-2.6 3.3 2-2.5 2.8z"/>
<path class="k33" d="M109.7 271.5l2.5-2.7 3.4 2-2.6 2.7z"/>
<path class="k34" d="M112.2 268.8l2.6-2.6 3.4 1.9-2.6 2.7z"/>
<path class="k35" d="M114.8 266.2l2.6-2.7 3.3 1.8-2.5 2.8z"/>
<path class="k36" d="M117.4 263.5l15.4-5.3 3.4 2-15.4 5.1z"/>
<path class="k37" d="M132.8 258.2l7.7-4.3 3.4 2-7.7 4.3z"/>
<path class="k38" d="M140.5 253.9l5.1-2.9 3.4 2-5.1 2.9z"/>
<path class="k39" d="M145.6 251l2.6-1.4 2.6-1.5 3.3 2.1-2.5 1.4-2.6 1.4z"/>
<path class="k40" d="M150.8 248.1l5.1-2.9 3.4 2.2-5.2 2.8z"/>
<path class="k41" d="M155.9 245.2l7.7-4.4 3.4 2.4-7.7 4.2z"/>
<path class="k42" d="M163.6 240.8l5.2-2.7 3.3 2.7-5.1 2.4z"/>
<path class="k43" d="M168.8 238.1l7.7-3.9 3.3 3-7.7 3.6z"/>
<path class="k44" d="M176.5 234.2l2.5-1.3 3.4 3.1-2.6 1.2z"/>
<path class="k22" d="M59.1 304.3l2.6-1.4 3.3 1.9-2.5 1.4z"/>
<path class="k23" d="M61.7 302.9l5.1-2.7 3.4 1.9-5.2 2.7z"/>
<path class="k24" d="M66.8 300.2l7.7-4.1 3.4 1.9-7.7 4.1z"/>
<path class="k25" d="M74.5 296.1l5.1-2.7 3.4 1.8-5.1 2.8z"/>
<path class="k26" d="M79.6 293.4l7.8-4.1 3.3 1.7-7.7 4.2z"/>
<path class="k27" d="M87.4 289.3l2.5-1.3 5.2-2.1 3.3 1.6-5.1 2.1-2.6 1.4z"/>
<path class="k28" d="M95.1 285.9l10.2-4.2 3.4 1.5-10.3 4.3z"/>
<path class="k29" d="M105.3 281.7l2.6-2.7 3.4 1.5-2.6 2.7z"/>
<path class="k30" d="M107.9 279l2.6-2.7 3.3 1.4-2.5 2.8z"/>
<path class="k31" d="M110.5 276.3l2.5-2.8 3.4 1.5-2.6 2.7z"/>
<path class="k33" d="M113 273.5l2.6-2.7 3.4 1.5-2.6 2.7z"/>
<path class="k34" d="M115.6 270.8l2.6-2.7 3.4 1.4-2.6 2.8z"/>
<path class="k35" d="M118.2 268.1l2.5-2.8 3.4 1.5-2.5 2.7z"/>
<path class="k36" d="M120.8 265.3l15.4-5.1 3.3 1.2-15.4 5.4z"/>
<path class="k37" d="M136.2 260.2l7.7-4.3 3.3 1.2-7.7 4.3z"/>
<path class="k38" d="M143.9 255.9l5.1-2.9 3.4 1.3-5.2 2.8z"/>
<path class="k39" d="M149 253l2.6-1.4 2.5-1.4 3.4 1.3-2.6 1.4-2.5 1.4z"/>
<path class="k40" d="M154.1 250.2l7.7-4.2 3.4 1.4-7.7 4.1z"/>
<path class="k41" d="M161.8 246l5.2-2.8 3.4 1.4-5.2 2.8z"/>
<path class="k42" d="M167 243.2l10.3-4.8 3.3 1.8-10.2 4.4z"/>
<path class="k43" d="M177.3 238.4l5.1-2.4 3.4 2-5.2 2.2z"/>
<path class="k22" d="M62.5 306.2l2.5-1.4 3.4 1.9-2.6 1.4z"/>
<path class="k23" d="M65 304.8l7.7-4.1 3.4 1.9-7.7 4.1z"/>
<path class="k24" d="M72.7 300.7l5.2-2.7 3.4 1.9-5.2 2.7z"/>
<path class="k25" d="M77.9 298l7.7-4.2 3.4 1.8-7.7 4.3z"/>
<path class="k26" d="M85.6 293.8l5.1-2.8 3.4 1.7-5.1 2.9z"/>
<path class="k27" d="M90.7 291l2.6-1.4 5.1-2.1 3.4 1.6-5.1 2.2-2.6 1.4z"/>
<path class="k28" d="M98.4 287.5l10.3-4.3 3.4 1.5-10.3 4.4z"/>
<path class="k29" d="M108.7 283.2l2.6-2.7 3.3 1.4-2.5 2.8z"/>
<path class="k30" d="M111.3 280.5l2.5-2.8 3.4 1.5-2.6 2.7z"/>
<path class="k31" d="M113.8 277.7l2.6-2.7 3.4 1.5-2.6 2.7z"/>
<path class="k33" d="M116.4 275l2.6-2.7 3.4 1.4-2.6 2.8z"/>
<path class="k34" d="M119 272.3l2.6-2.8 3.3 1.5-2.5 2.7z"/>
<path class="k35" d="M121.6 269.5l2.5-2.7 3.4 1.4-2.6 2.8z"/>
<path class="k36" d="M124.1 266.8l12.9-4.5 3.3 1.2-12.8 4.7z"/>
<path class="k37" d="M137 262.3l2.5-.9 5.2-2.9 3.3 1.3-5.1 2.8-2.6 .9z"/>
<path class="k38" d="M144.7 258.5l5.1-2.8 3.4 1.3-5.2 2.8z"/>
<path class="k39" d="M149.8 255.7l5.1-2.8 2.6-1.4 3.4 1.3-2.6 1.4-5.1 2.8z"/>
<path class="k40" d="M157.5 251.5l5.2-2.8 3.3 1.4-5.1 2.7z"/>
<path class="k41" d="M162.7 248.7l7.7-4.1 3.3 1.4-7.7 4.1z"/>
<path class="k42" d="M170.4 244.6l10.2-4.4 3.4 1.8-10.3 4z"/>
<path class="k43" d="M180.6 240.2l5.2-2.2 3.3 2-5.1 2z"/>
<path class="k22" d="M65.8 308.1l5.2-2.7 3.4 1.9-5.2 2.7z"/>
<path class="k23" d="M71 305.4l5.1-2.8 3.4 1.9-5.1 2.8z"/>
<path class="k24" d="M76.1 302.6l5.2-2.7 2.5-1.4 3.4 1.9-2.6 1.4-5.1 2.7z"/>
<path class="k25" d="M83.8 298.5l5.2-2.9 3.3 1.8-5.1 3z"/>
<path class="k26" d="M89 295.6l5.1-2.9 3.4 1.8-5.2 2.9z"/>
<path class="k27" d="M94.1 292.7l2.6-1.4 5.1-2.2 3.4 1.6-5.2 2.3-2.5 1.5z"/>
<path class="k28" d="M101.8 289.1l10.3-4.4 3.4 1.5-10.3 4.5z"/>
<path class="k29" d="M112.1 284.7l2.5-2.8 3.4 1.5-2.5 2.8z"/>
<path class="k30" d="M114.6 281.9l2.6-2.7 3.4 1.5-2.6 2.7z"/>
<path class="k32" d="M117.2 279.2l2.6-2.7 3.4 1.4-2.6 2.8z"/>
<path class="k33" d="M119.8 276.5l2.6-2.8 3.3 1.5-2.5 2.7z"/>
<path class="k34" d="M122.4 273.7l2.5-2.7 3.4 1.4-2.6 2.8z"/>
<path class="k35" d="M124.9 271l2.6-2.8 3.4 1.5-2.6 2.7z"/>
<path class="k36" d="M127.5 268.2l10.3-3.7 3.3 1.2-10.2 4z"/>
<path class="k37" d="M137.8 264.5l5.1-1.9 5.1-2.8 3.4 1.2-5.1 2.7-5.2 2z"/>
<path class="k38" d="M148 259.8l5.2-2.8 3.4 1.2-5.2 2.8z"/>
<path class="k39" d="M153.2 257l5.1-2.8 3.4 1.3-5.1 2.7z"/>
<path class="k40" d="M158.3 254.2l7.7-4.1 3.4 1.4-7.7 4z"/>
<path class="k41" d="M166 250.1l5.2-2.7 3.3 1.4-5.1 2.7z"/>
<path class="k42" d="M171.2 247.4l2.5-1.4 12.9-5 3.3 1.9-12.8 4.5-2.6 1.4z"/>
<path class="k43" d="M186.6 241l2.5-1 3.4 2-2.6 .9z"/>
<path class="k22" d="M69.2 310l5.2-2.7 1.6 .9 1.7 1-5.1 2.7-1.7-1z"/>
<path class="k23" d="M74.4 307.3l7.7-4.1 1.6 1 1.7 .9-7.7 4.1-1.7-1z"/>
<path class="k24" d="M82.1 303.2l2.5-1.4 2.6-1.4 1.7 .9 1.7 1-2.6 1.5-2.6 1.3-1.7-.9z"/>
<path class="k25" d="M87.2 300.4l5.1-3 1.7 .9 1.7 1-5.1 3-1.7-1z"/>
<path class="k26" d="M92.3 297.4l5.2-2.9 1.7 .8 1.6 1-5.1 3-1.7-1z"/>
<path class="k27" d="M97.5 294.5l2.5-1.5 7.7-3.4 1.7 .8 1.7 1-7.7 3.4-2.6 1.5-1.6-1z"/>
<path class="k28" d="M107.7 289.6l7.8-3.4 1.6 .7 1.7 1-7.7 3.5-1.7-1z"/>
<path class="k29" d="M115.5 286.2l2.5-2.8 1.7 .8 1.7 1-2.6 2.7-1.7-1z"/>
<path class="k30" d="M118 283.4l2.6-2.7 1.7 .7 1.7 1-2.6 2.8-1.7-1z"/>
<path class="k32" d="M120.6 280.7l2.6-2.8 1.6 .8 1.7 1-2.5 2.7-1.7-1z"/>
<path class="k33" d="M123.2 277.9l2.5-2.7 1.7 .7 1.7 1-2.6 2.8-1.7-1z"/>
<path class="k34" d="M125.7 275.2l2.6-2.8 1.7 .8 1.7 1-2.6 2.7-1.7-1z"/>
<path class="k35" d="M128.3 272.4l2.6-2.7 1.7 .7 1.6 1-2.5 2.8-1.7-1z"/>
<path class="k36" d="M130.9 269.7l7.7-3 1.7 .7 1.6 .9-7.7 3.1-1.6-1z"/>
<path class="k37" d="M138.6 266.7l7.7-3 2.5-1.3 1.7 .5 1.7 1-2.6 1.4-7.7 3-1.6-.9z"/>
<path class="k38" d="M148.8 262.4l7.8-4.2 1.6 .7 1.7 .7-7.7 4.3-1.7-1z"/>
<path class="k39" d="M156.6 258.2l5.1-2.7 1.7 .6 1.7 .7-5.2 2.8-1.7-.7z"/>
<path class="k40" d="M161.7 255.5l7.7-4 1.7 .6 1.7 .8-7.7 3.9-1.7-.7z"/>
<path class="k41" d="M169.4 251.5l5.1-2.7 1.7 .7 1.7 .8-5.1 2.6-1.7-.8z"/>
<path class="k42" d="M174.5 248.8l2.6-1.4 15.4-5.4 1.7 1 1.7 1-15.4 5-2.6 1.3-1.7-.8z"/>
<path class="k22" d="M72.6 311.9l7.7-4.1 3.4 2-7.7 4z"/>
<path class="k23" d="M80.3 307.8l7.7-4 3.4 2-7.7 4z"/>
<path class="k24" d="M88 303.8l5.1-3 3.4 2-5.1 3z"/>
<path class="k25" d="M93.1 300.8l5.2-3 3.3 2-5.1 3z"/>
<path class="k26" d="M98.3 297.8l5.1-3 3.4 2-5.2 3z"/>
<path class="k27" d="M103.4 294.8l7.7-3.4 3.4 2-7.7 3.4z"/>
<path class="k28" d="M111.1 291.4l7.7-3.5 3.4 2.1-7.7 3.4z"/>
<path class="k29" d="M118.8 287.9l2.6-2.7 3.4 2-2.6 2.8z"/>
<path class="k30" d="M121.4 285.2l2.6-2.8 3.3 2-2.5 2.8z"/>
<path class="k31" d="M124 282.4l2.5-2.7 3.4 2-2.6 2.7z"/>
<path class="k33" d="M126.5 279.7l2.6-2.8 3.4 2-2.6 2.8z"/>
<path class="k34" d="M129.1 276.9l2.6-2.7 3.3 1.9-2.5 2.8z"/>
<path class="k35" d="M131.7 274.2l2.5-2.8 3.4 2-2.6 2.7z"/>
<path class="k36" d="M134.2 271.4l10.3-4.1 3.4 1.9-10.3 4.2z"/>
<path class="k37" d="M144.5 267.3l5.1-2 2.6-1.4 3.4 1.8-2.6 1.5-5.1 2z"/>
<path class="k38" d="M152.2 263.9l7.7-4.3 3.4 1.6-7.7 4.5z"/>
<path class="k39" d="M159.9 259.6l5.2-2.8 3.3 1.5-5.1 2.9z"/>
<path class="k40" d="M165.1 256.8l7.7-3.9 3.3 1.6-7.7 3.8z"/>
<path class="k41" d="M172.8 252.9l5.1-2.6 3.4 1.6-5.2 2.6z"/>
<path class="k42" d="M177.9 250.3l2.6-1.3 15.4-5 3.4 2-15.5 4.7-2.5 1.2z"/>
<path class="k21" d="M76 313.8l2.5-1.4 3.4 2-2.6 1.3z"/>
<path class="k22" d="M78.5 312.4l7.7-4 3.4 2-7.7 4z"/>
<path class="k23" d="M86.2 308.4l5.2-2.6 3.3 1.9-5.1 2.7z"/>
<path class="k24" d="M91.4 305.8l5.1-3 3.4 2-5.2 2.9z"/>
<path class="k25" d="M96.5 302.8l5.1-3 3.4 2-5.1 3z"/>
<path class="k26" d="M101.6 299.8l5.2-3 2.6-1.1 3.3 2-2.5 1.1-5.2 3z"/>
<path class="k27" d="M109.4 295.7l7.7-3.4 3.3 2-7.7 3.4z"/>
<path class="k28" d="M117.1 292.3l5.1-2.3 3.4 2-5.2 2.3z"/>
<path class="k29" d="M122.2 290l2.6-2.8 3.3 2-2.5 2.8z"/>
<path class="k30" d="M124.8 287.2l2.5-2.8 3.4 2.1-2.6 2.7z"/>
<path class="k31" d="M127.3 284.4l2.6-2.7 3.4 2-2.6 2.8z"/>
<path class="k32" d="M129.9 281.7l2.6-2.8 3.3 2-2.5 2.8z"/>
<path class="k34" d="M132.5 278.9l2.5-2.8 3.4 2-2.6 2.8z"/>
<path class="k35" d="M135 276.1l2.6-2.7 3.4 1.9-2.6 2.8z"/>
<path class="k36" d="M137.6 273.4l12.9-5.2 3.3 1.9-12.8 5.2z"/>
<path class="k37" d="M150.5 268.2l2.5-1 5.2-3 3.3 1.7-5.1 3.2-2.6 1z"/>
<path class="k38" d="M158.2 264.2l5.1-3 3.4 1.6-5.2 3.1z"/>
<path class="k39" d="M163.3 261.2l5.1-2.9 3.4 1.4-5.1 3.1z"/>
<path class="k40" d="M168.4 258.3l5.2-2.6 3.3 1.5-5.1 2.5z"/>
<path class="k41" d="M173.6 255.7l7.7-3.8 3.3 1.7-7.7 3.6z"/>
<path class="k42" d="M181.3 251.9l2.5-1.2 15.5-4.7 3.3 2-15.4 4.4-2.6 1.2z"/>
<path class="k21" d="M79.3 315.7l5.2-2.7 3.3 2-5.1 2.6z"/>
<path class="k22" d="M84.5 313l5.1-2.6 3.4 1.9-5.2 2.7z"/>
<path class="k23" d="M89.6 310.4l5.1-2.7 2.6-1.5 3.4 2-2.6 1.5-5.1 2.6z"/>
<path class="k24" d="M97.3 306.2l5.1-2.9 3.4 1.9-5.1 3z"/>
<path class="k25" d="M102.4 303.3l5.2-3 3.4 2-5.2 2.9z"/>
<path class="k26" d="M107.6 300.3l2.6-1.5 5.1-2.3 3.4 2.1-5.2 2.2-2.5 1.5z"/>
<path class="k27" d="M115.3 296.5l10.3-4.5 3.3 2.1-10.2 4.5z"/>
<path class="k28" d="M125.6 292l2.5-2.8 3.4 2.1-2.6 2.8z"/>
<path class="k30" d="M128.1 289.2l2.6-2.7 3.4 2-2.6 2.8z"/>
<path class="k31" d="M130.7 286.5l2.6-2.8 3.3 2-2.5 2.8z"/>
<path class="k32" d="M133.3 283.7l2.5-2.8 3.4 2-2.6 2.8z"/>
<path class="k33" d="M135.8 280.9l2.6-2.8 3.4 2-2.6 2.8z"/>
<path class="k35" d="M138.4 278.1l2.6-2.8 2.5-1 3.4 1.9-2.5 1.1-2.6 2.8z"/>
<path class="k36" d="M143.5 274.3l12.9-5.2 3.4 1.9-12.9 5.2z"/>
<path class="k37" d="M156.4 269.1l5.1-3.2 3.4 1.8-5.1 3.3z"/>
<path class="k38" d="M161.5 265.9l5.2-3.1 3.3 1.6-5.1 3.3z"/>
<path class="k39" d="M166.7 262.8l2.5-1.6 3.4 1.5-2.6 1.7z"/>
<path class="k40" d="M169.2 261.2l2.6-1.5 5.1-2.5 3.4 1.5-5.1 2.4-2.6 1.6z"/>
<path class="k41" d="M176.9 257.2l10.3-4.8 3.4 1.7-10.3 4.6z"/>
<path class="k42" d="M187.2 252.4l15.4-4.4 3.4 2-15.4 4.1z"/>
<path class="k20" d="M82.7 317.6l5.1-2.6 3.4 5-5.1 2.7z"/>
<path class="k21" d="M87.8 315l7.7-4 3.4 5-7.7 4z"/>
<path class="k22" d="M95.5 311l2.6-1.3 2.6-1.5 3.4 5-2.6 1.4-2.6 1.4z"/>
<path class="k23" d="M100.7 308.2l5.1-3 3.4 5.1-5.1 2.9z"/>
<path class="k24" d="M105.8 305.2l5.2-2.9 3.3 5.2-5.1 2.8z"/>
<path class="k25" d="M111 302.3l2.5-1.5 7.7-3.4 3.4 5.3-7.7 3.3-2.6 1.5z"/>
<path class="k26" d="M121.2 297.4l7.7-3.3 3.4 5.2-7.7 3.4z"/>
<path class="k27" d="M128.9 294.1l2.6-2.8 3.4 5.2-2.6 2.8z"/>
<path class="k28" d="M131.5 291.3l2.6-2.8 3.3 5.2-2.5 2.8z"/>
<path class="k30" d="M134.1 288.5l2.5-2.8 3.4 5.2-2.6 2.8z"/>
<path class="k31" d="M136.6 285.7l2.6-2.8 3.4 5.2-2.6 2.8z"/>
<path class="k32" d="M139.2 282.9l2.6-2.8 3.4 5.2-2.6 2.8z"/>
<path class="k33" d="M141.8 280.1l2.6-2.8 3.3 5.2-2.5 2.8z"/>
<path class="k34" d="M144.4 277.3l7.7-3.2 3.3 5.5-7.7 2.9z"/>
<path class="k35" d="M152.1 274.1l7.7-3.1 3.3 5.6-7.7 3z"/>
<path class="k36" d="M159.8 271l5.1-3.3 3.4 4.5-5.2 4.4z"/>
<path class="k37" d="M164.9 267.7l2.6-1.7 3.3 4-2.5 2.2z"/>
<path class="k38" d="M167.5 266l2.5-1.6 3.4 3.4-2.6 2.2z"/>
<path class="k39" d="M170 264.4l5.2-3.3 3.3 2.3-5.1 4.4z"/>
<path class="k40" d="M175.2 261.1l7.7-3.5 3.4 2.4-7.8 3.4z"/>
<path class="k41" d="M182.9 257.6l7.7-3.5 15.4-4.1 3.4 2.7-15.4 3.9-7.7 3.4z"/>
<path class="k18" d="M86.1 322.7l5.1-2.7 3.4 5.1-5.2 2.8z"/>
<path class="k19" d="M91.2 320l7.7-4 3.4 4.9-7.7 4.2z"/>
<path class="k20" d="M98.9 316l2.6-1.4 2.6-1.4 3.3 4.9-2.5 1.4-2.6 1.4z"/>
<path class="k21" d="M104.1 313.2l5.1-2.9 3.4 5.1-5.2 2.7z"/>
<path class="k22" d="M109.2 310.3l7.7-4.3 3.4 5.3-7.7 4.1z"/>
<path class="k23" d="M116.9 306l7.7-3.3 3.4 5.2-7.7 3.4z"/>
<path class="k24" d="M124.6 302.7l7.7-3.4 3.4 5.2-7.7 3.4z"/>
<path class="k25" d="M132.3 299.3l2.6-2.8 3.3 5.2-2.5 2.8z"/>
<path class="k26" d="M134.9 296.5l2.5-2.8 3.4 5.2-2.6 2.8z"/>
<path class="k27" d="M137.4 293.7l2.6-2.8 3.4 5.2-2.6 2.8z"/>
<path class="k29" d="M140 290.9l2.6-2.8 3.4 5.2-2.6 2.8z"/>
<path class="k30" d="M142.6 288.1l2.6-2.8 3.3 5.2-2.5 2.8z"/>
<path class="k31" d="M145.2 285.3l2.5-2.8 3.4 5.2-2.6 2.8z"/>
<path class="k32" d="M147.7 282.5l12.9-4.9 3.3 5.6-12.8 4.5z"/>
<path class="k33" d="M160.6 277.6l2.5-1 2.6-2.2 3.4 5.2-2.6 2.7-2.6 .9z"/>
<path class="k34" d="M165.7 274.4l2.6-2.2 3.3 4.6-2.5 2.8z"/>
<path class="k35" d="M168.3 272.2l2.5-2.2 3.4 4-2.6 2.8z"/>
<path class="k36" d="M170.8 270l2.6-2.2 3.4 3.5-2.6 2.7z"/>
<path class="k38" d="M173.4 267.8l2.6-2.2 3.3 2.9-2.5 2.8z"/>
<path class="k39" d="M176 265.6l2.5-2.2 2.6-1.1 3.4 2.4-2.6 1.1-2.6 2.7z"/>
<path class="k40" d="M181.1 262.3l10.3-4.5 3.4 2.5-10.3 4.4z"/>
<path class="k41" d="M191.4 257.8l2.6-1.2 12.8-3.2 3.4 2.7-12.9 3.1-2.5 1.1z"/>
<path class="k40" d="M206.8 253.4l2.6-.7 3.3 2.7-2.5 .7z"/>
<path class="k16" d="M89.4 327.9l5.2-2.8 3.4 5.1-5.2 2.8z"/>
<path class="k17" d="M94.6 325.1l7.7-4.2 3.4 5-7.7 4.3z"/>
<path class="k18" d="M102.3 320.9l2.6-1.4 2.5-1.4 3.4 5-2.6 1.3-2.5 1.5z"/>
<path class="k19" d="M107.4 318.1l7.7-4.1 3.4 5.2-7.7 3.9z"/>
<path class="k20" d="M115.1 314l5.2-2.7 3.3 5.2-5.1 2.7z"/>
<path class="k21" d="M120.3 311.3l10.2-4.6 3.4 5.3-10.3 4.5z"/>
<path class="k22" d="M130.5 306.7l5.2-2.2 3.4 5.2-5.2 2.3z"/>
<path class="k23" d="M135.7 304.5l2.5-2.8 3.4 5.2-2.5 2.8z"/>
<path class="k24" d="M138.2 301.7l2.6-2.8 3.4 5.2-2.6 2.8z"/>
<path class="k25" d="M140.8 298.9l2.6-2.8 3.4 5.2-2.6 2.8z"/>
<path class="k26" d="M143.4 296.1l2.6-2.8 3.3 5.2-2.5 2.8z"/>
<path class="k28" d="M146 293.3l2.5-2.8 3.4 5.2-2.6 2.8z"/>
<path class="k29" d="M148.5 290.5l2.6-2.8 3.4 5.3-2.6 2.7z"/>
<path class="k30" d="M151.1 287.7l15.4-5.4 3.4 5.7-15.4 5z"/>
<path class="k31" d="M166.5 282.3l2.6-2.7 3.3 5.1-2.5 3.3z"/>
<path class="k32" d="M169.1 279.6l2.5-2.8 3.4 4.6-2.6 3.3z"/>
<path class="k34" d="M171.6 276.8l2.6-2.8 3.4 4-2.6 3.4z"/>
<path class="k35" d="M174.2 274l2.6-2.7 3.4 3.4-2.6 3.3z"/>
<path class="k37" d="M176.8 271.3l2.5-2.8 3.4 2.9-2.5 3.3z"/>
<path class="k38" d="M179.3 268.5l2.6-2.7 3.4 2.3-2.6 3.3z"/>
<path class="k39" d="M181.9 265.8l7.7-3.3 3.4 2.4-7.7 3.2z"/>
<path class="k40" d="M189.6 262.5l7.7-3.3 15.4-3.8 3.4 2.7-15.4 3.6-7.7 3.2z"/>
<path class="k13" d="M92.8 333l2.6-1.4 1.7 2.5 1.7 3.1-2.6 1.5-1.7-3.1z"/>
<path class="k14" d="M95.4 331.6l5.1-2.9 1.7 2.5 1.7 3-5.1 3-1.7-3.1z"/>
<path class="k15" d="M100.5 328.7l5.2-2.8 1.6 2.4 1.7 3-5.1 2.9-1.7-3z"/>
<path class="k16" d="M105.7 325.9l2.5-1.5 5.2-2.6 1.6 2.5 1.7 2.8-5.1 2.7-2.6 1.5-1.7-3z"/>
<path class="k17" d="M113.4 321.8l5.1-2.6 1.7 2.5 1.7 2.8-5.2 2.6-1.7-2.8z"/>
<path class="k18" d="M118.5 319.2l5.1-2.7 2.6-1.1 1.7 2.6 1.7 2.7-2.6 1.2-5.1 2.6-1.7-2.8z"/>
<path class="k19" d="M126.2 315.4l10.3-4.6 1.7 2.6 1.7 2.6-10.3 4.7-1.7-2.7z"/>
<path class="k20" d="M136.5 310.8l2.6-1.1 2.5-2.8 1.7 2.6 1.7 2.5-2.6 2.8-2.5 1.2-1.7-2.6z"/>
<path class="k22" d="M141.6 306.9l2.6-2.8 1.7 2.6 1.7 2.6-2.6 2.7-1.7-2.5z"/>
<path class="k23" d="M144.2 304.1l2.6-2.8 1.6 2.6 1.7 2.6-2.5 2.8-1.7-2.6z"/>
<path class="k24" d="M146.8 301.3l2.5-2.8 1.7 2.6 1.7 2.7-2.6 2.7-1.7-2.6z"/>
<path class="k25" d="M149.3 298.5l2.6-2.8 1.7 2.6 1.7 2.8-2.6 2.7-1.7-2.7z"/>
<path class="k27" d="M151.9 295.7l2.6-2.7 5.1-1.7 1.7 2.7 1.7 2.7-5.2 1.6-2.5 2.8-1.7-2.8z"/>
<path class="k28" d="M159.6 291.3l10.3-3.3 1.7 2.8 1.6 2.6-10.2 3.3-1.7-2.7z"/>
<path class="k29" d="M169.9 288l2.5-3.3 1.7 2.5 1.7 2.5-2.6 3.7-1.6-2.6z"/>
<path class="k30" d="M172.4 284.7l2.6-3.3 1.7 2.2 1.7 2.3-2.6 3.8-1.7-2.5z"/>
<path class="k32" d="M175 281.4l2.6-3.4 1.7 2.1 1.7 2-2.6 3.8-1.7-2.3z"/>
<path class="k34" d="M177.6 278l2.6-3.3 1.6 1.8 1.7 1.9-2.5 3.7-1.7-2z"/>
<path class="k36" d="M180.2 274.7l2.5-3.3 1.7 1.5 1.7 1.7-2.6 3.8-1.7-1.9z"/>
<path class="k37" d="M182.7 271.4l2.6-3.3 1.7 1.2 1.7 1.6-2.6 3.7-1.7-1.7z"/>
<path class="k38" d="M185.3 268.1l5.1-2.1 1.7 1.2 1.7 1.6-5.1 2.1-1.7-1.6z"/>
<path class="k39" d="M190.4 266l10.3-4.3 15.4-3.6 1.7 1.4 1.7 1.2-15.4 3.8-10.3 4.3-1.7-1.6z"/>
<path class="k11" d="M96.2 338.7l5.1-3 3.4 6.1-5.1 3.1z"/>
<path class="k12" d="M101.3 335.7l5.2-3 3.3 6-5.1 3.1z"/>
<path class="k13" d="M106.5 332.7l5.1-2.9 3.4 5.7-5.2 3.2z"/>
<path class="k14" d="M111.6 329.8l7.7-4 3.4 5.6-7.7 4.1z"/>
<path class="k15" d="M119.3 325.8l5.1-2.6 3.4 5.5-5.1 2.7z"/>
<path class="k16" d="M124.4 323.2l2.6-1.3 5.1-2.4 3.4 5.3-5.1 2.5-2.6 1.4z"/>
<path class="k17" d="M132.1 319.5l7.8-3.5 3.3 5-7.7 3.8z"/>
<path class="k18" d="M139.9 316l2.5-1.2 2.6-2.8 3.4 5.1-2.6 2.7-2.6 1.2z"/>
<path class="k20" d="M145 312l2.6-2.7 3.3 5.2-2.5 2.6z"/>
<path class="k21" d="M147.6 309.3l2.5-2.8 3.4 5.3-2.6 2.7z"/>
<path class="k22" d="M150.1 306.5l2.6-2.7 3.4 5.3-2.6 2.7z"/>
<path class="k23" d="M152.7 303.8l2.6-2.7 3.3 5.4-2.5 2.6z"/>
<path class="k24" d="M155.3 301.1l2.5-2.8 3.4 5.5-2.6 2.7z"/>
<path class="k25" d="M157.8 298.3l12.9-4.1 3.4 5.3-12.9 4.3z"/>
<path class="k26" d="M170.7 294.2l2.5-.8 3.4 5.2-2.5 .9z"/>
<path class="k27" d="M173.2 293.4l2.6-3.7 3.4 4.8-2.6 4.1z"/>
<path class="k28" d="M175.8 289.7l2.6-3.8 3.4 4.5-2.6 4.1z"/>
<path class="k30" d="M178.4 285.9l2.6-3.8 3.3 4.2-2.5 4.1z"/>
<path class="k32" d="M181 282.1l2.5-3.7 3.4 3.9-2.6 4z"/>
<path class="k34" d="M183.5 278.4l2.6-3.8 3.4 3.6-2.6 4.1z"/>
<path class="k36" d="M186.1 274.6l2.6-3.7 3.3 3.2-2.5 4.1z"/>
<path class="k37" d="M188.7 270.9l2.5-1.1 3.4 3.2-2.6 1.1z"/>
<path class="k38" d="M191.2 269.8l10.3-4.2 3.4 3.1-10.3 4.3z"/>
<path class="k39" d="M201.5 265.6l2.6-1.1 15.4-3.8 3.4 2.4-15.5 4.5-2.5 1.1z"/>
<path class="k8" d="M99.6 344.9l5.1-3.1 3.4 6-5.2 3.3z"/>
<path class="k9" d="M104.7 341.8l2.6-1.6 3.3 6-2.5 1.6z"/>
<path class="k10" d="M107.3 340.2l5.1-3.1 3.4 5.8-5.2 3.3z"/>
<path class="k11" d="M112.4 337.1l2.6-1.6 2.5-1.3 3.4 5.7-2.6 1.4-2.5 1.6z"/>
<path class="k12" d="M117.5 334.2l7.7-4.2 3.4 5.6-7.7 4.3z"/>
<path class="k13" d="M125.2 330l5.2-2.7 3.4 5.4-5.2 2.9z"/>
<path class="k14" d="M130.4 327.3l7.7-3.8 3.4 5.2-7.7 4z"/>
<path class="k15" d="M138.1 323.5l7.7-3.7 3.4 4.9-7.7 4z"/>
<path class="k16" d="M145.8 319.8l2.6-2.7 3.3 5.1-2.5 2.5z"/>
<path class="k17" d="M148.4 317.1l2.5-2.6 3.4 5.1-2.6 2.6z"/>
<path class="k19" d="M150.9 314.5l2.6-2.7 3.4 5.3-2.6 2.5z"/>
<path class="k20" d="M153.5 311.8l2.6-2.7 3.3 5.4-2.5 2.6z"/>
<path class="k21" d="M156.1 309.1l2.5-2.6 3.4 5.4-2.6 2.6z"/>
<path class="k22" d="M158.6 306.5l2.6-2.7 3.4 5.6-2.6 2.5z"/>
<path class="k23" d="M161.2 303.8l15.4-5.2 3.4 5.1-15.4 5.7z"/>
<path class="k24" d="M176.6 298.6l2.6-4.1 3.4 4.8-2.6 4.4z"/>
<path class="k27" d="M179.2 294.5l2.6-4.1 3.3 4.5-2.5 4.4z"/>
<path class="k29" d="M181.8 290.4l2.5-4.1 3.4 4.2-2.6 4.4z"/>
<path class="k31" d="M184.3 286.3l2.6-4 3.4 3.8-2.6 4.4z"/>
<path class="k33" d="M186.9 282.3l2.6-4.1 3.3 3.5-2.5 4.4z"/>
<path class="k35" d="M189.5 278.2l2.5-4.1 3.4 3.2-2.6 4.4z"/>
<path class="k36" d="M192 274.1l2.6-1.1 3.4 3.2-2.6 1.1z"/>
<path class="k37" d="M194.6 273l10.3-4.3 3.3 3-10.2 4.5z"/>
<path class="k38" d="M204.9 268.7l2.5-1.1 15.5-4.5 3.3 2.5-15.4 5-2.6 1.1z"/>
<path class="k5" d="M102.9 351.1l2.6-1.6 3.4 6.1-2.6 1.7z"/>
<path class="k6" d="M105.5 349.5l5.1-3.3 3.4 6-5.1 3.4z"/>
<path class="k7" d="M110.6 346.2l2.6-1.6 3.4 5.9-2.6 1.7z"/>
<path class="k8" d="M113.2 344.6l5.1-3.3 3.4 5.8-5.1 3.4z"/>
<path class="k9" d="M118.3 341.3l5.2-2.9 3.3 5.7-5.1 3z"/>
<path class="k10" d="M123.5 338.4l7.7-4.3 3.4 5.5-7.8 4.5z"/>
<path class="k11" d="M131.2 334.1l2.6-1.4 2.5-1.3 3.4 5.3-2.6 1.4-2.5 1.5z"/>
<path class="k12" d="M136.3 331.4l5.2-2.7 3.3 5.2-5.1 2.8z"/>
<path class="k13" d="M141.5 328.7l7.7-4 3.3 5-7.7 4.2z"/>
<path class="k14" d="M149.2 324.7l2.5-2.5 3.4 5.1-2.6 2.4z"/>
<path class="k15" d="M151.7 322.2l2.6-2.6 3.4 5.2-2.6 2.5z"/>
<path class="k16" d="M154.3 319.6l2.6-2.5 3.3 5.2-2.5 2.5z"/>
<path class="k17" d="M156.9 317.1l2.5-2.6 3.4 5.3-2.6 2.5z"/>
<path class="k19" d="M159.4 314.5l2.6-2.6 3.4 5.4-2.6 2.5z"/>
<path class="k20" d="M162 311.9l2.6-2.5 5.1-1.9 3.4 5.4-5.1 2-2.6 2.4z"/>
<path class="k21" d="M169.7 307.5l10.3-3.8 3.4 5.2-10.3 4z"/>
<path class="k22" d="M180 303.7l2.6-4.4 3.3 4.9-2.5 4.7z"/>
<path class="k25" d="M182.6 299.3l2.5-4.4 3.4 4.5-2.6 4.8z"/>
<path class="k27" d="M185.1 294.9l2.6-4.4 3.4 4.2-2.6 4.7z"/>
<path class="k29" d="M187.7 290.5l2.6-4.4 3.3 3.9-2.5 4.7z"/>
<path class="k32" d="M190.3 286.1l2.5-4.4 3.4 3.6-2.6 4.7z"/>
<path class="k34" d="M192.8 281.7l2.6-4.4 3.4 3.2-2.6 4.8z"/>
<path class="k35" d="M195.4 277.3l2.6-1.1 3.3 3.2-2.5 1.1z"/>
<path class="k36" d="M198 276.2l10.2-4.5 3.4 3.1-10.3 4.6z"/>
<path class="k37" d="M208.2 271.7l2.6-1.1 12.9-4.2 3.3 2.5-12.8 4.8-2.6 1.1z"/>
<path class="k38" d="M223.7 266.4l2.5-.8 3.4 2.4-2.6 .9z"/>
<path class="k3" d="M106.3 357.3l2.6-1.7 3.3 3.5-2.5 1.7z"/>
<path class="k4" d="M108.9 355.6l5.1-3.4 3.4 3.6-5.2 3.3z"/>
<path class="k5" d="M114 352.2l2.6-1.7 3.3 3.6-2.5 1.7z"/>
<path class="k6" d="M116.6 350.5l5.1-3.4 3.4 3.7-5.2 3.3z"/>
<path class="k7" d="M121.7 347.1l5.1-3 3.4 3.8-5.1 2.9z"/>
<path class="k8" d="M126.8 344.1l5.2-3 3.4 3.9-5.2 2.9z"/>
<path class="k9" d="M132 341.1l5.1-3 3.4 4-5.1 2.9z"/>
<path class="k10" d="M137.1 338.1l7.7-4.2 3.4 4.1-7.7 4.1z"/>
<path class="k11" d="M144.8 333.9l5.2-2.8 3.3 4.1-5.1 2.8z"/>
<path class="k12" d="M150 331.1l2.5-1.4 2.6-2.4 3.4 4.1-2.6 2.5-2.6 1.3z"/>
<path class="k13" d="M155.1 327.3l2.6-2.5 3.3 4.2-2.5 2.4z"/>
<path class="k14" d="M157.7 324.8l2.5-2.5 3.4 4.3-2.6 2.4z"/>
<path class="k16" d="M160.2 322.3l2.6-2.5 3.4 4.3-2.6 2.5z"/>
<path class="k17" d="M162.8 319.8l2.6-2.5 3.4 4.4-2.6 2.4z"/>
<path class="k18" d="M165.4 317.3l2.6-2.4 5.1-2 3.4 4.5-5.2 1.9-2.5 2.4z"/>
<path class="k19" d="M173.1 312.9l10.3-4 3.3 4.7-10.2 3.8z"/>
<path class="k20" d="M183.4 308.9l2.5-4.7 3.4 4.7-2.6 4.7z"/>
<path class="k23" d="M185.9 304.2l2.6-4.8 3.4 4.9-2.6 4.6z"/>
<path class="k25" d="M188.5 299.4l2.6-4.7 3.3 4.9-2.5 4.7z"/>
<path class="k28" d="M191.1 294.7l2.5-4.7 3.4 5-2.6 4.6z"/>
<path class="k30" d="M193.6 290l2.6-4.7 3.4 5-2.6 4.7z"/>
<path class="k32" d="M196.2 285.3l2.6-4.8 3.3 5.2-2.5 4.6z"/>
<path class="k34" d="M198.8 280.5l7.7-3.4 3.4 5.1-7.8 3.5z"/>
<path class="k35" d="M206.5 277.1l7.7-3.4 2.6-1 3.3 5.1-2.5 1-7.7 3.4z"/>
<path class="k36" d="M216.8 272.7l12.8-4.7 3.4 5-12.9 4.8z"/>
<path class="k2" d="M109.7 360.8l2.5-1.7 3.4 3.5-2.6 1.6z"/>
<path class="k3" d="M112.2 359.1l5.2-3.3 3.3 3.5-5.1 3.3z"/>
<path class="k4" d="M117.4 355.8l5.1-3.4 3.4 3.7-5.2 3.2z"/>
<path class="k5" d="M122.5 352.4l2.6-1.6 2.6-1.5 3.3 3.7-2.5 1.4-2.6 1.7z"/>
<path class="k6" d="M127.7 349.3l5.1-2.9 3.4 3.8-5.2 2.8z"/>
<path class="k7" d="M132.8 346.4l5.1-2.9 3.4 3.9-5.1 2.8z"/>
<path class="k8" d="M137.9 343.5l2.6-1.4 5.1-2.8 3.4 4-5.1 2.7-2.6 1.4z"/>
<path class="k9" d="M145.6 339.3l5.2-2.7 3.3 4.1-5.1 2.6z"/>
<path class="k10" d="M150.8 336.6l5.1-2.7 3.4 4.1-5.2 2.7z"/>
<path class="k11" d="M155.9 333.9l2.6-2.5 3.3 4.2-2.5 2.4z"/>
<path class="k12" d="M158.5 331.4l2.5-2.4 3.4 4.2-2.6 2.4z"/>
<path class="k13" d="M161 329l2.6-2.4 3.4 4.2-2.6 2.4z"/>
<path class="k14" d="M163.6 326.6l2.6-2.5 3.4 4.3-2.6 2.4z"/>
<path class="k15" d="M166.2 324.1l2.6-2.4 3.3 4.4-2.5 2.3z"/>
<path class="k16" d="M168.8 321.7l2.5-2.4 3.4 4.4-2.6 2.4z"/>
<path class="k17" d="M171.3 319.3l15.4-5.7 3.4 4.6-15.4 5.5z"/>
<path class="k19" d="M186.7 313.6l2.6-4.7 3.4 4.8-2.6 4.5z"/>
<path class="k21" d="M189.3 308.9l2.6-4.6 3.3 4.8-2.5 4.6z"/>
<path class="k23" d="M191.9 304.3l2.5-4.7 3.4 4.9-2.6 4.6z"/>
<path class="k26" d="M194.4 299.6l2.6-4.6 3.4 5-2.6 4.5z"/>
<path class="k28" d="M197 295l2.6-4.7 3.3 5.1-2.5 4.6z"/>
<path class="k30" d="M199.6 290.3l2.5-4.6 3.4 5.2-2.6 4.5z"/>
<path class="k32" d="M202.1 285.7l10.3-4.6 3.4 5.1-10.3 4.7z"/>
<path class="k33" d="M212.4 281.1l5.2-2.3 5.1-1.9 3.4 5-5.2 2-5.1 2.3z"/>
<path class="k34" d="M222.7 276.9l10.3-3.9 3.3 5-10.2 3.9z"/>
<path class="k1" d="M113 364.2l5.2-3.2 3.4 3.5-5.2 3.2z"/>
<path class="k2" d="M118.2 361l2.5-1.7 3.4 3.6-2.5 1.6z"/>
<path class="k3" d="M120.7 359.3l5.2-3.2 3.4 3.6-5.2 3.2z"/>
<path class="k4" d="M125.9 356.1l2.6-1.7 2.5-1.4 3.4 3.7-2.6 1.4-2.5 1.6z"/>
<path class="k5" d="M131 353l7.7-4.2 3.4 3.8-7.7 4.1z"/>
<path class="k6" d="M138.7 348.8l5.2-2.8 3.3 3.9-5.1 2.7z"/>
<path class="k7" d="M143.9 346l7.7-4 3.3 4-7.7 3.9z"/>
<path class="k8" d="M151.6 342l5.1-2.7 3.4 4.1-5.2 2.6z"/>
<path class="k9" d="M156.7 339.3l2.6-1.3 2.5-2.4 3.4 4.2-2.5 2.3-2.6 1.3z"/>
<path class="k10" d="M161.8 335.6l2.6-2.4 3.4 4.2-2.6 2.4z"/>
<path class="k11" d="M164.4 333.2l2.6-2.4 3.4 4.3-2.6 2.3z"/>
<path class="k12" d="M167 330.8l2.6-2.4 3.3 4.4-2.5 2.3z"/>
<path class="k13" d="M169.6 328.4l2.5-2.3 3.4 4.3-2.6 2.4z"/>
<path class="k14" d="M172.1 326.1l2.6-2.4 3.4 4.4-2.6 2.3z"/>
<path class="k15" d="M174.7 323.7l15.4-5.5 3.4 4.7-15.4 5.2z"/>
<path class="k17" d="M190.1 318.2l2.6-4.5 3.3 4.7-2.5 4.5z"/>
<path class="k19" d="M192.7 313.7l2.5-4.6 3.4 4.8-2.6 4.5z"/>
<path class="k21" d="M195.2 309.1l2.6-4.6 3.4 5-2.6 4.4z"/>
<path class="k24" d="M197.8 304.5l2.6-4.5 3.4 5-2.6 4.5z"/>
<path class="k26" d="M200.4 300l2.5-4.6 3.4 5.1-2.5 4.5z"/>
<path class="k28" d="M202.9 295.4l2.6-4.5 3.4 5.1-2.6 4.5z"/>
<path class="k29" d="M205.5 290.9l2.6-1.2 3.4 5.2-2.6 1.1z"/>
<path class="k30" d="M208.1 289.7l7.7-3.5 3.4 5.2-7.7 3.5z"/>
<path class="k31" d="M215.8 286.2l5.1-2.3 5.2-2 3.3 5.1-5.1 2-5.1 2.4z"/>
<path class="k32" d="M226.1 281.9l10.2-3.9 3.4 5-10.3 4z"/>
<path class="k0" d="M116.4 367.7l2.6-1.6 1.7 1.7-2.6 1.6z"/>
<path class="k1" d="M119 366.1l5.1-3.2 1.7 1.8-5.1 3.1z"/>
<path class="k2" d="M124.1 362.9l5.2-3.2 1.6 1.8-5.1 3.2z"/>
<path class="k3" d="M129.3 359.7l2.5-1.6 2.6-1.4 1.7 1.9-2.6 1.3-2.6 1.6z"/>
<path class="k4" d="M134.4 356.7l7.7-4.1 1.7 2-7.7 4z"/>
<path class="k5" d="M142.1 352.6l5.1-2.7 1.7 2-5.1 2.7z"/>
<path class="k6" d="M147.2 349.9l7.7-3.9 1.7 2-7.7 3.9z"/>
<path class="k7" d="M154.9 346l7.8-3.9 1.6 2.1-7.7 3.8z"/>
<path class="k8" d="M162.7 342.1l2.5-2.3 1.7 2.1-2.6 2.3z"/>
<path class="k9" d="M165.2 339.8l2.6-2.4 1.7 2.2-2.6 2.3z"/>
<path class="k10" d="M167.8 337.4l2.6-2.3 1.6 2.1-2.5 2.4z"/>
<path class="k11" d="M170.4 335.1l2.5-2.4 1.7 2.2-2.6 2.3z"/>
<path class="k12" d="M172.9 332.8l2.6-2.4 1.7 2.2-2.6 2.3z"/>
<path class="k13" d="M175.5 330.4l2.6-2.3 1.7 2.1-2.6 2.4z"/>
<path class="k14" d="M178.1 328.1l15.4-5.2 1.7 2.3-15.4 5.1z"/>
<path class="k15" d="M193.5 322.9l2.5-4.5 1.7 2.4-2.5 4.4z"/>
<path class="k17" d="M196 318.4l2.6-4.5 1.7 2.4-2.6 4.5z"/>
<path class="k20" d="M198.6 313.9l2.6-4.4 1.7 2.4-2.6 4.4z"/>
<path class="k22" d="M201.2 309.5l2.6-4.5 1.6 2.5-2.5 4.4z"/>
<path class="k24" d="M203.8 305l2.5-4.5 1.7 2.6-2.6 4.4z"/>
<path class="k27" d="M206.3 300.5l2.6-4.5 1.7 2.6-2.6 4.5z"/>
<path class="k28" d="M208.9 296l7.7-3.5 1.7 2.6-7.7 3.5z"/>
<path class="k29" d="M216.6 292.5l7.7-3.5 1.7 2.6-7.7 3.5z"/>
<path class="k30" d="M224.3 289l15.4-6 1.7 2.5-15.4 6.1z"/>
<path class="m" fill="none" d="M35.5 292.3l15.4-9 15.4-9.1 15.4-7 15.5-15.1 15.4-6 15.4-8 15.4-10.1 15.4-10M37.2 293.2l15.4-9 15.4-9 15.4-7.1 15.4-15 15.4-6 15.5-8.1 15.4-10 15.4-10M38.9 294.1l15.4-9 15.4-9 15.4-7 15.4-15 15.4-6 15.4-8.2 15.5-9.9 15.4-10M40.6 295l15.4-9 15.4-9 15.4-7 15.4-14.9 15.4-6 15.4-8.2 15.4-10 15.5-9.9M42.2 295.8l15.5-8.9 15.4-9 15.4-6.9 15.4-15 15.4-5.9 15.4-8.3 15.4-9.9 15.4-9.9M43.9 296.7l15.4-8.9 15.5-8.9 15.4-7 15.4-14.9 15.4-5.9 15.4-8.4 15.4-9.8 15.4-9.9M45.6 297.6l15.4-8.9 15.4-8.9 15.5-7 15.4-14.8 15.4-5.9 15.4-8.4 15.4-9.9 15.4-9.8M47.3 298.5l15.4-8.9 15.4-8.9 15.4-6.9 15.5-14.9 15.4-5.8 15.4-8.5 15.4-9.8 15.4-9.8M49 299.3l15.4-8.8 15.4-8.8 15.4-6.8 15.4-15.1 15.4-5.7 15.5-8.5 15.4-9.6 15.4-9.4M50.7 300.2l15.4-8.8 15.4-8.6 15.4-6.7 15.4-15.3 15.4-5.7 15.4-8.5 15.5-9.4 15.4-9.1M52.4 301l15.4-8.6 15.4-8.6 15.4-6.6 15.4-15.5 15.4-5.6 15.4-8.5 15.4-9.2 15.5-8.7M54 301.8l15.5-8.5 15.4-8.4 15.4-6.6 15.4-15.7 15.4-5.5 15.4-8.5 15.4-9 15.4-8.3M55.7 302.6l15.4-8.4 15.5-8.3 15.4-6.4 15.4-16 15.4-5.3 15.4-8.6 15.4-8.8 15.4-7.9M57.4 303.5l15.4-8.4 15.4-8.2 15.5-6.3 15.4-16.2 15.4-5.2 15.4-8.6 15.4-8.6 15.4-7.6M59.1 304.3l15.4-8.2 15.4-8.1 15.4-6.3 15.5-16.4 15.4-5.1 15.4-8.6 15.4-8.4 15.4-7.2M60.8 305.2l15.4-8.2 15.4-8.2 15.4-6.3 15.4-16.4 15.4-5.3 15.5-8.6 15.4-8.3 15.4-6.9M62.5 306.2l15.4-8.2 15.4-8.4 15.4-6.4 15.4-16.4 15.4-5.4 15.4-8.5 15.5-8.3 15.4-6.6M64.2 307.1l15.4-8.1 15.4-8.5 15.4-6.6 15.4-16.4 15.4-5.5 15.4-8.5 15.4-8.2 15.5-6.3M65.8 308.1l15.5-8.2 15.4-8.6 15.4-6.6 15.4-16.5 15.4-5.6 15.4-8.4 15.4-8.2 15.4-6M67.5 309l15.4-8.1 15.5-8.8 15.4-6.7 15.4-16.4 15.4-5.9 15.4-8.3 15.4-8.1 15.4-5.7M69.2 310l15.4-8.2 15.4-8.8 15.5-6.8 15.4-16.5 15.4-6 15.4-8.2 15.4-8.1 15.4-5.4M70.9 310.9l15.4-8.1 15.4-9 15.4-6.9 15.5-16.5 15.4-6.1 15.4-8.2 15.4-7.9 15.4-5.2M72.6 311.9l15.4-8.1 15.4-9 15.4-6.9 15.4-16.5 15.4-6.1 15.5-8.5 15.4-7.8 15.4-5M74.3 312.8l15.4-8 15.4-9 15.4-6.8 15.4-16.6 15.4-6.2 15.4-8.6 15.5-7.8 15.4-4.8M76 313.8l15.4-8 15.4-9 15.4-6.8 15.4-16.6 15.4-6.2 15.4-8.9 15.4-7.6 15.5-4.7M77.6 314.7l15.5-8 15.4-8.9 15.4-6.8 15.4-16.7 15.4-6.2 15.4-9.1 15.4-7.5 15.4-4.5M79.3 315.7l15.4-8 15.5-8.9 15.4-6.8 15.4-16.7 15.4-6.2 15.4-9.4 15.4-7.3 15.4-4.4M81 316.6l15.4-7.9 15.4-8.9 15.5-6.8 15.4-16.7 15.4-6.3 15.4-9.6 15.4-7.2 15.4-4.2M82.7 317.6l15.4-7.9 15.4-8.9 15.4-6.7 15.5-16.8 15.4-6.3 15.4-9.9 15.4-7 15.4-4.1M84.4 320.2l15.4-8.1 15.4-8.7 15.4-6.7 15.4-16.8 15.4-6.1 15.5-11.5 15.4-7 15.4-3.9M86.1 322.7l15.4-8.1 15.4-8.6 15.4-6.7 15.4-16.8 15.4-5.9 15.4-13.2 15.5-6.8 15.4-3.9M87.8 325.3l15.4-8.2 15.4-8.4 15.4-6.8 15.4-16.8 15.4-5.6 15.4-14.9 15.4-6.7 15.5-3.8M89.4 327.9l15.5-8.4 15.4-8.2 15.4-6.8 15.4-16.8 15.4-5.4 15.4-16.5 15.4-6.6 15.4-3.8M91.1 330.5l15.4-8.5 15.5-8.1 15.4-6.8 15.4-16.8 15.4-5.1 15.4-18.3 15.4-6.4 15.4-3.7M92.8 333l15.4-8.6 15.4-7.9 15.5-6.8 15.4-16.7 15.4-5 15.4-19.9 15.4-6.4 15.4-3.6M94.5 335.6l15.4-8.7 15.4-7.8 15.4-6.8 15.5-16.7 15.4-4.8 15.4-21.5 15.4-6.3 15.4-3.5M96.2 338.7l15.4-8.9 15.4-7.9 15.4-7.1 15.4-16.5 15.4-4.9 15.5-22.5 15.4-6.4 15.4-3.8M97.9 341.8l15.4-9.1 15.4-8.1 15.4-7.3 15.4-16.2 15.4-5.1 15.4-23.5 15.5-6.4 15.4-4.2M99.6 344.9l15.4-9.4 15.4-8.2 15.4-7.5 15.4-16 15.4-5.2 15.4-24.5 15.4-6.5 15.5-4.5M101.2 348l15.5-9.6 15.4-8.4 15.4-7.7 15.4-15.7 15.4-5.4 15.4-25.5 15.4-6.6 15.4-4.7M102.9 351.1l15.4-9.8 15.5-8.6 15.4-8 15.4-15.3 15.4-5.7 15.4-26.4 15.4-6.7 15.4-5M104.6 354.2l15.4-10 15.4-8.8 15.5-8.2 15.4-15.1 15.4-5.8 15.4-27.4 15.4-6.7 15.4-5.4M106.3 357.3l15.4-10.2 15.4-9 15.4-8.4 15.5-14.8 15.4-6 15.4-28.4 15.4-6.8 15.4-5.7M108 359l15.4-10.1 15.4-8.8 15.4-8.3 15.4-14.7 15.4-5.9 15.5-28.1 15.4-6.9 15.4-5.7M109.7 360.8l15.4-10 15.4-8.7 15.4-8.2 15.4-14.6 15.4-5.7 15.4-27.9 15.5-6.9 15.4-5.8M111.4 362.5l15.4-9.9 15.4-8.6 15.4-8.1 15.4-14.4 15.4-5.6 15.4-27.6 15.4-7 15.5-5.8M113 364.2l15.5-9.8 15.4-8.4 15.4-8 15.4-14.3 15.4-5.5 15.4-27.3 15.4-7 15.4-5.9M114.7 365.9l15.4-9.6 15.5-8.4 15.4-7.8 15.4-14.2 15.4-5.4 15.4-27 15.4-7 15.4-6M116.4 367.7l15.4-9.6 15.4-8.2 15.5-7.8 15.4-14 15.4-5.2 15.4-26.9 15.4-7 15.4-6M118.1 369.4l15.4-9.5 15.4-8 15.4-7.7 15.4-13.9 15.5-5.1 15.4-26.6 15.4-7 15.4-6.1M35.5 292.3l11.8 6.2 11.8 5.8 11.8 6.6 11.8 6.7 11.8 18 11.8 21.7 11.8 12.1M38.1 290.8l11.8 6.2 11.8 5.9 11.8 6.7 11.8 6.7 11.8 17.8 11.8 21.5 11.8 12.2M40.6 289.3l11.8 6.2 11.8 6.1 11.8 6.6 11.8 6.8 11.8 17.7 11.8 21.2 11.8 12.3M43.2 287.8l11.8 6.2 11.8 6.2 11.8 6.7 11.8 6.7 11.8 17.6 11.8 21 11.8 12.5M45.8 286.3l11.8 6.3 11.8 6.2 11.8 6.7 11.8 6.8 11.8 17.5 11.8 20.7 11.8 12.6M48.3 284.8l11.8 6.3 11.8 6.3 11.8 6.8 11.8 6.8 11.8 17.3 11.8 20.5 11.8 12.7M50.9 283.3l11.8 6.3 11.8 6.5 11.8 6.7 11.8 6.9 11.8 17.2 11.8 20.2 11.8 12.8M53.5 281.8l11.8 6.3 11.8 6.6 11.8 6.6 11.8 6.9 11.8 17.4 11.8 20 11.8 13M56 280.2l11.8 6.4 11.8 6.8 11.8 6.4 11.8 6.9 11.8 17.6 11.8 19.8 11.8 13.1M58.6 278.7l11.8 6.4 11.8 6.9 11.8 6.3 11.8 6.9 11.8 17.8 11.8 19.6 11.8 13.3M61.2 277.2l11.8 6.5 11.8 7 11.8 6.1 11.8 7 11.8 17.9 11.8 19.4 11.8 13.5M63.8 275.7l11.8 6.5 11.8 7.1 11.8 6 11.8 7 11.8 18.1 11.8 19.2 11.8 13.6M66.3 274.2l11.8 6.5 11.8 7.3 11.8 5.8 11.8 7 11.8 18.3 11.8 19 11.8 13.8M68.9 273.1l11.8 6.5 11.8 7.3 11.8 5.8 11.8 7 11.8 18.3 11.8 18.7 11.8 13.9M71.5 271.9l11.8 6.5 11.8 7.5 11.8 5.6 11.8 7.1 11.8 18.3 11.8 18.4 11.8 14M74 270.7l11.8 6.6 11.8 7.5 11.8 5.6 11.8 7 11.8 18.3 11.8 18.2 11.8 14.1M76.6 269.5l11.8 6.6 11.8 7.7 11.8 5.4 11.8 7.1 11.8 18.3 11.8 17.9 11.8 14.3M79.2 268.4l11.8 6.5 11.8 7.9 11.8 5.3 11.8 7.1 11.8 18.2 11.8 17.7 11.8 14.4M81.7 267.2l11.8 6.6 11.8 7.9 11.8 5.2 11.8 7.2 11.8 18.2 11.8 17.4 11.8 14.5M84.3 264.7l11.8 6.6 11.8 7.7 11.8 5.2 11.8 7.1 11.8 18.2 11.8 17.8 11.8 14.6M86.9 262.2l11.8 6.6 11.8 7.5 11.8 5.1 11.8 7.1 11.8 18.2 11.8 18.1 11.8 14.8M89.4 259.7l11.8 6.7 11.8 7.1 11.8 5.2 11.8 7 11.8 18.2 11.8 18.4 11.8 14.9M92 257.2l11.8 6.7 11.8 6.9 11.8 5.1 11.8 7 11.8 18.2 11.8 18.7 11.8 15.1M94.6 254.7l11.8 6.7 11.8 6.7 11.8 5.1 11.8 6.9 11.8 18.2 11.8 19 11.8 15.3M97.2 252.1l11.8 6.7 11.8 6.4 11.8 5.1 11.8 6.9 11.8 18.3 11.8 19.3 11.8 15.4M99.7 251.1l11.8 6.8 11.8 6.6 11.8 4.9 11.8 6.8 11.8 18.6 11.8 19.1 11.8 15.5M102.3 250.1l11.8 6.9 11.8 6.6 11.8 4.8 11.8 6.8 11.8 18.8 11.8 18.9 11.8 15.7M104.9 249.1l11.8 6.9 11.8 6.8 11.8 4.6 11.8 6.7 11.8 19.1 11.8 18.7 11.8 15.8M107.4 248.1l11.8 6.9 11.8 6.9 11.8 4.4 11.8 6.8 11.8 19.3 11.8 18.5 11.8 16M110 247.1l11.8 6.9 11.8 7.1 11.8 4.2 11.8 6.7 11.8 19.6 11.8 18.3 11.8 16.1M112.6 246.1l11.8 7 11.8 7.1 11.8 4.1 11.8 6.7 11.8 19.8 11.8 18.1 11.8 16.3M115.1 244.8l11.8 6.8 11.8 7.2 11.8 4.1 11.8 6.4 11.8 17.9 11.8 17 11.8 16.6M117.7 243.4l11.8 6.8 11.8 7.1 11.8 4.3 11.8 6.1 11.8 15.9 11.8 15.8 11.8 16.9M120.3 242.1l11.8 6.7 11.8 7.1 11.8 4.3 11.8 5.8 11.8 14.1 11.8 14.6 11.8 17.2M122.8 240.8l11.8 6.6 11.8 7 11.8 4.5 11.8 5.5 11.8 12.1 11.8 13.5 11.8 17.5M125.4 239.4l11.8 6.6 11.8 7 11.8 4.5 11.8 5.2 11.8 10.2 11.8 12.4 11.8 17.8M128 238.1l11.8 6.5 11.8 7 11.8 4.5 11.8 5 11.8 8.2 11.8 11.2 11.8 18.1M130.5 236.4l11.8 6.6 11.8 7.2 11.8 4.6 11.8 5.1 11.8 8.3 11.8 11.2 11.8 18M133.1 234.7l11.8 6.6 11.8 7.5 11.8 4.7 11.8 5.2 11.8 8.5 11.8 11 11.8 18.1M135.7 233.1l11.8 6.6 11.8 7.7 11.8 4.7 11.8 5.5 11.8 8.5 11.8 11 11.8 18M138.2 231.4l11.8 6.7 11.8 7.9 11.8 4.8 11.8 5.6 11.8 8.7 11.8 10.9 11.8 17.9M140.8 229.7l11.8 6.7 11.8 8.2 11.8 4.9 11.8 5.7 11.8 8.9 11.8 10.7 11.8 17.9M143.4 228l11.8 6.8 11.8 8.4 11.8 5 11.8 5.9 11.8 8.9 11.8 10.7 11.8 17.9M146 226.4l11.8 6.8 11.8 8.8 11.8 5.3 11.8 6.1 11.8 9 11.8 10.3 11.8 17.9M148.5 224.7l11.8 6.8 11.8 9.3 11.8 5.6 11.8 6.3 11.8 9.1 11.8 10 11.8 17.7M151.1 223l11.8 6.9 11.8 9.7 11.8 6 11.8 6.4 11.8 9.3 11.8 9.5 11.8 17.7M153.7 221.3l11.8 7 11.8 10.1 11.8 6.3 11.8 6.7 11.8 9.3 11.8 9.2 11.8 17.6M156.2 219.7l11.8 6.9 11.8 10.6 11.8 6.7 11.8 6.8 11.8 9.4 11.8 8.8 11.8 17.6M158.8 218l11.8 7 11.8 11 11.8 7 11.8 7 11.8 9.5 11.8 8.5 11.8 17.5"/>
<path class="a" d="M129.9 384.4L253.2 351"/>
<path class="a" d="M129.9 384.4L35.5 340.2"/>
<path class="a" d="M35.5 340.2L35.5 245"/>
<path class="a" d="M129.9 384.4L132.3 385.5"/>
<text class="t" x="135.1" y="394.4">2</text>
<path class="a" d="M160.7 376L163.1 377.2"/>
<text class="t" x="165.9" y="386">4</text>
<path class="a" d="M191.6 367.7L193.9 368.8"/>
<text class="t" x="196.8" y="377.7">6</text>
<path class="a" d="M222.4 359.4L224.7 360.5"/>
<text class="t" x="227.6" y="369.4">8</text>
<path class="a" d="M253.2 351L255.6 352.1"/>
<text class="t" x="258.4" y="361">10</text>
<path class="a" d="M129.9 384.4L127.4 385.1"/>
<text class="t e" x="124" y="393.3">10</text>
<path class="a" d="M106.3 373.3L103.8 374"/>
<text class="t e" x="100.4" y="382.2">20</text>
<path class="a" d="M82.7 362.3L80.2 363"/>
<text class="t e" x="76.8" y="371.2">30</text>
<path class="a" d="M59.1 351.2L56.6 351.9"/>
<text class="t e" x="53.2" y="360.1">40</text>
<path class="a" d="M35.5 340.2L33 340.9"/>
<text class="t e" x="29.6" y="349.1">50</text>
<path class="a" d="M35.5 340.2L33 340.9"/>
<text class="t e" x="29.5" y="341.8">0</text>
<path class="a" d="M35.5 321.2L33 321.8"/>
<text class="t e" x="29.5" y="322.8">500</text>
<path class="a" d="M35.5 302.1L33 302.8"/>
<text class="t e" x="29.5" y="303.7">1000</text>
<path class="a" d="M35.5 283.1L33 283.8"/>
<text class="t e" x="29.5" y="284.7">1500</text>
<path class="a" d="M35.5 264L33 264.7"/>
<text class="t e" x="29.5" y="265.6">2000</text>
<path class="a" d="M35.5 245L33 245.7"/>
<text class="t e" x="29.5" y="246.6">2500</text>
<text class="l" text-anchor="middle" x="58.9" y="392.7">Number of Tasks</text>
<text class="l" text-anchor="middle" x="207" y="395.2">Number of UUVs</text>
<text class="l" text-anchor="middle" transform="translate(10.8 293.4) rotate(-90)">Global Utility</text>
<text class="c" text-anchor="middle" x="135.2" y="411">(c)</text>
<path class="g" d="M440 377L345.6 332.4M470.8 368.6L376.3 324M501.5 360.2L407.1 315.6M532.2 351.8L437.8 307.2M385.7 374.2L508.6 340.7M362.1 363.1L485 329.5M338.5 351.9L461.4 318.4M314.9 340.8L437.8 307.2M345.6 332.4L345.6 237.3M376.3 324L376.3 228.9M407.1 315.6L407.1 220.5M437.8 307.2L437.8 212.1M532.2 351.8L532.2 256.7M508.6 340.7L508.6 245.6M485 329.5L485 234.4M461.4 318.4L461.4 223.3M314.9 324.9L437.8 291.4M437.8 291.4L532.2 335.9M314.9 309.1L437.8 275.5M437.8 275.5L532.2 320.1M314.9 293.2L437.8 259.7M437.8 259.7L532.2 304.2M314.9 277.4L437.8 243.8M437.8 243.8L532.2 288.4M314.9 261.6L437.8 228M437.8 228L532.2 272.6M314.9 245.7L437.8 212.1M437.8 212.1L532.2 256.7"/>
<path class="m s0" d="M314.9 306.9l10.2-.4 1.7 .9-10.2 1.3zM317.5 306.8l1.6 1.5M320 306.7l1.7 1.3M322.6 306.6l1.7 1.1"/>
<path class="m s1" d="M314.9 300.9l10.2-5.5 1.7 .9-10.2 5.5zM317.5 299.6l1.6 .8M320 298.2l1.7 .9M322.6 296.8l1.7 .9"/>
<path class="m s0" d="M316.6 308.7l12.8-1.6 1.7 .7-12.8 2.6zM319.1 308.3l1.7 1.6M321.7 308l1.7 1.3M324.3 307.7l1.7 1.1M326.8 307.4l1.7 .9"/>
<path class="m s1" d="M316.6 301.8l10.2-5.5 1.7 .9-10.2 5.5zM319.1 300.4l1.7 .9M321.7 299.1l1.7 .8M324.3 297.7l1.7 .9"/>
<path class="m s0" d="M318.3 310.4l12.8-2.6 1.7 .8-12.8 3.5zM320.8 309.9l1.7 1.5M323.4 309.3l1.7 1.4M326 308.8l1.6 1.2M328.5 308.3l1.7 1"/>
<path class="m s1" d="M318.3 302.7l10.2-5.5 1.7 .9-10.2 5.5zM320.8 301.3l1.7 .9M323.4 299.9l1.7 .9M326 298.6l1.6 .9"/>
<path class="m s0" d="M320 312.1l12.8-3.5 1.6 .7-12.8 4.5zM322.5 311.4l1.7 1.5M325.1 310.7l1.7 1.3M327.6 310l1.7 1.1M330.2 309.3l1.7 .9"/>
<path class="m s1" d="M320 303.6l10.2-5.5 1.7 .9-10.3 5.4zM322.5 302.2l1.7 .9M325.1 300.8l1.7 .9M327.6 299.5l1.7 .8"/>
<path class="m s0" d="M321.6 313.8l12.8-4.5 1.7 .7-12.8 5.5zM324.2 312.9l1.7 1.5M326.8 312l1.6 1.3M329.3 311.1l1.7 1.1M331.9 310.2l1.7 .9"/>
<path class="m s1" d="M321.6 304.4l10.3-5.4 1.7 .9-10.3 5.4zM324.2 303.1l1.7 .8M326.8 301.7l1.6 .9M329.3 300.3l1.7 .9"/>
<path class="m s0" d="M323.3 315.5l12.8-5.5 1.7 .8-12.8 6.4zM325.9 314.4l1.7 1.5M328.4 313.3l1.7 1.3M331 312.2l1.7 1.1M333.6 311.1l1.7 .9"/>
<path class="m s1" d="M323.3 305.3l10.3-5.4 1.7 .8-10.3 5.5zM325.9 303.9l1.7 .9M328.4 302.6l1.7 .9M331 301.2l1.7 .9"/>
<path class="m s0" d="M325 317.2l12.8-6.4 1.7 .7-12.8 7.4zM327.6 315.9l1.7 1.5M330.1 314.6l1.7 1.3M332.7 313.3l1.7 1.2M335.3 312l1.6 1"/>
<path class="m s1" d="M325 306.2l10.3-5.5 1.6 .9-10.2 5.5zM327.6 304.8l1.7 .9M330.1 303.5l1.7 .8M332.7 302.1l1.7 .9"/>
<path class="m s0" d="M326.7 318.9l12.8-7.4 1.7 .6-12.8 7.8zM329.3 317.4l1.6 .9M331.8 315.9l1.7 .9M334.4 314.5l1.7 .7M336.9 313l1.7 .7"/>
<path class="m s1" d="M326.7 307.1l10.2-5.5 1.7 .9-10.2 5.4zM329.3 305.7l1.6 .8M331.8 304.3l1.7 .9M334.4 303l1.7 .9"/>
<path class="m s0" d="M328.4 319.9l12.8-7.8 1.7 .6-12.8 8.2zM330.9 318.3l1.7 .9M333.5 316.8l1.7 .8M336.1 315.2l1.7 .8M338.6 313.7l1.7 .6"/>
<path class="m s1" d="M328.4 307.9l10.2-5.4 1.7 .9-10.2 5.3zM330.9 306.5l1.7 .9M333.5 305.2l1.7 .9M336.1 303.9l1.7 .8"/>
<path class="m s0" d="M330.1 320.9l12.8-8.2 1.7 .6-12.8 8.5zM332.6 319.2l1.7 .9M335.2 317.6l1.7 .8M337.8 316l1.6 .7M340.3 314.3l1.7 .7"/>
<path class="m s1" d="M330.1 308.7l10.2-5.3 1.7 .9-10.2 5.2zM332.6 307.4l1.7 .8M335.2 306.1l1.7 .8M337.8 304.7l1.6 .9"/>
<path class="m s0" d="M331.8 321.8l12.8-8.5 1.6 .7-12.8 8.8zM334.3 320.1l1.7 .9M336.9 318.4l1.7 .8M339.4 316.7l1.7 .8M342 315l1.7 .7"/>
<path class="m s1" d="M331.8 309.5l10.2-5.2 1.7 .9-10.3 5.2zM334.3 308.2l1.7 .9M336.9 306.9l1.7 .9M339.4 305.6l1.7 .9"/>
<path class="m s0" d="M333.4 322.8l10.3-7.1 1.7 .7-10.3 7.3zM336 321l1.7 .9M338.6 319.2l1.6 .9M341.1 317.5l1.7 .7"/>
<path class="m s1" d="M333.4 310.4l10.3-5.2 1.7 .9-10.3 5.1zM336 309.1l1.7 .8M338.6 307.8l1.6 .8M341.1 306.5l1.7 .8"/>
<path class="m s0" d="M335.1 323.7l10.3-7.3 1.7 .7-10.3 7.6zM337.7 321.9l1.7 .9M340.2 320.1l1.7 .8M342.8 318.2l1.7 .8"/>
<path class="m s1" d="M335.1 311.2l10.3-5.1 1.7 .8-10.3 5.1zM337.7 309.9l1.7 .9M340.2 308.6l1.7 .9M342.8 307.3l1.7 .9"/>
<path class="m s0" d="M336.8 324.7l10.3-7.6 1.6 .7-10.2 7.9zM339.4 322.8l1.7 .9M341.9 320.9l1.7 .8M344.5 319l1.7 .8"/>
<path class="m s1" d="M336.8 312l7.7-3.8 1.7 .9-7.7 3.8zM339.4 310.8l1.7 .8M341.9 309.5l1.7 .8"/>
<path class="m s0" d="M338.5 325.7l10.2-7.9 1.7 1-10.2 7.8zM341.1 323.7l1.6 1M343.6 321.7l1.7 1M346.2 319.8l1.7 .9"/>
<path class="m s1" d="M338.5 312.9l7.7-3.8 1.7 .9-7.7 3.8zM341.1 311.6l1.6 .9M343.6 310.3l1.7 1"/>
<path class="m s0" d="M340.2 326.6l10.2-7.8 1.7 1-10.2 7.8zM342.7 324.7l1.7 1M345.3 322.7l1.7 1M347.9 320.7l1.7 1"/>
<path class="m s1" d="M340.2 313.8l7.7-3.8 1.7 .9-7.7 3.8zM342.7 312.5l1.7 1M345.3 311.3l1.7 .9"/>
<path class="m s0" d="M341.9 327.6l10.2-7.8 1.7 1-10.2 7.8zM344.4 325.7l1.7 .9M347 323.7l1.7 1M349.6 321.7l1.6 1"/>
<path class="m s1" d="M341.9 314.7l7.7-3.8 1.6 1-7.6 3.7zM344.4 313.5l1.7 .9M347 312.2l1.7 .9"/>
<path class="m s0" d="M343.6 328.6l10.2-7.8 1.7 1-10.3 7.8zM346.1 326.6l1.7 1M348.7 324.7l1.7 1M351.2 322.7l1.7 1"/>
<path class="m s1" d="M343.6 315.6l7.6-3.7 1.7 .9-7.7 3.8zM346.1 314.4l1.7 .9M348.7 313.1l1.7 1"/>
<path class="m s0" d="M345.2 329.6l10.3-7.8 1.7 1-10.3 7.7zM347.8 327.6l1.7 1M350.4 325.7l1.6 1M352.9 323.7l1.7 1"/>
<path class="m s1" d="M345.2 316.6l7.7-3.8 1.7 .9-7.7 3.8zM347.8 315.3l1.7 .9M350.4 314.1l1.6 .9"/>
<path class="m s0" d="M346.9 330.5l10.3-7.7 1.7 1-10.3 7.7zM349.5 328.6l1.7 1M352 326.7l1.7 1M354.6 324.7l1.7 1"/>
<path class="m s1" d="M346.9 317.5l7.7-3.8 1.7 1-7.7 3.7zM349.5 316.2l1.7 1M352 315l1.7 .9"/>
<path class="m s0" d="M348.6 331.5l10.3-7.7 1.6 1-10.2 7.7zM351.2 329.6l1.7 1M353.7 327.7l1.7 1M356.3 325.7l1.7 1"/>
<path class="m s1" d="M348.6 318.4l7.7-3.7 1.7 .9-7.7 3.7zM351.2 317.2l1.7 .9M353.7 315.9l1.7 .9"/>
<path class="m s0" d="M350.3 332.5l12.8-9.6 1.7 2.1-12.8 8.8zM352.9 330.6l1.6 1.4M355.4 328.7l1.7 1.5M358 326.7l1.7 1.8M360.5 324.8l1.7 1.9"/>
<path class="m s1" d="M350.3 319.3l7.7-3.7 1.7 1-7.7 3.7zM352.9 318.1l1.6 .9M355.4 316.8l1.7 1"/>
<path class="m s0" d="M352 333.8l12.8-8.8 1.7 2-12.8 8zM354.5 332l1.7 1.4M357.1 330.2l1.7 1.6M359.7 328.5l1.7 1.7M362.2 326.7l1.7 1.9"/>
<path class="m s1" d="M352 320.3l5.1-2.5 1.7 .9-5.1 2.5zM354.5 319l1.7 1"/>
<path class="m s0" d="M353.7 335l10.2-6.4 1.7 1.9-10.2 5.8zM356.2 333.4l1.7 1.5M358.8 331.8l1.7 1.6M361.4 330.2l1.6 1.8"/>
<path class="m s1" d="M353.7 321.2l5.1-2.5 1.7 1-5.1 2.4zM356.2 320l1.7 .9"/>
<path class="m s0" d="M355.4 336.3l10.2-5.8 1.7 1.9-10.3 5.2zM357.9 334.9l1.7 1.4M360.5 333.4l1.7 1.6M363 332l1.7 1.7"/>
<path class="m s1" d="M355.4 322.1l5.1-2.4 1.7 .9-5.2 2.5zM357.9 320.9l1.7 1"/>
<path class="m s0" d="M357 337.6l10.3-5.2 1.7 1.9-10.3 4.6zM359.6 336.3l1.7 1.4M362.2 335l1.6 1.6M364.7 333.7l1.7 1.7"/>
<path class="m s1" d="M357 323.1l5.2-2.5 1.6 1-5.1 2.4zM359.6 321.9l1.7 .9"/>
<path class="m s0" d="M358.7 338.9l10.3-4.6 1.7 1.9-10.3 4zM361.3 337.7l1.7 1.5M363.8 336.6l1.7 1.6M366.4 335.4l1.7 1.8"/>
<path class="m s1" d="M358.7 324l5.1-2.4 1.7 .9-5.1 2.5zM361.3 322.8l1.7 .9"/>
<path class="m s0" d="M360.4 340.2l10.3-4 1.6 1.9-10.2 3.3zM363 339.2l1.7 1.4M365.5 338.2l1.7 1.6M368.1 337.2l1.7 1.7"/>
<path class="m s1" d="M360.4 325l2.6-1.3 1.7 1-2.6 1.2z"/>
<path class="m s0" d="M362.1 341.4l10.2-3.3 1.7 1.5-10.2 3.1zM364.7 340.6l1.6 1.3M367.2 339.8l1.7 1.4M369.8 338.9l1.7 1.5"/>
<path class="m s1" d="M362.1 325.9l2.6-1.2 1.6 2.2-2.5 1.3z"/>
<path class="m s0" d="M363.8 342.7l10.2-3.1 1.7 1.5-10.2 2.9zM366.3 341.9l1.7 1.4M368.9 341.2l1.7 1.3M371.5 340.4l1.7 1.4"/>
<path class="m s1" d="M363.8 328.2l2.5-1.3 1.7 2.3-2.5 1.2z"/>
<path class="m s0" d="M365.5 344l10.2-2.9 1.7 1.5-10.2 2.7zM368 343.3l1.7 1.3M370.6 342.5l1.7 1.4M373.2 341.8l1.6 1.4"/>
<path class="m s1" d="M365.5 330.4l2.5-1.2 1.7 2.3-2.5 1.2z"/>
<path class="m s0" d="M367.2 345.3l7.6-2.1 1.7 1.5-7.7 1.9zM369.7 344.6l1.7 1.4M372.3 343.9l1.7 1.4"/>
<path class="m s1" d="M367.2 332.7l2.5-1.2 1.7 2.2-2.6 1.3z"/>
<path class="m s0" d="M368.8 346.6l7.7-1.9 1.7 1.4-7.7 1.8zM371.4 346l1.7 1.3M374 345.3l1.6 1.4"/>
<path class="m s1" d="M368.8 335l2.6-1.3 1.7 2.3-2.6 1.3z"/>
<path class="m s0" d="M370.5 347.9l7.7-1.8 1.7 1.5-7.7 1.6zM373.1 347.3l1.7 1.4M375.6 346.7l1.7 1.4"/>
<path class="m s1" d="M370.5 337.3l2.6-1.3 1.7 2.3-2.6 1.3z"/>
<path class="m s0" d="M372.2 349.2l5.1-1.1 1.7 1.4-5.1 1zM374.8 348.7l1.7 1.3"/>
<path class="m s1" d="M372.2 339.6l2.6-1.3 1.7 2.2-2.6 1.3z"/>
<path class="m s0" d="M373.9 350.5l5.1-1 1.7 1.2-5.1 1zM376.5 350l1.6 1.2"/>
<path class="m s1" d="M373.9 341.8l2.6-1.3 1.6 2.7-2.5 1.4z"/>
<path class="m s0" d="M375.6 351.7l5.1-1 1.7 1.2-5.1 1zM378.1 351.2l1.7 1.2"/>
<path class="m s1" d="M375.6 344.6l2.5-1.4 1.7 2.7-2.5 1.4z"/>
<path class="m s0" d="M377.3 352.9l2.5-.5 1.7 1.2-2.5 .6z"/>
<path class="m s1" d="M377.3 347.3l2.5-1.4 1.7 2.7-2.5 1.4z"/>
<path class="m s0" d="M379 354.2l2.5-.6 1.7 1.2-2.6 .6z"/>
<path class="m s1" d="M379 350l2.5-1.4 1.7 2.7-2.6 1.4z"/>
<path class="m s0" d="M380.6 355.4l2.6-.6 1.7 1.2-2.6 .6z"/>
<path class="m s1" d="M380.6 352.7l2.6-1.4 1.7 2.7-2.6 1.4z"/>
<path class="m s0" d="M382.3 356.6l2.6-.6 1.7 1.2-2.6 .6z"/>
<path class="m s1" d="M382.3 355.4l2.6-1.4 1.7 2.7-2.6 1.5z"/>
<path class="m s1" d="M384 358.2l2.6-1.5 1.7 2.7-2.6 1.5z"/>
<path class="m s0" d="M384 357.8l2.6-.6 1.7 1.2-2.6 .6z"/>
<path class="m s1" d="M385.7 360.9l2.6-1.5 1.6 1.5-2.5 1.6z"/>
<path class="m s0" d="M385.7 359l2.6-.6 1.6 1.2-2.5 .6z"/>
<path class="m s0" d="M497.5 303.5l12.8-3.7 1.7 1.3-12.8 3.6zM500 302.7l1.7 1.2M502.6 302l1.7 1.2M505.2 301.3l1.7 1.2M507.7 300.6l1.7 1.2"/>
<path class="m s1" d="M387.4 362.5l2.5-1.6 1.7 1.6-2.5 1.5z"/>
<path class="m s0" d="M387.4 360.2l2.5-.6 1.7 1.2-2.5 .7z"/>
<path class="m s0" d="M486.4 310.1l10.2-4.7 15.4-4.3 1.7 1.2-15.4 4.3-10.2 4.7zM488.9 308.9l1.7 1.2M491.5 307.7l1.7 1.2M494 306.6l1.7 1.1M496.6 305.4l1.7 1.2M499.2 304.7l1.7 1.1M501.7 303.9l1.7 1.2M504.3 303.2l1.7 1.2M506.9 302.5l1.6 1.2M509.4 301.8l1.7 1.2"/>
<path class="m s1" d="M389.1 364l2.5-1.5 1.7 1.6-2.5 1.5z"/>
<path class="m s0" d="M482.9 313.7l15.4-7.1 15.4-4.3 1.6 1.2-15.3 4.2-15.4 7.2zM485.5 312.5l1.7 1.2M488.1 311.3l1.6 1.2M490.6 310.1l1.7 1.2M493.2 308.9l1.7 1.2M495.7 307.7l1.7 1.2M498.3 306.6l1.7 1.1M500.9 305.8l1.6 1.2M503.4 305.1l1.7 1.2M506 304.4l1.7 1.2M508.5 303.7l1.7 1.2M511.1 303l1.7 1.2"/>
<path class="m s1" d="M390.8 365.6l2.5-1.5 1.7 1.6-2.6 1.5z"/>
<path class="m s0" d="M482.1 316.3l2.5-1.4 15.4-7.2 15.3-4.2 1.7 1.2-15.3 4.2-15.4 7.3-2.6 1.3zM484.6 314.9l1.7 1.3M487.2 313.7l1.7 1.3M489.7 312.5l1.7 1.3M492.3 311.3l1.7 1.2M494.9 310.1l1.6 1.2M497.4 308.9l1.7 1.2M500 307.7l1.7 1.2M502.5 307l1.7 1.2M505.1 306.3l1.7 1.2M507.7 305.6l1.6 1.2M510.2 304.9l1.7 1.2M512.8 304.2l1.7 1.2"/>
<path class="m s1" d="M392.4 367.2l2.6-1.5 1.7 1.6-2.6 1.5z"/>
<path class="m s0" d="M478.6 320.2l7.7-4 15.4-7.3 15.3-4.2 1.7 1.2-15.3 4.2-15.4 7.3-7.7 4zM481.2 318.9l1.7 1.2M483.7 317.5l1.7 1.2M486.3 316.2l1.7 1.2M488.9 315l1.6 1.2M491.4 313.8l1.7 1.2M494 312.5l1.7 1.2M496.5 311.3l1.7 1.2M499.1 310.1l1.7 1.2M501.7 308.9l1.7 1.2M504.2 308.2l1.7 1.2M506.8 307.5l1.7 1.2M509.3 306.8l1.7 1.2M511.9 306.1l1.7 1.2M514.5 305.4l1.7 1.2"/>
<path class="m s1" d="M394.1 368.8l2.6-1.5 1.7 1.6-2.6 1.5z"/>
<path class="m s0" d="M477.7 322.7l10.3-5.3 15.4-7.3 15.3-4.2 1.7 1.3-15.4 4.1-15.3 7.3-10.3 5.2zM480.3 321.4l1.7 1.1M482.9 320.1l1.7 1.1M485.4 318.7l1.7 1.2M488 317.4l1.7 1.2M490.5 316.2l1.7 1.2M493.1 315l1.7 1.2M495.7 313.7l1.7 1.2M498.2 312.5l1.7 1.2M500.8 311.3l1.7 1.2M503.4 310.1l1.6 1.2M505.9 309.4l1.7 1.2M508.5 308.7l1.7 1.2M511 308l1.7 1.2M513.6 307.3l1.7 1.2M516.2 306.6l1.6 1.3"/>
<path class="m s1" d="M477.7 321.8l10.3-15.4 15.4-6.6 15.3-5.7 1.7 2.2-15.4 5.8-15.3 6.6-10.3 15.2zM480.3 317.9l1.7 2.2M482.9 314.1l1.7 2.2M485.4 310.2l1.7 2.3M488 306.4l1.7 2.3M490.5 305.3l1.7 2.3M493.1 304.2l1.7 2.3M495.7 303.1l1.7 2.3M498.2 302l1.7 2.3M500.8 300.9l1.7 2.3M503.4 299.8l1.6 2.3M505.9 298.8l1.7 2.3M508.5 297.9l1.7 2.2M511 296.9l1.7 2.3M513.6 296l1.7 2.2M516.2 295l1.6 2.3"/>
<path class="m s1" d="M439.3 348.1l2.6-1.2 15.4-12.4 15.3-5.1 5.1-7.6 1.7 2.1-5.1 7.6-15.4 4.9-15.3 12.4-2.6 1.2zM441.9 346.9l1.7 1.9M444.5 344.9l1.6 1.8M447 342.8l1.7 1.9M449.6 340.7l1.7 1.9M452.1 338.6l1.7 2M454.7 336.6l1.7 1.9M457.3 334.5l1.6 1.9M459.8 333.6l1.7 2M462.4 332.8l1.7 2M464.9 332l1.7 2M467.5 331.1l1.7 2.1M470.1 330.3l1.7 2M472.6 329.4l1.7 2.1M475.2 325.6l1.7 2.1"/>
<path class="m s0" d="M439.3 348.5l2.6-1.6 5.1-5.6 1.7 .8-5.1 5.5-2.6 1.6zM441.9 346.9l1.7 .7M444.5 344.1l1.6 .7"/>
<path class="m s0" d="M475.2 324l2.5-1.3 1.7 1.1-2.5 1.4z"/>
<path class="m s0" d="M413.7 360.9l12.8-4.3 12.8-8.1 1.7 .7-12.8 8.4-12.8 4.3zM416.3 360l1.7 1M418.9 359.2l1.6 1M421.4 358.3l1.7 1M424 357.5l1.7 .9M426.5 356.6l1.7 1M429.1 355l1.7 .9M431.7 353.4l1.6 .8M434.2 351.7l1.7 .9M436.8 350.1l1.7 .8"/>
<path class="m s1" d="M413.7 360.4l12.8-6.3 12.8-6 1.7 1.9-12.8 5.9-12.8 6.2zM416.3 359.2l1.7 1.7M418.9 357.9l1.6 1.7M421.4 356.6l1.7 1.8M424 355.4l1.7 1.7M426.5 354.1l1.7 1.8M429.1 352.9l1.7 1.8M431.7 351.7l1.6 1.8M434.2 350.5l1.7 1.8M436.8 349.3l1.7 1.9"/>
<path class="m s1" d="M395.8 370.4l15.4-8.7 2.5-1.3 1.7 1.7-2.5 1.2-15.4 8.6zM398.4 368.9l1.7 1.6M400.9 367.5l1.7 1.6M403.5 366l1.7 1.6M406.1 364.6l1.6 1.6M408.6 363.1l1.7 1.7M411.2 361.7l1.7 1.6"/>
<path class="m s0" d="M406.1 363.2l5.1-1.5 2.5-.8 1.7 1-2.5 .9-5.2 1.6zM408.6 362.5l1.7 1.1M411.2 361.7l1.7 1.1"/>
<path class="s2" d="M314.9 291l15.4-7.5 15.3-8 15.4-8.9 15.3-13 15.4-5.6 15.4-7.8 15.3-11.4 15.4-11.4 11.8 8.3 0 0-15.4 10.9-15.3 10.9-15.4 7.9-15.4 5.3-15.3 12.6-15.4 8.6-15.3 7.6-15.4 7.3z"/>
<path class="s2" d="M326.7 296.8l15.4-7.3 15.3-7.6 15.4-8.6 15.3-12.6 15.4-5.3 15.4-7.9 15.3-10.9 15.4-10.9 11.8 12 0 0-15.4 10-15.3 10-15.4 8.1-15.4 4.6-15.3 12-15.4 7.8-15.3 7-15.4 6.7z"/>
<path class="s2" d="M338.5 303.9l15.4-6.7 15.3-7 15.4-7.8 15.3-12 15.4-4.6 15.4-8.1 15.3-10 15.4-10 11.8 8.3 0 0-15.4 9.4-15.3 9.3-15.4 9.6-15.4 4.6-15.3 11.9-15.4 7.5-15.3 7-15.4 6.9z"/>
<path class="s2" d="M350.3 312.2l15.4-6.9 15.3-7 15.4-7.5 15.4-11.9 15.3-4.6 15.4-9.6 15.3-9.3 15.4-9.4 11.8 7.6 0 0-15.4 8.6-15.3 8.1-15.4 13.1-15.4 4.7-15.3 12.1-15.4 7.3-15.3 7.3-15.4 7.4z"/>
<path class="s2" d="M362.1 322.2l15.4-7.4 15.3-7.3 15.4-7.3 15.3-12.1 15.4-4.7 15.4-13.1 15.3-8.1 15.4-8.6 11.8 14.5 0 0-15.4 7-15.3 6-15.4 18.3-15.4 4.7-15.3 12-15.4 6.7-15.3 7.5-15.4 8z"/>
<path class="s2" d="M373.9 338.3l15.4-8 15.3-7.5 15.4-6.7 15.3-12 15.4-4.7 15.4-18.3 15.3-6 15.4-7 11.8 9.9 0 0-15.4 6.9-15.3 5.8-15.4 18.5-15.4 5.7-15.3 17.2-15.4 7.4-15.3 8.6-15.4 9.4z"/>
<path class="s2" d="M385.7 357.5l15.4-9.4 15.3-8.6 15.4-7.4 15.3-17.2 15.4-5.7 15.4-18.5 15.3-5.8 15.4-6.9 11.8 17.6 0 0-15.4 5.8-15.3 4.4-15.4 23.6-15.4 5-15.3 12.4-15.4 6.5-15.3 7.9-15.4 9z"/>
<path class="m" fill="none" d="M314.9 291l15.4-7.5 15.3-8 15.4-8.9 15.3-13 15.4-5.6 15.4-7.8 15.3-11.4 15.4-11.4M316.6 291.8l15.3-7.5 15.4-7.9 15.4-8.9 15.3-12.8 15.4-5.6 15.4-7.8 15.3-11.4 15.4-11.3M318.3 292.7l15.3-7.5 15.4-7.9 15.4-8.8 15.3-12.8 15.4-5.6 15.3-7.8 15.4-11.3 15.4-11.3M320 293.5l15.3-7.4 15.4-7.9 15.3-8.7 15.4-12.8 15.4-5.5 15.3-7.8 15.4-11.3 15.4-11.2M321.6 294.3l15.4-7.4 15.4-7.7 15.3-8.8 15.4-12.7 15.4-5.5 15.3-7.8 15.4-11.1 15.3-11.2M323.3 295.1l15.4-7.3 15.4-7.7 15.3-8.7 15.4-12.7 15.3-5.4 15.4-7.9 15.4-11 15.3-11.1M325 296l15.4-7.3 15.3-7.7 15.4-8.6 15.4-12.7 15.3-5.3 15.4-7.9 15.4-11 15.3-11M326.7 296.8l15.4-7.3 15.3-7.6 15.4-8.6 15.3-12.6 15.4-5.3 15.4-7.9 15.3-10.9 15.4-10.9M328.4 297.8l15.3-7.2 15.4-7.5 15.4-8.5 15.3-12.5 15.4-5.2 15.4-7.9 15.3-10.8 15.4-10.8M330.1 298.8l15.3-7.1 15.4-7.4 15.4-8.4 15.3-12.4 15.4-5.1 15.3-8 15.4-10.6 15.4-10.7M331.8 299.8l15.3-7 15.4-7.4 15.3-8.2 15.4-12.3 15.4-5.1 15.3-7.9 15.4-10.5 15.4-10.6M333.4 300.8l15.4-6.9 15.4-7.3 15.3-8.1 15.4-12.2 15.4-5 15.3-8 15.4-10.3 15.3-10.5M335.1 301.9l15.4-6.9 15.4-7.2 15.3-8 15.4-12.2 15.3-4.8 15.4-8 15.4-10.2 15.3-10.3M336.8 302.9l15.4-6.8 15.3-7.1 15.4-7.9 15.4-12.1 15.3-4.7 15.4-8.1 15.4-10 15.3-10.2M338.5 303.9l15.4-6.7 15.3-7 15.4-7.8 15.3-12 15.4-4.6 15.4-8.1 15.3-10 15.4-10M340.2 305.1l15.3-6.8 15.4-7 15.4-7.7 15.3-12 15.4-4.6 15.4-8.3 15.3-9.9 15.4-9.9M341.9 306.2l15.3-6.7 15.4-7 15.4-7.7 15.3-12 15.4-4.6 15.3-8.5 15.4-9.8 15.4-9.8M343.6 307.4l15.3-6.7 15.4-7 15.3-7.7 15.4-12 15.4-4.6 15.3-8.7 15.4-9.7 15.4-9.7M345.2 308.6l15.4-6.8 15.4-7 15.3-7.6 15.4-11.9 15.4-4.7 15.3-8.9 15.4-9.6 15.3-9.7M346.9 309.8l15.4-6.8 15.4-7 15.3-7.6 15.4-11.9 15.3-4.6 15.4-9.2 15.4-9.5 15.3-9.6M348.6 311l15.4-6.9 15.3-7 15.4-7.5 15.4-11.9 15.3-4.6 15.4-9.4 15.4-9.4 15.3-9.5M350.3 312.2l15.4-6.9 15.3-7 15.4-7.5 15.4-11.9 15.3-4.6 15.4-9.6 15.3-9.3 15.4-9.4M352 313.6l15.3-6.9 15.4-7.1 15.4-7.5 15.3-11.9 15.4-4.6 15.4-10.1 15.3-9.1 15.4-9.3M353.7 315l15.3-7 15.4-7.1 15.4-7.4 15.3-12 15.4-4.6 15.3-10.6 15.4-8.9 15.4-9.2M355.4 316.5l15.3-7.1 15.4-7.1 15.3-7.5 15.4-12 15.4-4.6 15.3-11.1 15.4-8.8 15.4-9.1M357 317.9l15.4-7.2 15.4-7.1 15.3-7.4 15.4-12 15.4-4.7 15.3-11.6 15.4-8.6 15.3-9M358.7 319.3l15.4-7.2 15.4-7.2 15.3-7.4 15.4-12 15.3-4.7 15.4-12.1 15.4-8.4 15.3-8.9M360.4 320.8l15.4-7.3 15.3-7.3 15.4-7.4 15.4-12 15.3-4.7 15.4-12.6 15.4-8.3 15.3-8.7M362.1 322.2l15.4-7.4 15.3-7.3 15.4-7.3 15.3-12.1 15.4-4.7 15.4-13.1 15.3-8.1 15.4-8.6M363.8 324.5l15.3-7.5 15.4-7.3 15.4-7.2 15.3-12.1 15.4-4.7 15.4-13.9 15.3-7.8 15.4-8.4M365.5 326.8l15.3-7.6 15.4-7.3 15.4-7.1 15.3-12.1 15.4-4.7 15.3-14.6 15.4-7.5 15.4-8.2M367.2 329.1l15.3-7.7 15.4-7.3 15.3-7.1 15.4-12 15.4-4.7 15.3-15.4 15.4-7.2 15.4-7.9M368.8 331.4l15.4-7.8 15.4-7.3 15.3-7 15.4-12.1 15.4-4.6 15.3-16.1 15.4-7 15.3-7.6M370.5 333.7l15.4-7.9 15.4-7.3 15.3-6.9 15.4-12.1 15.3-4.7 15.4-16.8 15.4-6.6 15.3-7.4M372.2 336l15.4-8 15.3-7.4 15.4-6.7 15.4-12.1 15.3-4.7 15.4-17.5 15.4-6.4 15.3-7.2M373.9 338.3l15.4-8 15.3-7.5 15.4-6.7 15.3-12 15.4-4.7 15.4-18.3 15.3-6 15.4-7M375.6 341l15.3-8.2 15.4-7.6 15.4-6.8 15.3-12.8 15.4-4.8 15.4-18.3 15.3-6 15.4-7M377.3 343.8l15.3-8.5 15.4-7.7 15.4-6.9 15.3-13.5 15.4-5 15.3-18.3 15.4-6 15.4-7M379 346.5l15.3-8.6 15.4-7.9 15.3-7 15.4-14.3 15.4-5.1 15.3-18.4 15.4-5.9 15.4-7M380.6 349.3l15.4-8.9 15.4-8.1 15.3-7 15.4-15 15.4-5.3 15.3-18.4 15.4-5.9 15.3-6.9M382.3 352l15.4-9 15.4-8.3 15.3-7.1 15.4-15.8 15.3-5.4 15.4-18.4 15.4-5.9 15.3-6.9M384 354.7l15.4-9.2 15.3-8.4 15.4-7.2 15.4-16.5 15.3-5.6 15.4-18.4 15.4-5.9 15.3-6.9M385.7 357.5l15.4-9.4 15.3-8.6 15.4-7.4 15.3-17.2 15.4-5.7 15.4-18.5 15.3-5.8 15.4-6.9M387.4 359.3l15.3-9.4 15.4-8.5 15.4-7.2 15.3-16.5 15.4-5.6 15.4-19.2 15.3-5.6 15.4-6.8M389.1 361.1l15.3-9.3 15.4-8.4 15.4-7.1 15.3-15.8 15.4-5.5 15.3-19.9 15.4-5.5 15.4-6.6M390.8 362.9l15.3-9.2 15.4-8.3 15.3-7 15.4-15.1 15.4-5.4 15.3-20.7 15.4-5.2 15.4-6.5M392.4 364.7l15.4-9.1 15.4-8.2 15.3-6.9 15.4-14.5 15.4-5.2 15.3-21.4 15.4-5.1 15.3-6.2M394.1 366.5l15.4-9 15.4-8.2 15.3-6.7 15.4-13.8 15.3-5.1 15.4-22.2 15.4-4.8 15.3-6.1M395.8 368.3l15.4-9 15.3-8 15.4-6.6 15.4-13.1 15.3-5.1 15.4-22.8 15.4-4.7 15.3-5.9M397.5 370.2l15.4-9 15.3-7.9 15.4-6.5 15.3-12.4 15.4-5 15.4-23.6 15.3-4.4 15.4-5.8M314.9 291l11.8 5.8 11.8 7.1 11.8 8.3 11.8 10 11.8 16.1 11.8 19.2 11.8 12.7M317.5 289.8l11.8 5.8 11.8 7.2 11.8 8.2 11.8 10 11.8 15.9 11.8 19 11.8 12.8M320 288.5l11.8 5.9 11.8 7.2 11.8 8.3 11.8 9.9 11.8 15.8 11.8 18.7 11.8 12.9M322.6 287.2l11.8 6 11.8 7.3 11.8 8.2 11.8 9.8 11.8 15.8 11.8 18.5 11.8 12.9M325.1 286l11.8 5.9 11.8 7.5 11.8 8.2 11.8 9.7 11.8 15.6 11.8 18.3 11.8 13M327.7 284.7l11.8 6 11.8 7.6 11.8 8.1 11.8 9.6 11.8 15.6 11.8 18 11.8 13.1M330.3 283.5l11.8 6 11.8 7.7 11.8 8.1 11.8 9.5 11.8 15.5 11.8 17.8 11.8 13.1M332.8 282.1l11.8 6.1 11.8 7.8 11.8 8.1 11.8 9.5 11.8 15.4 11.8 17.6 11.8 13.3M335.4 280.8l11.8 6.2 11.8 7.8 11.8 8.2 11.8 9.4 11.8 15.4 11.8 17.4 11.8 13.4M337.9 279.5l11.8 6.2 11.8 8 11.8 8.1 11.8 9.4 11.8 15.3 11.8 17.3 11.8 13.4M340.5 278.2l11.8 6.2 11.8 8.1 11.8 8.1 11.8 9.4 11.8 15.3 11.8 17 11.8 13.6M343.1 276.8l11.8 6.4 11.8 8.1 11.8 8.2 11.8 9.2 11.8 15.4 11.8 16.8 11.8 13.7M345.6 275.5l11.8 6.4 11.8 8.3 11.8 8.1 11.8 9.2 11.8 15.3 11.8 16.7 11.8 13.8M348.2 274l11.8 6.5 11.8 8.4 11.8 8.2 11.8 9.2 11.8 15.4 11.8 16.6 11.8 13.9M350.7 272.5l11.8 6.5 11.8 8.6 11.8 8.2 11.8 9.3 11.8 15.5 11.8 16.4 11.8 14.1M353.3 271l11.8 6.6 11.8 8.7 11.8 8.2 11.8 9.4 11.8 15.6 11.8 16.3 11.8 14.2M355.9 269.6l11.8 6.6 11.8 8.8 11.8 8.3 11.8 9.3 11.8 15.8 11.8 16.2 11.8 14.4M358.4 268.1l11.8 6.7 11.8 8.9 11.8 8.3 11.8 9.4 11.8 15.9 11.8 16.1 11.8 14.5M361 266.6l11.8 6.7 11.8 9.1 11.8 8.4 11.8 9.4 11.8 15.9 11.8 16 11.8 14.7M363.5 264.4l11.8 6.8 11.8 9.2 11.8 8.4 11.8 9.4 11.8 15.9 11.8 15.2 11.8 15.4M366.1 262.3l11.8 6.8 11.8 9.3 11.8 8.4 11.8 9.4 11.8 15.9 11.8 14.3 11.8 16.3M368.7 260.1l11.8 6.9 11.8 9.4 11.8 8.4 11.8 9.4 11.8 15.9 11.8 13.4 11.8 17.1M371.2 258l11.8 6.9 11.8 9.5 11.8 8.5 11.8 9.2 11.8 16 11.8 12.6 11.8 17.8M373.8 255.8l11.8 7 11.8 9.6 11.8 8.5 11.8 9.2 11.8 16 11.8 11.7 11.8 18.7M376.3 253.6l11.8 7.1 11.8 9.7 11.9 8.5 11.7 9.2 11.8 16 11.8 10.8 11.8 19.5M378.9 252.7l11.8 7.2 11.8 9.7 11.8 8.5 11.8 9.2 11.8 16 11.8 10.7 11.8 19.6M381.5 251.8l11.8 7.2 11.8 9.9 11.8 8.5 11.8 9.1 11.8 16 11.8 10.5 11.8 19.7M384 250.8l11.8 7.3 11.8 10 11.8 8.5 11.8 9.2 11.8 15.9 11.8 10.4 11.8 19.8M386.6 249.9l11.8 7.3 11.8 10.1 11.8 8.5 11.8 9.2 11.8 16 11.8 10.1 11.8 20M389.2 248.9l11.8 7.4 11.8 10.2 11.8 8.6 11.8 9.1 11.8 16 11.8 10 11.8 20.1M391.7 248l11.8 7.4 11.8 10.4 11.8 8.5 11.8 9.1 11.8 16 11.8 9.8 11.8 20.2M394.3 246.7l11.8 7.4 11.8 10.3 11.8 8.3 11.8 8.5 11.8 15.2 11.8 9.8 11.8 19.3M396.8 245.4l11.8 7.4 11.8 10.3 11.8 8 11.8 7.9 11.8 14.3 11.8 9.8 11.8 18.5M399.4 244.1l11.8 7.4 11.8 10.2 11.8 7.8 11.8 7.3 11.8 13.5 11.8 9.7 11.8 17.6M402 242.8l11.8 7.3 11.8 10.3 11.8 7.5 11.8 6.8 11.8 12.5 11.8 9.7 11.8 16.8M404.5 241.5l11.8 7.3 11.8 10.2 11.8 7.3 11.8 6.2 11.8 11.7 11.8 9.6 11.8 16M407.1 240.2l11.8 7.3 11.8 10.2 11.8 7 11.8 5.6 11.8 10.8 11.8 9.6 11.8 15.1M409.6 238.3l11.8 7.4 11.8 10.3 11.8 7.1 11.8 5.8 11.8 11.2 11.8 9.7 11.8 15.3M412.2 236.4l11.8 7.5 11.8 10.5 11.8 7.2 11.8 6 11.8 11.5 11.8 9.7 11.8 15.6M414.8 234.5l11.8 7.6 11.8 10.6 11.8 7.4 11.8 6.1 11.8 11.9 11.8 9.7 11.8 15.8M417.3 232.6l11.8 7.6 11.8 10.9 11.8 7.4 11.8 6.4 11.8 12.2 11.8 9.8 11.8 16M419.9 230.7l11.8 7.7 11.8 11 11.8 7.6 11.8 6.5 11.8 12.6 11.8 9.8 11.8 16.2M422.4 228.8l11.8 7.8 11.8 11.1 11.8 7.7 11.8 6.8 11.8 12.9 11.8 9.8 11.8 16.5M425 226.9l11.8 7.9 11.8 11.3 11.8 7.8 11.8 6.8 11.8 13.2 11.8 9.9 11.8 16.6M427.6 225l11.8 8 11.8 11.4 11.8 7.9 11.8 7 11.8 13.4 11.8 9.9 11.8 16.9M430.1 223.1l11.8 8 11.8 11.6 11.8 8 11.8 7.2 11.8 13.7 11.8 9.9 11.8 17M432.7 221.2l11.8 8.1 11.8 11.8 11.8 8 11.8 7.3 11.8 14 11.8 9.9 11.8 17.2M435.2 219.3l11.8 8.2 11.8 11.9 11.8 8.2 11.8 7.4 11.8 14.3 11.8 9.8 11.8 17.5M437.8 217.4l11.8 8.3 11.8 12 11.8 8.3 11.8 7.6 11.8 14.5 11.8 9.9 11.8 17.6"/>
<path class="m s0" d="M390.8 362.7l2.5-.7 1.7 1.2-2.6 .7z"/>
<path class="m s0" d="M392.4 363.9l2.6-.7 1.7 1.2-2.6 .7z"/>
<path class="m s0" d="M453 331.9l2.6-2.9 15.3-4.7 1.7 1.1-15.3 4.7-2.6 2.8zM455.6 329l1.7 1.1M458.1 328.2l1.7 1.1M460.7 327.4l1.7 1.1M463.3 326.7l1.6 1M465.8 325.9l1.7 1M468.4 325.1l1.7 1.1"/>
<path class="m s0" d="M394.1 365.1l5.1-1.5 1.7 1.2-5.1 1.5zM396.7 364.4l1.7 1.1"/>
<path class="m s0" d="M447 341.3l10.3-11.2 15.3-4.7 2.6-1.4 1.7 1.2-2.6 1.3-15.4 4.6-10.2 11zM449.6 338.5l1.7 .8M452.1 335.7l1.7 .9M454.7 332.9l1.7 .9M457.3 330.1l1.6 1M459.8 329.3l1.7 1M462.4 328.5l1.7 1.1M464.9 327.7l1.7 1.1M467.5 326.9l1.7 1.1M470.1 326.2l1.7 1M472.6 325.4l1.7 1.1"/>
<path class="m s0" d="M395.8 366.3l7.7-2.3 1.7 1.2-7.7 2.3zM398.4 365.5l1.7 1.2M400.9 364.8l1.7 1.1"/>
<path class="a" d="M409.3 385.4L532.2 351.8"/>
<path class="a" d="M409.3 385.4L314.9 340.8"/>
<path class="a" d="M314.9 340.8L314.9 245.7"/>
<path class="a" d="M409.3 385.4L411.7 386.5"/>
<text class="t" x="414.5" y="395.4">2</text>
<path class="a" d="M440 377L442.4 378.1"/>
<text class="t" x="445.2" y="387">4</text>
<path class="a" d="M470.8 368.6L473.1 369.7"/>
<text class="t" x="475.9" y="378.6">6</text>
<path class="a" d="M501.5 360.2L503.8 361.3"/>
<text class="t" x="506.7" y="370.2">8</text>
<path class="a" d="M532.2 351.8L534.6 352.9"/>
<text class="t" x="537.4" y="361.8">10</text>
<path class="a" d="M409.3 385.4L406.8 386.1"/>
<text class="t e" x="403.4" y="394.3">10</text>
<path class="a" d="M385.7 374.2L383.2 374.9"/>
<text class="t e" x="379.8" y="383.1">20</text>
<path class="a" d="M362.1 363.1L359.6 363.8"/>
<text class="t e" x="356.2" y="372">30</text>
<path class="a" d="M338.5 351.9L336 352.6"/>
<text class="t e" x="332.6" y="360.8">40</text>
<path class="a" d="M314.9 340.8L312.4 341.5"/>
<text class="t e" x="309" y="349.7">50</text>
<path class="a" d="M314.9 340.8L312.4 341.5"/>
<text class="t e" x="308.9" y="342.4">0</text>
<path class="a" d="M314.9 324.9L312.4 325.6"/>
<text class="t e" x="308.9" y="326.6">500</text>
<path class="a" d="M314.9 309.1L312.4 309.8"/>
<text class="t e" x="308.9" y="310.7">1000</text>
<path class="a" d="M314.9 293.2L312.4 293.9"/>
<text class="t e" x="308.9" y="294.9">1500</text>
<path class="a" d="M314.9 277.4L312.4 278.1"/>
<text class="t e" x="308.9" y="279">2000</text>
<path class="a" d="M314.9 261.6L312.4 262.2"/>
<text class="t e" x="308.9" y="263.2">2500</text>
<path class="a" d="M314.9 245.7L312.4 246.4"/>
<text class="t e" x="308.9" y="247.3">3000</text>
<text class="l" text-anchor="middle" x="338.3" y="393.7">Number of Tasks</text>
<text class="l" text-anchor="middle" x="486.4" y="396.2">Number of UUVs</text>
<text class="l" text-anchor="middle" transform="translate(289.4 294) rotate(-90)">Global Utility</text>
<text class="c" text-anchor="middle" x="415" y="411.2">(d)</text>
</svg></body></html>
